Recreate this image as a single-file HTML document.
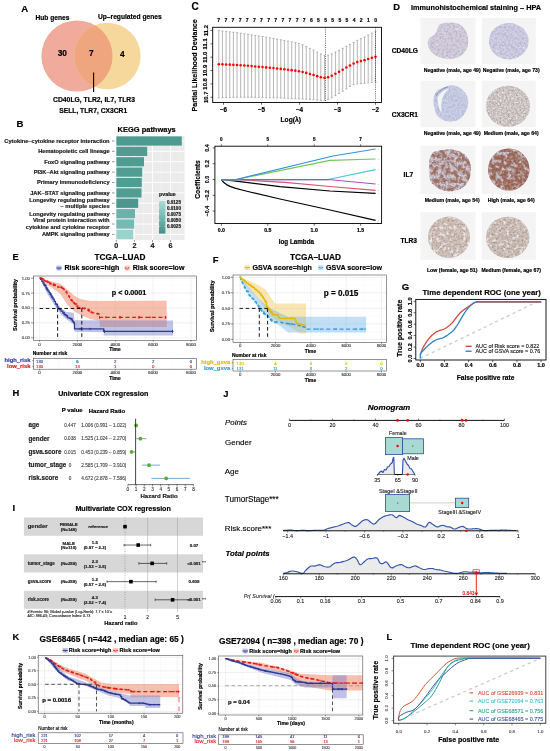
<!DOCTYPE html>
<html><head><meta charset="utf-8"><title>Figure</title>
<style>
html,body{margin:0;padding:0;background:#fff;}
body{width:550px;height:751px;overflow:hidden;}
svg{display:block;font-family:"Liberation Sans", Arial, sans-serif;}
</style></head><body>
<svg width="550" height="751" viewBox="0 0 550 751">
<rect x="0" y="0" width="550" height="751" fill="#fff"/>
<text x="21.30" y="11.80" font-size="9.6" font-weight="bold" stroke="#000" stroke-width="0.18" >A</text>
<defs><clipPath id="clipL"><circle cx="77" cy="56" r="35.6"/></clipPath></defs>
<circle cx="77.00" cy="56.00" r="35.6" fill="#F0AB9C" />
<circle cx="107.30" cy="56.00" r="33.3" fill="#F7D89C" />
<circle cx="107.3" cy="56" r="33.3" fill="#EFA67E" clip-path="url(#clipL)"/>
<text x="35.50" y="19.50" font-size="6.65" font-weight="bold" stroke="#000" stroke-width="0.18" >Hub genes</text>
<text x="98.00" y="19.20" font-size="6.67" font-weight="bold" stroke="#000" stroke-width="0.18" >Up–regulated genes</text>
<text x="62.30" y="56.20" font-size="8.4" font-weight="bold" text-anchor="middle" stroke="#000" stroke-width="0.18" >30</text>
<text x="91.40" y="56.20" font-size="8.4" font-weight="bold" text-anchor="middle" stroke="#000" stroke-width="0.18" >7</text>
<text x="122.40" y="56.60" font-size="8.4" font-weight="bold" text-anchor="middle" stroke="#000" stroke-width="0.18" >4</text>
<line x1="93.60" y1="72.40" x2="93.60" y2="92.00" stroke="#000" stroke-width="1.1" />
<text x="94.00" y="101.80" font-size="6.8" font-weight="bold" text-anchor="middle" stroke="#000" stroke-width="0.18" >CD40LG, TLR2, IL7, TLR3</text>
<text x="93.20" y="112.70" font-size="6.72" font-weight="bold" text-anchor="middle" stroke="#000" stroke-width="0.18" >SELL, TLR7, CX3CR1</text>
<text x="16.60" y="126.80" font-size="9.6" font-weight="bold" stroke="#000" stroke-width="0.18" >B</text>
<text x="117.60" y="132.30" font-size="7.48" font-weight="bold" stroke="#000" stroke-width="0.18" >KEGG pathways</text>
<rect x="116.30" y="136.00" width="68.20" height="104.00" fill="#EBEBEB" />
<line x1="125.35" y1="136.00" x2="125.35" y2="240.00" stroke="#F7F7F7" stroke-width="0.5" />
<line x1="143.45" y1="136.00" x2="143.45" y2="240.00" stroke="#F7F7F7" stroke-width="0.5" />
<line x1="161.55" y1="136.00" x2="161.55" y2="240.00" stroke="#F7F7F7" stroke-width="0.5" />
<line x1="179.65" y1="136.00" x2="179.65" y2="240.00" stroke="#F7F7F7" stroke-width="0.5" />
<line x1="116.30" y1="136.00" x2="116.30" y2="240.00" stroke="#FFFFFF" stroke-width="0.9" />
<line x1="134.40" y1="136.00" x2="134.40" y2="240.00" stroke="#FFFFFF" stroke-width="0.9" />
<line x1="152.50" y1="136.00" x2="152.50" y2="240.00" stroke="#FFFFFF" stroke-width="0.9" />
<line x1="170.60" y1="136.00" x2="170.60" y2="240.00" stroke="#FFFFFF" stroke-width="0.9" />
<line x1="116.30" y1="141.00" x2="184.50" y2="141.00" stroke="#FFFFFF" stroke-width="0.9" />
<line x1="116.30" y1="151.38" x2="184.50" y2="151.38" stroke="#FFFFFF" stroke-width="0.9" />
<line x1="116.30" y1="161.76" x2="184.50" y2="161.76" stroke="#FFFFFF" stroke-width="0.9" />
<line x1="116.30" y1="172.14" x2="184.50" y2="172.14" stroke="#FFFFFF" stroke-width="0.9" />
<line x1="116.30" y1="182.52" x2="184.50" y2="182.52" stroke="#FFFFFF" stroke-width="0.9" />
<line x1="116.30" y1="192.90" x2="184.50" y2="192.90" stroke="#FFFFFF" stroke-width="0.9" />
<line x1="116.30" y1="203.28" x2="184.50" y2="203.28" stroke="#FFFFFF" stroke-width="0.9" />
<line x1="116.30" y1="213.66" x2="184.50" y2="213.66" stroke="#FFFFFF" stroke-width="0.9" />
<line x1="116.30" y1="224.04" x2="184.50" y2="224.04" stroke="#FFFFFF" stroke-width="0.9" />
<line x1="116.30" y1="234.42" x2="184.50" y2="234.42" stroke="#FFFFFF" stroke-width="0.9" />
<rect x="116.30" y="136.40" width="65.50" height="9.20" fill="#4C9A90" />
<line x1="112.00" y1="141.00" x2="114.60" y2="141.00" stroke="#333" stroke-width="0.5" />
<text x="109.60" y="142.90" font-size="5.7" font-weight="bold" text-anchor="end" fill="#1a1a1a" stroke="#1a1a1a" stroke-width="0.18" >Cytokine–cytokine receptor interaction</text>
<rect x="116.30" y="146.78" width="30.90" height="9.20" fill="#4E9C92" />
<line x1="112.00" y1="151.38" x2="114.60" y2="151.38" stroke="#333" stroke-width="0.5" />
<text x="109.60" y="153.28" font-size="5.7" font-weight="bold" text-anchor="end" fill="#1a1a1a" stroke="#1a1a1a" stroke-width="0.18" >Hematopoietic cell lineage</text>
<rect x="116.30" y="157.16" width="27.70" height="9.20" fill="#4E9C92" />
<line x1="112.00" y1="161.76" x2="114.60" y2="161.76" stroke="#333" stroke-width="0.5" />
<text x="109.60" y="163.66" font-size="5.7" font-weight="bold" text-anchor="end" fill="#1a1a1a" stroke="#1a1a1a" stroke-width="0.18" >FoxO signaling pathway</text>
<rect x="116.30" y="167.54" width="25.90" height="9.20" fill="#4F9D93" />
<line x1="112.00" y1="172.14" x2="114.60" y2="172.14" stroke="#333" stroke-width="0.5" />
<text x="109.60" y="174.04" font-size="5.7" font-weight="bold" text-anchor="end" fill="#1a1a1a" stroke="#1a1a1a" stroke-width="0.18" >PI3K–Akt signaling pathway</text>
<rect x="116.30" y="177.92" width="25.50" height="9.20" fill="#4F9D93" />
<line x1="112.00" y1="182.52" x2="114.60" y2="182.52" stroke="#333" stroke-width="0.5" />
<text x="109.60" y="184.42" font-size="5.7" font-weight="bold" text-anchor="end" fill="#1a1a1a" stroke="#1a1a1a" stroke-width="0.18" >Primary immunodeficiency</text>
<rect x="116.30" y="188.30" width="25.20" height="9.20" fill="#4F9D93" />
<line x1="112.00" y1="192.90" x2="114.60" y2="192.90" stroke="#333" stroke-width="0.5" />
<text x="109.60" y="194.80" font-size="5.7" font-weight="bold" text-anchor="end" fill="#1a1a1a" stroke="#1a1a1a" stroke-width="0.18" >JAK–STAT signaling pathway</text>
<rect x="116.30" y="198.68" width="21.90" height="9.20" fill="#4B968D" />
<line x1="112.00" y1="203.28" x2="114.60" y2="203.28" stroke="#333" stroke-width="0.5" />
<text x="109.60" y="201.68" font-size="5.7" font-weight="bold" text-anchor="end" fill="#1a1a1a" stroke="#1a1a1a" stroke-width="0.18" >Longevity regulating pathway</text>
<text x="109.60" y="208.38" font-size="5.7" font-weight="bold" text-anchor="end" fill="#1a1a1a" stroke="#1a1a1a" stroke-width="0.18" >– multiple species</text>
<rect x="116.30" y="209.06" width="18.70" height="9.20" fill="#6AB3AC" />
<line x1="112.00" y1="213.66" x2="114.60" y2="213.66" stroke="#333" stroke-width="0.5" />
<text x="109.60" y="215.56" font-size="5.7" font-weight="bold" text-anchor="end" fill="#1a1a1a" stroke="#1a1a1a" stroke-width="0.18" >Longevity regulating pathway</text>
<rect x="116.30" y="219.44" width="17.90" height="9.20" fill="#75BBB5" />
<line x1="112.00" y1="224.04" x2="114.60" y2="224.04" stroke="#333" stroke-width="0.5" />
<text x="109.60" y="222.44" font-size="5.7" font-weight="bold" text-anchor="end" fill="#1a1a1a" stroke="#1a1a1a" stroke-width="0.18" >Viral protein interaction with</text>
<text x="109.60" y="229.14" font-size="5.7" font-weight="bold" text-anchor="end" fill="#1a1a1a" stroke="#1a1a1a" stroke-width="0.18" >cytokine and cytokine receptor</text>
<rect x="116.30" y="229.82" width="16.70" height="9.20" fill="#9AD3CE" />
<line x1="112.00" y1="234.42" x2="114.60" y2="234.42" stroke="#333" stroke-width="0.5" />
<text x="109.60" y="236.32" font-size="5.7" font-weight="bold" text-anchor="end" fill="#1a1a1a" stroke="#1a1a1a" stroke-width="0.18" >AMPK signaling pathway</text>
<line x1="116.30" y1="240.00" x2="116.30" y2="242.20" stroke="#333" stroke-width="0.5" />
<text x="116.30" y="247.60" font-size="7.2" font-weight="bold" text-anchor="middle" fill="#1a1a1a" stroke="#1a1a1a" stroke-width="0.18" >0</text>
<line x1="134.40" y1="240.00" x2="134.40" y2="242.20" stroke="#333" stroke-width="0.5" />
<text x="134.40" y="247.60" font-size="7.2" font-weight="bold" text-anchor="middle" fill="#1a1a1a" stroke="#1a1a1a" stroke-width="0.18" >2</text>
<line x1="152.50" y1="240.00" x2="152.50" y2="242.20" stroke="#333" stroke-width="0.5" />
<text x="152.50" y="247.60" font-size="7.2" font-weight="bold" text-anchor="middle" fill="#1a1a1a" stroke="#1a1a1a" stroke-width="0.18" >4</text>
<line x1="170.60" y1="240.00" x2="170.60" y2="242.20" stroke="#333" stroke-width="0.5" />
<text x="170.60" y="247.60" font-size="7.2" font-weight="bold" text-anchor="middle" fill="#1a1a1a" stroke="#1a1a1a" stroke-width="0.18" >6</text>
<text x="159.00" y="196.20" font-size="5.3" font-weight="bold" fill="#1a1a1a" stroke="#1a1a1a" stroke-width="0.18" >pvalue</text>
<defs><linearGradient id="gB" x1="0" y1="0" x2="0" y2="1"><stop offset="0" stop-color="#A6DDD9"/><stop offset="1" stop-color="#44918A"/></linearGradient></defs>
<rect x="159.00" y="201.00" width="6.40" height="32.60" fill="url(#gB)" />
<line x1="159.00" y1="201.90" x2="160.30" y2="201.90" stroke="#fff" stroke-width="0.4" />
<line x1="164.10" y1="201.90" x2="165.40" y2="201.90" stroke="#fff" stroke-width="0.4" />
<text x="167.00" y="203.50" font-size="4.55" font-weight="bold" fill="#1a1a1a" stroke="#1a1a1a" stroke-width="0.18" >0.0125</text>
<line x1="159.00" y1="208.05" x2="160.30" y2="208.05" stroke="#fff" stroke-width="0.4" />
<line x1="164.10" y1="208.05" x2="165.40" y2="208.05" stroke="#fff" stroke-width="0.4" />
<text x="167.00" y="209.65" font-size="4.55" font-weight="bold" fill="#1a1a1a" stroke="#1a1a1a" stroke-width="0.18" >0.0100</text>
<line x1="159.00" y1="214.20" x2="160.30" y2="214.20" stroke="#fff" stroke-width="0.4" />
<line x1="164.10" y1="214.20" x2="165.40" y2="214.20" stroke="#fff" stroke-width="0.4" />
<text x="167.00" y="215.80" font-size="4.55" font-weight="bold" fill="#1a1a1a" stroke="#1a1a1a" stroke-width="0.18" >0.0075</text>
<line x1="159.00" y1="220.35" x2="160.30" y2="220.35" stroke="#fff" stroke-width="0.4" />
<line x1="164.10" y1="220.35" x2="165.40" y2="220.35" stroke="#fff" stroke-width="0.4" />
<text x="167.00" y="221.95" font-size="4.55" font-weight="bold" fill="#1a1a1a" stroke="#1a1a1a" stroke-width="0.18" >0.0050</text>
<line x1="159.00" y1="226.50" x2="160.30" y2="226.50" stroke="#fff" stroke-width="0.4" />
<line x1="164.10" y1="226.50" x2="165.40" y2="226.50" stroke="#fff" stroke-width="0.4" />
<text x="167.00" y="228.10" font-size="4.55" font-weight="bold" fill="#1a1a1a" stroke="#1a1a1a" stroke-width="0.18" >0.0025</text>
<text x="191.60" y="10.10" font-size="10.0" font-weight="bold" stroke="#000" stroke-width="0.18" >C</text>
<line x1="218.80" y1="30.60" x2="218.80" y2="97.80" stroke="#9E9E9E" stroke-width="0.75" />
<line x1="217.80" y1="30.60" x2="219.80" y2="30.60" stroke="#9E9E9E" stroke-width="0.75" />
<line x1="217.80" y1="97.80" x2="219.80" y2="97.80" stroke="#9E9E9E" stroke-width="0.75" />
<line x1="222.44" y1="31.01" x2="222.44" y2="97.70" stroke="#9E9E9E" stroke-width="0.75" />
<line x1="221.44" y1="31.01" x2="223.44" y2="31.01" stroke="#9E9E9E" stroke-width="0.75" />
<line x1="221.44" y1="97.70" x2="223.44" y2="97.70" stroke="#9E9E9E" stroke-width="0.75" />
<line x1="226.09" y1="31.42" x2="226.09" y2="97.59" stroke="#9E9E9E" stroke-width="0.75" />
<line x1="225.09" y1="31.42" x2="227.09" y2="31.42" stroke="#9E9E9E" stroke-width="0.75" />
<line x1="225.09" y1="97.59" x2="227.09" y2="97.59" stroke="#9E9E9E" stroke-width="0.75" />
<line x1="229.73" y1="31.83" x2="229.73" y2="97.49" stroke="#9E9E9E" stroke-width="0.75" />
<line x1="228.73" y1="31.83" x2="230.73" y2="31.83" stroke="#9E9E9E" stroke-width="0.75" />
<line x1="228.73" y1="97.49" x2="230.73" y2="97.49" stroke="#9E9E9E" stroke-width="0.75" />
<line x1="233.38" y1="32.26" x2="233.38" y2="97.41" stroke="#9E9E9E" stroke-width="0.75" />
<line x1="232.38" y1="32.26" x2="234.38" y2="32.26" stroke="#9E9E9E" stroke-width="0.75" />
<line x1="232.38" y1="97.41" x2="234.38" y2="97.41" stroke="#9E9E9E" stroke-width="0.75" />
<line x1="237.02" y1="32.70" x2="237.02" y2="97.34" stroke="#9E9E9E" stroke-width="0.75" />
<line x1="236.02" y1="32.70" x2="238.02" y2="32.70" stroke="#9E9E9E" stroke-width="0.75" />
<line x1="236.02" y1="97.34" x2="238.02" y2="97.34" stroke="#9E9E9E" stroke-width="0.75" />
<line x1="240.67" y1="33.18" x2="240.67" y2="97.31" stroke="#9E9E9E" stroke-width="0.75" />
<line x1="239.67" y1="33.18" x2="241.67" y2="33.18" stroke="#9E9E9E" stroke-width="0.75" />
<line x1="239.67" y1="97.31" x2="241.67" y2="97.31" stroke="#9E9E9E" stroke-width="0.75" />
<line x1="244.31" y1="33.70" x2="244.31" y2="97.32" stroke="#9E9E9E" stroke-width="0.75" />
<line x1="243.31" y1="33.70" x2="245.31" y2="33.70" stroke="#9E9E9E" stroke-width="0.75" />
<line x1="243.31" y1="97.32" x2="245.31" y2="97.32" stroke="#9E9E9E" stroke-width="0.75" />
<line x1="247.95" y1="34.25" x2="247.95" y2="97.35" stroke="#9E9E9E" stroke-width="0.75" />
<line x1="246.95" y1="34.25" x2="248.95" y2="34.25" stroke="#9E9E9E" stroke-width="0.75" />
<line x1="246.95" y1="97.35" x2="248.95" y2="97.35" stroke="#9E9E9E" stroke-width="0.75" />
<line x1="251.60" y1="34.81" x2="251.60" y2="97.41" stroke="#9E9E9E" stroke-width="0.75" />
<line x1="250.60" y1="34.81" x2="252.60" y2="34.81" stroke="#9E9E9E" stroke-width="0.75" />
<line x1="250.60" y1="97.41" x2="252.60" y2="97.41" stroke="#9E9E9E" stroke-width="0.75" />
<line x1="255.24" y1="35.39" x2="255.24" y2="97.47" stroke="#9E9E9E" stroke-width="0.75" />
<line x1="254.24" y1="35.39" x2="256.24" y2="35.39" stroke="#9E9E9E" stroke-width="0.75" />
<line x1="254.24" y1="97.47" x2="256.24" y2="97.47" stroke="#9E9E9E" stroke-width="0.75" />
<line x1="258.89" y1="35.98" x2="258.89" y2="97.55" stroke="#9E9E9E" stroke-width="0.75" />
<line x1="257.89" y1="35.98" x2="259.89" y2="35.98" stroke="#9E9E9E" stroke-width="0.75" />
<line x1="257.89" y1="97.55" x2="259.89" y2="97.55" stroke="#9E9E9E" stroke-width="0.75" />
<line x1="262.53" y1="36.57" x2="262.53" y2="97.61" stroke="#9E9E9E" stroke-width="0.75" />
<line x1="261.53" y1="36.57" x2="263.53" y2="36.57" stroke="#9E9E9E" stroke-width="0.75" />
<line x1="261.53" y1="97.61" x2="263.53" y2="97.61" stroke="#9E9E9E" stroke-width="0.75" />
<line x1="266.17" y1="37.18" x2="266.17" y2="97.66" stroke="#9E9E9E" stroke-width="0.75" />
<line x1="265.17" y1="37.18" x2="267.17" y2="37.18" stroke="#9E9E9E" stroke-width="0.75" />
<line x1="265.17" y1="97.66" x2="267.17" y2="97.66" stroke="#9E9E9E" stroke-width="0.75" />
<line x1="269.82" y1="37.79" x2="269.82" y2="97.72" stroke="#9E9E9E" stroke-width="0.75" />
<line x1="268.82" y1="37.79" x2="270.82" y2="37.79" stroke="#9E9E9E" stroke-width="0.75" />
<line x1="268.82" y1="97.72" x2="270.82" y2="97.72" stroke="#9E9E9E" stroke-width="0.75" />
<line x1="273.46" y1="38.42" x2="273.46" y2="97.80" stroke="#9E9E9E" stroke-width="0.75" />
<line x1="272.46" y1="38.42" x2="274.46" y2="38.42" stroke="#9E9E9E" stroke-width="0.75" />
<line x1="272.46" y1="97.80" x2="274.46" y2="97.80" stroke="#9E9E9E" stroke-width="0.75" />
<line x1="277.11" y1="39.07" x2="277.11" y2="97.89" stroke="#9E9E9E" stroke-width="0.75" />
<line x1="276.11" y1="39.07" x2="278.11" y2="39.07" stroke="#9E9E9E" stroke-width="0.75" />
<line x1="276.11" y1="97.89" x2="278.11" y2="97.89" stroke="#9E9E9E" stroke-width="0.75" />
<line x1="280.75" y1="39.75" x2="280.75" y2="98.02" stroke="#9E9E9E" stroke-width="0.75" />
<line x1="279.75" y1="39.75" x2="281.75" y2="39.75" stroke="#9E9E9E" stroke-width="0.75" />
<line x1="279.75" y1="98.02" x2="281.75" y2="98.02" stroke="#9E9E9E" stroke-width="0.75" />
<line x1="284.40" y1="40.44" x2="284.40" y2="98.15" stroke="#9E9E9E" stroke-width="0.75" />
<line x1="283.40" y1="40.44" x2="285.40" y2="40.44" stroke="#9E9E9E" stroke-width="0.75" />
<line x1="283.40" y1="98.15" x2="285.40" y2="98.15" stroke="#9E9E9E" stroke-width="0.75" />
<line x1="288.04" y1="41.14" x2="288.04" y2="98.29" stroke="#9E9E9E" stroke-width="0.75" />
<line x1="287.04" y1="41.14" x2="289.04" y2="41.14" stroke="#9E9E9E" stroke-width="0.75" />
<line x1="287.04" y1="98.29" x2="289.04" y2="98.29" stroke="#9E9E9E" stroke-width="0.75" />
<line x1="291.68" y1="41.86" x2="291.68" y2="98.45" stroke="#9E9E9E" stroke-width="0.75" />
<line x1="290.68" y1="41.86" x2="292.68" y2="41.86" stroke="#9E9E9E" stroke-width="0.75" />
<line x1="290.68" y1="98.45" x2="292.68" y2="98.45" stroke="#9E9E9E" stroke-width="0.75" />
<line x1="295.33" y1="42.63" x2="295.33" y2="98.66" stroke="#9E9E9E" stroke-width="0.75" />
<line x1="294.33" y1="42.63" x2="296.33" y2="42.63" stroke="#9E9E9E" stroke-width="0.75" />
<line x1="294.33" y1="98.66" x2="296.33" y2="98.66" stroke="#9E9E9E" stroke-width="0.75" />
<line x1="298.97" y1="43.47" x2="298.97" y2="98.95" stroke="#9E9E9E" stroke-width="0.75" />
<line x1="297.97" y1="43.47" x2="299.97" y2="43.47" stroke="#9E9E9E" stroke-width="0.75" />
<line x1="297.97" y1="98.95" x2="299.97" y2="98.95" stroke="#9E9E9E" stroke-width="0.75" />
<line x1="302.62" y1="44.88" x2="302.62" y2="98.99" stroke="#9E9E9E" stroke-width="0.75" />
<line x1="301.62" y1="44.88" x2="303.62" y2="44.88" stroke="#9E9E9E" stroke-width="0.75" />
<line x1="301.62" y1="98.99" x2="303.62" y2="98.99" stroke="#9E9E9E" stroke-width="0.75" />
<line x1="306.26" y1="46.59" x2="306.26" y2="99.19" stroke="#9E9E9E" stroke-width="0.75" />
<line x1="305.26" y1="46.59" x2="307.26" y2="46.59" stroke="#9E9E9E" stroke-width="0.75" />
<line x1="305.26" y1="99.19" x2="307.26" y2="99.19" stroke="#9E9E9E" stroke-width="0.75" />
<line x1="309.90" y1="48.40" x2="309.90" y2="99.48" stroke="#9E9E9E" stroke-width="0.75" />
<line x1="308.90" y1="48.40" x2="310.90" y2="48.40" stroke="#9E9E9E" stroke-width="0.75" />
<line x1="308.90" y1="99.48" x2="310.90" y2="99.48" stroke="#9E9E9E" stroke-width="0.75" />
<line x1="313.55" y1="50.16" x2="313.55" y2="99.72" stroke="#9E9E9E" stroke-width="0.75" />
<line x1="312.55" y1="50.16" x2="314.55" y2="50.16" stroke="#9E9E9E" stroke-width="0.75" />
<line x1="312.55" y1="99.72" x2="314.55" y2="99.72" stroke="#9E9E9E" stroke-width="0.75" />
<line x1="317.19" y1="52.12" x2="317.19" y2="100.17" stroke="#9E9E9E" stroke-width="0.75" />
<line x1="316.19" y1="52.12" x2="318.19" y2="52.12" stroke="#9E9E9E" stroke-width="0.75" />
<line x1="316.19" y1="100.17" x2="318.19" y2="100.17" stroke="#9E9E9E" stroke-width="0.75" />
<line x1="320.84" y1="53.98" x2="320.84" y2="100.52" stroke="#9E9E9E" stroke-width="0.75" />
<line x1="319.84" y1="53.98" x2="321.84" y2="53.98" stroke="#9E9E9E" stroke-width="0.75" />
<line x1="319.84" y1="100.52" x2="321.84" y2="100.52" stroke="#9E9E9E" stroke-width="0.75" />
<line x1="324.48" y1="55.30" x2="324.48" y2="100.32" stroke="#9E9E9E" stroke-width="0.75" />
<line x1="323.48" y1="55.30" x2="325.48" y2="55.30" stroke="#9E9E9E" stroke-width="0.75" />
<line x1="323.48" y1="100.32" x2="325.48" y2="100.32" stroke="#9E9E9E" stroke-width="0.75" />
<line x1="328.13" y1="55.15" x2="328.13" y2="99.49" stroke="#9E9E9E" stroke-width="0.75" />
<line x1="327.13" y1="55.15" x2="329.13" y2="55.15" stroke="#9E9E9E" stroke-width="0.75" />
<line x1="327.13" y1="99.49" x2="329.13" y2="99.49" stroke="#9E9E9E" stroke-width="0.75" />
<line x1="331.77" y1="53.82" x2="331.77" y2="97.79" stroke="#9E9E9E" stroke-width="0.75" />
<line x1="330.77" y1="53.82" x2="332.77" y2="53.82" stroke="#9E9E9E" stroke-width="0.75" />
<line x1="330.77" y1="97.79" x2="332.77" y2="97.79" stroke="#9E9E9E" stroke-width="0.75" />
<line x1="335.41" y1="52.01" x2="335.41" y2="95.62" stroke="#9E9E9E" stroke-width="0.75" />
<line x1="334.41" y1="52.01" x2="336.41" y2="52.01" stroke="#9E9E9E" stroke-width="0.75" />
<line x1="334.41" y1="95.62" x2="336.41" y2="95.62" stroke="#9E9E9E" stroke-width="0.75" />
<line x1="339.06" y1="50.24" x2="339.06" y2="93.50" stroke="#9E9E9E" stroke-width="0.75" />
<line x1="338.06" y1="50.24" x2="340.06" y2="50.24" stroke="#9E9E9E" stroke-width="0.75" />
<line x1="338.06" y1="93.50" x2="340.06" y2="93.50" stroke="#9E9E9E" stroke-width="0.75" />
<line x1="342.70" y1="48.29" x2="342.70" y2="91.23" stroke="#9E9E9E" stroke-width="0.75" />
<line x1="341.70" y1="48.29" x2="343.70" y2="48.29" stroke="#9E9E9E" stroke-width="0.75" />
<line x1="341.70" y1="91.23" x2="343.70" y2="91.23" stroke="#9E9E9E" stroke-width="0.75" />
<line x1="346.35" y1="46.25" x2="346.35" y2="88.88" stroke="#9E9E9E" stroke-width="0.75" />
<line x1="345.35" y1="46.25" x2="347.35" y2="46.25" stroke="#9E9E9E" stroke-width="0.75" />
<line x1="345.35" y1="88.88" x2="347.35" y2="88.88" stroke="#9E9E9E" stroke-width="0.75" />
<line x1="349.99" y1="44.28" x2="349.99" y2="86.59" stroke="#9E9E9E" stroke-width="0.75" />
<line x1="348.99" y1="44.28" x2="350.99" y2="44.28" stroke="#9E9E9E" stroke-width="0.75" />
<line x1="348.99" y1="86.59" x2="350.99" y2="86.59" stroke="#9E9E9E" stroke-width="0.75" />
<line x1="353.63" y1="42.51" x2="353.63" y2="84.57" stroke="#9E9E9E" stroke-width="0.75" />
<line x1="352.63" y1="42.51" x2="354.63" y2="42.51" stroke="#9E9E9E" stroke-width="0.75" />
<line x1="352.63" y1="84.57" x2="354.63" y2="84.57" stroke="#9E9E9E" stroke-width="0.75" />
<line x1="357.28" y1="40.36" x2="357.28" y2="83.87" stroke="#9E9E9E" stroke-width="0.75" />
<line x1="356.28" y1="40.36" x2="358.28" y2="40.36" stroke="#9E9E9E" stroke-width="0.75" />
<line x1="356.28" y1="83.87" x2="358.28" y2="83.87" stroke="#9E9E9E" stroke-width="0.75" />
<line x1="360.92" y1="38.61" x2="360.92" y2="83.58" stroke="#9E9E9E" stroke-width="0.75" />
<line x1="359.92" y1="38.61" x2="361.92" y2="38.61" stroke="#9E9E9E" stroke-width="0.75" />
<line x1="359.92" y1="83.58" x2="361.92" y2="83.58" stroke="#9E9E9E" stroke-width="0.75" />
<line x1="364.57" y1="36.91" x2="364.57" y2="83.34" stroke="#9E9E9E" stroke-width="0.75" />
<line x1="363.57" y1="36.91" x2="365.57" y2="36.91" stroke="#9E9E9E" stroke-width="0.75" />
<line x1="363.57" y1="83.34" x2="365.57" y2="83.34" stroke="#9E9E9E" stroke-width="0.75" />
<line x1="368.21" y1="35.05" x2="368.21" y2="82.93" stroke="#9E9E9E" stroke-width="0.75" />
<line x1="367.21" y1="35.05" x2="369.21" y2="35.05" stroke="#9E9E9E" stroke-width="0.75" />
<line x1="367.21" y1="82.93" x2="369.21" y2="82.93" stroke="#9E9E9E" stroke-width="0.75" />
<line x1="371.86" y1="33.17" x2="371.86" y2="82.52" stroke="#9E9E9E" stroke-width="0.75" />
<line x1="370.86" y1="33.17" x2="372.86" y2="33.17" stroke="#9E9E9E" stroke-width="0.75" />
<line x1="370.86" y1="82.52" x2="372.86" y2="82.52" stroke="#9E9E9E" stroke-width="0.75" />
<line x1="375.50" y1="31.30" x2="375.50" y2="82.10" stroke="#9E9E9E" stroke-width="0.75" />
<line x1="374.50" y1="31.30" x2="376.50" y2="31.30" stroke="#9E9E9E" stroke-width="0.75" />
<line x1="374.50" y1="82.10" x2="376.50" y2="82.10" stroke="#9E9E9E" stroke-width="0.75" />
<circle cx="218.80" cy="64.20" r="1.3" fill="#FF0000" />
<circle cx="222.44" cy="64.35" r="1.3" fill="#FF0000" />
<circle cx="226.09" cy="64.50" r="1.3" fill="#FF0000" />
<circle cx="229.73" cy="64.66" r="1.3" fill="#FF0000" />
<circle cx="233.38" cy="64.83" r="1.3" fill="#FF0000" />
<circle cx="237.02" cy="65.02" r="1.3" fill="#FF0000" />
<circle cx="240.67" cy="65.25" r="1.3" fill="#FF0000" />
<circle cx="244.31" cy="65.51" r="1.3" fill="#FF0000" />
<circle cx="247.95" cy="65.80" r="1.3" fill="#FF0000" />
<circle cx="251.60" cy="66.11" r="1.3" fill="#FF0000" />
<circle cx="255.24" cy="66.43" r="1.3" fill="#FF0000" />
<circle cx="258.89" cy="66.76" r="1.3" fill="#FF0000" />
<circle cx="262.53" cy="67.09" r="1.3" fill="#FF0000" />
<circle cx="266.17" cy="67.42" r="1.3" fill="#FF0000" />
<circle cx="269.82" cy="67.76" r="1.3" fill="#FF0000" />
<circle cx="273.46" cy="68.11" r="1.3" fill="#FF0000" />
<circle cx="277.11" cy="68.48" r="1.3" fill="#FF0000" />
<circle cx="280.75" cy="68.88" r="1.3" fill="#FF0000" />
<circle cx="284.40" cy="69.29" r="1.3" fill="#FF0000" />
<circle cx="288.04" cy="69.71" r="1.3" fill="#FF0000" />
<circle cx="291.68" cy="70.16" r="1.3" fill="#FF0000" />
<circle cx="295.33" cy="70.64" r="1.3" fill="#FF0000" />
<circle cx="298.97" cy="71.21" r="1.3" fill="#FF0000" />
<circle cx="302.62" cy="71.94" r="1.3" fill="#FF0000" />
<circle cx="306.26" cy="72.89" r="1.3" fill="#FF0000" />
<circle cx="309.90" cy="73.94" r="1.3" fill="#FF0000" />
<circle cx="313.55" cy="74.94" r="1.3" fill="#FF0000" />
<circle cx="317.19" cy="76.15" r="1.3" fill="#FF0000" />
<circle cx="320.84" cy="77.25" r="1.3" fill="#FF0000" />
<circle cx="324.48" cy="77.81" r="1.3" fill="#FF0000" />
<circle cx="328.13" cy="77.32" r="1.3" fill="#FF0000" />
<circle cx="331.77" cy="75.80" r="1.3" fill="#FF0000" />
<circle cx="335.41" cy="73.81" r="1.3" fill="#FF0000" />
<circle cx="339.06" cy="71.87" r="1.3" fill="#FF0000" />
<circle cx="342.70" cy="69.76" r="1.3" fill="#FF0000" />
<circle cx="346.35" cy="67.57" r="1.3" fill="#FF0000" />
<circle cx="349.99" cy="65.43" r="1.3" fill="#FF0000" />
<circle cx="353.63" cy="63.54" r="1.3" fill="#FF0000" />
<circle cx="357.28" cy="62.12" r="1.3" fill="#FF0000" />
<circle cx="360.92" cy="61.10" r="1.3" fill="#FF0000" />
<circle cx="364.57" cy="60.13" r="1.3" fill="#FF0000" />
<circle cx="368.21" cy="58.99" r="1.3" fill="#FF0000" />
<circle cx="371.86" cy="57.85" r="1.3" fill="#FF0000" />
<circle cx="375.50" cy="56.70" r="1.3" fill="#FF0000" />
<line x1="325.50" y1="27.30" x2="325.50" y2="102.50" stroke="#000" stroke-width="0.6" stroke-dasharray="1,1.2" />
<line x1="375.50" y1="27.30" x2="375.50" y2="102.50" stroke="#000" stroke-width="0.6" stroke-dasharray="1,1.2" />
<rect x="212.70" y="27.30" width="168.80" height="75.20" fill="none" stroke="#000" stroke-width="0.9" />
<line x1="210.50" y1="30.50" x2="212.70" y2="30.50" stroke="#000" stroke-width="0.6" />
<text x="207.50" y="30.50" font-size="5.9" font-weight="bold" text-anchor="middle" stroke="#000" stroke-width="0.18" transform="rotate(-90 207.50 30.50)" >11.2</text>
<line x1="210.50" y1="43.85" x2="212.70" y2="43.85" stroke="#000" stroke-width="0.6" />
<text x="207.50" y="43.85" font-size="5.9" font-weight="bold" text-anchor="middle" stroke="#000" stroke-width="0.18" transform="rotate(-90 207.50 43.85)" >11.1</text>
<line x1="210.50" y1="57.20" x2="212.70" y2="57.20" stroke="#000" stroke-width="0.6" />
<text x="207.50" y="57.20" font-size="5.9" font-weight="bold" text-anchor="middle" stroke="#000" stroke-width="0.18" transform="rotate(-90 207.50 57.20)" >11.0</text>
<line x1="210.50" y1="70.55" x2="212.70" y2="70.55" stroke="#000" stroke-width="0.6" />
<text x="207.50" y="70.55" font-size="5.9" font-weight="bold" text-anchor="middle" stroke="#000" stroke-width="0.18" transform="rotate(-90 207.50 70.55)" >10.9</text>
<line x1="210.50" y1="83.90" x2="212.70" y2="83.90" stroke="#000" stroke-width="0.6" />
<text x="207.50" y="83.90" font-size="5.9" font-weight="bold" text-anchor="middle" stroke="#000" stroke-width="0.18" transform="rotate(-90 207.50 83.90)" >10.8</text>
<line x1="210.50" y1="97.25" x2="212.70" y2="97.25" stroke="#000" stroke-width="0.6" />
<text x="207.50" y="97.25" font-size="5.9" font-weight="bold" text-anchor="middle" stroke="#000" stroke-width="0.18" transform="rotate(-90 207.50 97.25)" >10.7</text>
<line x1="223.50" y1="102.50" x2="223.50" y2="104.70" stroke="#000" stroke-width="0.6" />
<text x="223.50" y="112.20" font-size="6.3" font-weight="bold" text-anchor="middle" stroke="#000" stroke-width="0.18" >−6</text>
<line x1="261.50" y1="102.50" x2="261.50" y2="104.70" stroke="#000" stroke-width="0.6" />
<text x="261.50" y="112.20" font-size="6.3" font-weight="bold" text-anchor="middle" stroke="#000" stroke-width="0.18" >−5</text>
<line x1="299.50" y1="102.50" x2="299.50" y2="104.70" stroke="#000" stroke-width="0.6" />
<text x="299.50" y="112.20" font-size="6.3" font-weight="bold" text-anchor="middle" stroke="#000" stroke-width="0.18" >−4</text>
<line x1="337.50" y1="102.50" x2="337.50" y2="104.70" stroke="#000" stroke-width="0.6" />
<text x="337.50" y="112.20" font-size="6.3" font-weight="bold" text-anchor="middle" stroke="#000" stroke-width="0.18" >−3</text>
<line x1="375.50" y1="102.50" x2="375.50" y2="104.70" stroke="#000" stroke-width="0.6" />
<text x="375.50" y="112.20" font-size="6.3" font-weight="bold" text-anchor="middle" stroke="#000" stroke-width="0.18" >−2</text>
<text x="218.70" y="21.50" font-size="5.0" font-weight="bold" text-anchor="middle" stroke="#000" stroke-width="0.18" >7</text>
<text x="225.83" y="21.50" font-size="5.0" font-weight="bold" text-anchor="middle" stroke="#000" stroke-width="0.18" >7</text>
<text x="232.96" y="21.50" font-size="5.0" font-weight="bold" text-anchor="middle" stroke="#000" stroke-width="0.18" >7</text>
<text x="240.08" y="21.50" font-size="5.0" font-weight="bold" text-anchor="middle" stroke="#000" stroke-width="0.18" >7</text>
<text x="247.21" y="21.50" font-size="5.0" font-weight="bold" text-anchor="middle" stroke="#000" stroke-width="0.18" >7</text>
<text x="254.34" y="21.50" font-size="5.0" font-weight="bold" text-anchor="middle" stroke="#000" stroke-width="0.18" >7</text>
<text x="261.47" y="21.50" font-size="5.0" font-weight="bold" text-anchor="middle" stroke="#000" stroke-width="0.18" >7</text>
<text x="268.60" y="21.50" font-size="5.0" font-weight="bold" text-anchor="middle" stroke="#000" stroke-width="0.18" >7</text>
<text x="275.72" y="21.50" font-size="5.0" font-weight="bold" text-anchor="middle" stroke="#000" stroke-width="0.18" >7</text>
<text x="282.85" y="21.50" font-size="5.0" font-weight="bold" text-anchor="middle" stroke="#000" stroke-width="0.18" >7</text>
<text x="289.98" y="21.50" font-size="5.0" font-weight="bold" text-anchor="middle" stroke="#000" stroke-width="0.18" >7</text>
<text x="297.11" y="21.50" font-size="5.0" font-weight="bold" text-anchor="middle" stroke="#000" stroke-width="0.18" >7</text>
<text x="304.24" y="21.50" font-size="5.0" font-weight="bold" text-anchor="middle" stroke="#000" stroke-width="0.18" >7</text>
<text x="311.36" y="21.50" font-size="5.0" font-weight="bold" text-anchor="middle" stroke="#000" stroke-width="0.18" >6</text>
<text x="318.49" y="21.50" font-size="5.0" font-weight="bold" text-anchor="middle" stroke="#000" stroke-width="0.18" >5</text>
<text x="325.62" y="21.50" font-size="5.0" font-weight="bold" text-anchor="middle" stroke="#000" stroke-width="0.18" >5</text>
<text x="332.75" y="21.50" font-size="5.0" font-weight="bold" text-anchor="middle" stroke="#000" stroke-width="0.18" >5</text>
<text x="339.88" y="21.50" font-size="5.0" font-weight="bold" text-anchor="middle" stroke="#000" stroke-width="0.18" >5</text>
<text x="347.00" y="21.50" font-size="5.0" font-weight="bold" text-anchor="middle" stroke="#000" stroke-width="0.18" >5</text>
<text x="354.13" y="21.50" font-size="5.0" font-weight="bold" text-anchor="middle" stroke="#000" stroke-width="0.18" >4</text>
<text x="361.26" y="21.50" font-size="5.0" font-weight="bold" text-anchor="middle" stroke="#000" stroke-width="0.18" >2</text>
<text x="368.39" y="21.50" font-size="5.0" font-weight="bold" text-anchor="middle" stroke="#000" stroke-width="0.18" >1</text>
<text x="375.52" y="21.50" font-size="5.0" font-weight="bold" text-anchor="middle" stroke="#000" stroke-width="0.18" >0</text>
<text x="197.20" y="65.40" font-size="7.1" font-weight="bold" text-anchor="middle" stroke="#000" stroke-width="0.18" transform="rotate(-90 197.20 65.40)" >Partial Likelihood Deviance</text>
<text x="290.80" y="121.50" font-size="6.74" font-weight="bold" text-anchor="middle" stroke="#000" stroke-width="0.18" >Log(λ)</text>
<polyline points="221.40,179.50 223.50,182.20 226.50,184.60 230.00,186.40 235.00,188.10 242.00,190.00 250.00,192.00 280.00,199.00 330.00,210.00 375.60,220.40" fill="none" stroke="#000000" stroke-width="1.25" stroke-linejoin="round"/>
<polyline points="221.40,179.50 236.00,181.20 280.00,186.60 330.00,191.00 375.60,193.40" fill="none" stroke="#000000" stroke-width="1.25" stroke-linejoin="round"/>
<polyline points="221.40,179.50 236.00,179.50 285.00,182.30 330.00,186.50 375.60,190.40" fill="none" stroke="#D9546E" stroke-width="1.25" stroke-linejoin="round"/>
<polyline points="221.40,179.50 328.00,179.50 375.60,169.60" fill="none" stroke="#4DC9D3" stroke-width="1.25" stroke-linejoin="round"/>
<polyline points="221.40,179.50 236.00,179.50 328.00,179.50 375.60,184.00" fill="none" stroke="#BB44BB" stroke-width="1.25" stroke-linejoin="round"/>
<polyline points="221.40,179.50 236.00,179.50 330.00,160.40 375.60,159.00" fill="none" stroke="#72C65A" stroke-width="1.25" stroke-linejoin="round"/>
<polyline points="221.40,179.50 236.00,179.50 333.00,156.00 375.60,149.00" fill="none" stroke="#3A90DC" stroke-width="1.25" stroke-linejoin="round"/>
<text x="378.60" y="221.20" font-size="2.2" text-anchor="middle" fill="#888" stroke="#888" stroke-width="0.12" >•</text>
<text x="378.60" y="194.20" font-size="2.2" text-anchor="middle" fill="#888" stroke="#888" stroke-width="0.12" >•</text>
<text x="378.60" y="191.20" font-size="2.2" text-anchor="middle" fill="#888" stroke="#888" stroke-width="0.12" >•</text>
<text x="378.60" y="170.40" font-size="2.2" text-anchor="middle" fill="#888" stroke="#888" stroke-width="0.12" >•</text>
<text x="378.60" y="184.80" font-size="2.2" text-anchor="middle" fill="#888" stroke="#888" stroke-width="0.12" >•</text>
<text x="378.60" y="159.80" font-size="2.2" text-anchor="middle" fill="#888" stroke="#888" stroke-width="0.12" >•</text>
<text x="378.60" y="149.80" font-size="2.2" text-anchor="middle" fill="#888" stroke="#888" stroke-width="0.12" >•</text>
<rect x="214.90" y="146.20" width="166.70" height="77.30" fill="none" stroke="#000" stroke-width="0.9" />
<line x1="212.70" y1="147.90" x2="214.90" y2="147.90" stroke="#000" stroke-width="0.6" />
<text x="209.20" y="147.90" font-size="5.4" font-weight="bold" text-anchor="middle" stroke="#000" stroke-width="0.18" transform="rotate(-90 209.20 147.90)" >0.4</text>
<line x1="212.70" y1="163.70" x2="214.90" y2="163.70" stroke="#000" stroke-width="0.6" />
<text x="209.20" y="163.70" font-size="5.4" font-weight="bold" text-anchor="middle" stroke="#000" stroke-width="0.18" transform="rotate(-90 209.20 163.70)" >0.2</text>
<line x1="212.70" y1="179.50" x2="214.90" y2="179.50" stroke="#000" stroke-width="0.6" />
<text x="209.20" y="179.50" font-size="5.4" font-weight="bold" text-anchor="middle" stroke="#000" stroke-width="0.18" transform="rotate(-90 209.20 179.50)" >0.0</text>
<line x1="212.70" y1="195.30" x2="214.90" y2="195.30" stroke="#000" stroke-width="0.6" />
<text x="209.20" y="195.30" font-size="5.4" font-weight="bold" text-anchor="middle" stroke="#000" stroke-width="0.18" transform="rotate(-90 209.20 195.30)" >−0.2</text>
<line x1="212.70" y1="211.10" x2="214.90" y2="211.10" stroke="#000" stroke-width="0.6" />
<text x="209.20" y="211.10" font-size="5.4" font-weight="bold" text-anchor="middle" stroke="#000" stroke-width="0.18" transform="rotate(-90 209.20 211.10)" >−0.4</text>
<line x1="221.40" y1="223.50" x2="221.40" y2="225.70" stroke="#000" stroke-width="0.6" />
<text x="221.40" y="231.80" font-size="5.2" font-weight="bold" text-anchor="middle" stroke="#000" stroke-width="0.18" >0.0</text>
<line x1="267.80" y1="223.50" x2="267.80" y2="225.70" stroke="#000" stroke-width="0.6" />
<text x="267.80" y="231.80" font-size="5.2" font-weight="bold" text-anchor="middle" stroke="#000" stroke-width="0.18" >0.5</text>
<line x1="314.20" y1="223.50" x2="314.20" y2="225.70" stroke="#000" stroke-width="0.6" />
<text x="314.20" y="231.80" font-size="5.2" font-weight="bold" text-anchor="middle" stroke="#000" stroke-width="0.18" >1.0</text>
<line x1="360.60" y1="223.50" x2="360.60" y2="225.70" stroke="#000" stroke-width="0.6" />
<text x="360.60" y="231.80" font-size="5.2" font-weight="bold" text-anchor="middle" stroke="#000" stroke-width="0.18" >1.5</text>
<line x1="221.40" y1="146.20" x2="221.40" y2="144.40" stroke="#000" stroke-width="0.6" />
<text x="221.40" y="141.30" font-size="4.6" font-weight="bold" text-anchor="middle" stroke="#000" stroke-width="0.18" >0</text>
<line x1="267.80" y1="146.20" x2="267.80" y2="144.40" stroke="#000" stroke-width="0.6" />
<text x="267.80" y="141.30" font-size="4.6" font-weight="bold" text-anchor="middle" stroke="#000" stroke-width="0.18" >5</text>
<line x1="314.20" y1="146.20" x2="314.20" y2="144.40" stroke="#000" stroke-width="0.6" />
<text x="314.20" y="141.30" font-size="4.6" font-weight="bold" text-anchor="middle" stroke="#000" stroke-width="0.18" >5</text>
<line x1="360.60" y1="146.20" x2="360.60" y2="144.40" stroke="#000" stroke-width="0.6" />
<text x="360.60" y="141.30" font-size="4.6" font-weight="bold" text-anchor="middle" stroke="#000" stroke-width="0.18" >7</text>
<text x="199.90" y="179.50" font-size="6.74" font-weight="bold" text-anchor="middle" stroke="#000" stroke-width="0.18" transform="rotate(-90 199.90 179.50)" >Coefficients</text>
<text x="278.70" y="244.40" font-size="6.3" font-weight="bold" stroke="#000" stroke-width="0.18" >log Lambda</text>
<text x="393.30" y="10.10" font-size="9.4" font-weight="bold" stroke="#000" stroke-width="0.18" >D</text>
<text x="411.00" y="9.80" font-size="7.31" font-weight="bold" stroke="#000" stroke-width="0.18" >Immunohistochemical staining – HPA</text>
<defs>
</defs>
<text x="391.70" y="52.70" font-size="6.65" font-weight="bold" stroke="#000" stroke-width="0.18" >CD40LG</text>
<rect x="420.50" y="18.00" width="55.00" height="46.00" fill="#F4F4F4" />
<rect x="481.80" y="18.00" width="54.00" height="46.00" fill="#F4F4F4" />
<path d="M449.60,22.70 L451.28,22.72 L453.02,22.81 L454.76,23.00 L456.45,23.31 L458.05,23.76 L459.50,24.40 L460.83,25.24 L462.08,26.27 L463.23,27.44 L464.28,28.73 L465.20,30.10 L466.00,31.50 L466.67,32.99 L467.21,34.61 L467.64,36.30 L467.95,38.01 L468.14,39.70 L468.20,41.30 L468.14,42.84 L467.95,44.36 L467.64,45.86 L467.21,47.30 L466.67,48.69 L466.00,50.00 L465.20,51.26 L464.28,52.49 L463.23,53.66 L462.08,54.73 L460.83,55.69 L459.50,56.50 L458.07,57.17 L456.53,57.71 L454.89,58.14 L453.18,58.45 L451.41,58.64 L449.60,58.70 L447.67,58.64 L445.59,58.45 L443.46,58.14 L441.35,57.71 L439.37,57.17 L437.60,56.50 L436.02,55.68 L434.54,54.69 L433.19,53.59 L431.97,52.41 L430.90,51.20 L430.00,50.00 L429.27,48.77 L428.70,47.45 L428.29,46.10 L428.01,44.77 L427.85,43.52 L427.80,42.40 L427.89,41.40 L428.13,40.49 L428.49,39.65 L428.94,38.88 L429.46,38.16 L430.00,37.50 L430.63,36.93 L431.37,36.47 L432.17,36.06 L432.98,35.67 L433.74,35.23 L434.40,34.70 L434.95,34.09 L435.43,33.44 L435.86,32.75 L436.26,32.01 L436.67,31.23 L437.10,30.40 L437.47,29.45 L437.74,28.37 L438.01,27.24 L438.37,26.14 L438.94,25.17 L439.80,24.40 L441.02,23.83 L442.54,23.39 L444.25,23.07 L446.06,22.86 L447.88,22.74 L449.60,22.70 Z" fill="#D4CFDD"/>
<filter id="tx1" x="0" y="0" width="1" height="1" color-interpolation-filters="sRGB"><feTurbulence type="fractalNoise" baseFrequency="0.45" numOctaves="3" seed="0" result="n"/><feColorMatrix in="n" type="matrix" values="0 0 0 0 0.690  0 0 0 0 0.659  0 0 0 0 0.761  1.8 0 0 0 -0.7" result="c"/><feComposite in="c" in2="SourceAlpha" operator="in"/></filter>
<path d="M449.60,22.70 L451.28,22.72 L453.02,22.81 L454.76,23.00 L456.45,23.31 L458.05,23.76 L459.50,24.40 L460.83,25.24 L462.08,26.27 L463.23,27.44 L464.28,28.73 L465.20,30.10 L466.00,31.50 L466.67,32.99 L467.21,34.61 L467.64,36.30 L467.95,38.01 L468.14,39.70 L468.20,41.30 L468.14,42.84 L467.95,44.36 L467.64,45.86 L467.21,47.30 L466.67,48.69 L466.00,50.00 L465.20,51.26 L464.28,52.49 L463.23,53.66 L462.08,54.73 L460.83,55.69 L459.50,56.50 L458.07,57.17 L456.53,57.71 L454.89,58.14 L453.18,58.45 L451.41,58.64 L449.60,58.70 L447.67,58.64 L445.59,58.45 L443.46,58.14 L441.35,57.71 L439.37,57.17 L437.60,56.50 L436.02,55.68 L434.54,54.69 L433.19,53.59 L431.97,52.41 L430.90,51.20 L430.00,50.00 L429.27,48.77 L428.70,47.45 L428.29,46.10 L428.01,44.77 L427.85,43.52 L427.80,42.40 L427.89,41.40 L428.13,40.49 L428.49,39.65 L428.94,38.88 L429.46,38.16 L430.00,37.50 L430.63,36.93 L431.37,36.47 L432.17,36.06 L432.98,35.67 L433.74,35.23 L434.40,34.70 L434.95,34.09 L435.43,33.44 L435.86,32.75 L436.26,32.01 L436.67,31.23 L437.10,30.40 L437.47,29.45 L437.74,28.37 L438.01,27.24 L438.37,26.14 L438.94,25.17 L439.80,24.40 L441.02,23.83 L442.54,23.39 L444.25,23.07 L446.06,22.86 L447.88,22.74 L449.60,22.70 Z" fill="#000" filter="url(#tx1)"/>
<filter id="tx2" x="0" y="0" width="1" height="1" color-interpolation-filters="sRGB"><feTurbulence type="fractalNoise" baseFrequency="0.25" numOctaves="3" seed="1" result="n"/><feColorMatrix in="n" type="matrix" values="0 0 0 0 1.000  0 0 0 0 1.000  0 0 0 0 1.000  3.0 0 0 0 -2.0" result="c"/><feComposite in="c" in2="SourceAlpha" operator="in"/></filter>
<path d="M449.60,22.70 L451.28,22.72 L453.02,22.81 L454.76,23.00 L456.45,23.31 L458.05,23.76 L459.50,24.40 L460.83,25.24 L462.08,26.27 L463.23,27.44 L464.28,28.73 L465.20,30.10 L466.00,31.50 L466.67,32.99 L467.21,34.61 L467.64,36.30 L467.95,38.01 L468.14,39.70 L468.20,41.30 L468.14,42.84 L467.95,44.36 L467.64,45.86 L467.21,47.30 L466.67,48.69 L466.00,50.00 L465.20,51.26 L464.28,52.49 L463.23,53.66 L462.08,54.73 L460.83,55.69 L459.50,56.50 L458.07,57.17 L456.53,57.71 L454.89,58.14 L453.18,58.45 L451.41,58.64 L449.60,58.70 L447.67,58.64 L445.59,58.45 L443.46,58.14 L441.35,57.71 L439.37,57.17 L437.60,56.50 L436.02,55.68 L434.54,54.69 L433.19,53.59 L431.97,52.41 L430.90,51.20 L430.00,50.00 L429.27,48.77 L428.70,47.45 L428.29,46.10 L428.01,44.77 L427.85,43.52 L427.80,42.40 L427.89,41.40 L428.13,40.49 L428.49,39.65 L428.94,38.88 L429.46,38.16 L430.00,37.50 L430.63,36.93 L431.37,36.47 L432.17,36.06 L432.98,35.67 L433.74,35.23 L434.40,34.70 L434.95,34.09 L435.43,33.44 L435.86,32.75 L436.26,32.01 L436.67,31.23 L437.10,30.40 L437.47,29.45 L437.74,28.37 L438.01,27.24 L438.37,26.14 L438.94,25.17 L439.80,24.40 L441.02,23.83 L442.54,23.39 L444.25,23.07 L446.06,22.86 L447.88,22.74 L449.60,22.70 Z" fill="#000" filter="url(#tx2)"/>
<ellipse cx="508.8" cy="41.2" rx="19.8" ry="18.2" fill="#D0CFE3"/>
<filter id="tx3" x="0" y="0" width="1" height="1" color-interpolation-filters="sRGB"><feTurbulence type="fractalNoise" baseFrequency="0.45" numOctaves="3" seed="7" result="n"/><feColorMatrix in="n" type="matrix" values="0 0 0 0 0.671  0 0 0 0 0.663  0 0 0 0 0.796  1.8 0 0 0 -0.7" result="c"/><feComposite in="c" in2="SourceAlpha" operator="in"/></filter>
<ellipse cx="508.8" cy="41.2" rx="19.8" ry="18.2" fill="#000" filter="url(#tx3)"/>
<filter id="tx4" x="0" y="0" width="1" height="1" color-interpolation-filters="sRGB"><feTurbulence type="fractalNoise" baseFrequency="0.3" numOctaves="3" seed="8" result="n"/><feColorMatrix in="n" type="matrix" values="0 0 0 0 1.000  0 0 0 0 1.000  0 0 0 0 1.000  3.0 0 0 0 -2.0" result="c"/><feComposite in="c" in2="SourceAlpha" operator="in"/></filter>
<ellipse cx="508.8" cy="41.2" rx="19.8" ry="18.2" fill="#000" filter="url(#tx4)"/>
<text x="452.20" y="71.50" font-size="5.17" font-weight="bold" text-anchor="middle" stroke="#000" stroke-width="0.18" >Negative (male, age 49)</text>
<text x="511.20" y="71.50" font-size="5.17" font-weight="bold" text-anchor="middle" stroke="#000" stroke-width="0.18" >Negative (male, age 73)</text>
<text x="391.70" y="116.60" font-size="6.65" font-weight="bold" stroke="#000" stroke-width="0.18" >CX3CR1</text>
<rect x="420.50" y="80.60" width="55.00" height="46.70" fill="#F4F4F4" />
<rect x="481.80" y="80.60" width="54.00" height="46.70" fill="#F4F4F4" />
<path d="M452.00,85.30 L453.48,85.47 L455.04,85.81 L456.62,86.29 L458.19,86.91 L459.66,87.66 L461.00,88.50 L462.23,89.49 L463.41,90.64 L464.50,91.92 L465.48,93.27 L466.32,94.64 L467.00,96.00 L467.50,97.36 L467.85,98.76 L468.06,100.19 L468.15,101.63 L468.12,103.07 L468.00,104.50 L467.77,105.94 L467.43,107.41 L466.97,108.88 L466.41,110.31 L465.75,111.70 L465.00,113.00 L464.14,114.25 L463.17,115.48 L462.09,116.66 L460.94,117.74 L459.74,118.70 L458.50,119.50 L457.19,120.14 L455.80,120.65 L454.34,121.03 L452.87,121.30 L451.41,121.45 L450.00,121.50 L448.61,121.43 L447.20,121.24 L445.81,120.94 L444.46,120.54 L443.18,120.05 L442.00,119.50 L440.90,118.86 L439.85,118.11 L438.88,117.28 L437.98,116.39 L437.19,115.45 L436.50,114.50 L435.95,113.51 L435.54,112.46 L435.22,111.38 L434.96,110.26 L434.73,109.13 L434.50,108.00 L434.25,106.87 L434.00,105.72 L433.78,104.56 L433.61,103.39 L433.51,102.20 L433.50,101.00 L433.58,99.74 L433.72,98.41 L433.94,97.06 L434.22,95.76 L434.58,94.55 L435.00,93.50 L435.51,92.61 L436.11,91.83 L436.78,91.16 L437.50,90.56 L438.25,90.01 L439.00,89.50 L439.74,89.05 L440.48,88.69 L441.25,88.39 L442.07,88.11 L442.98,87.82 L444.00,87.50 L445.15,87.08 L446.41,86.58 L447.75,86.07 L449.15,85.64 L450.57,85.36 L452.00,85.30 Z" fill="#CBD0E6"/>
<filter id="tx5" x="0" y="0" width="1" height="1" color-interpolation-filters="sRGB"><feTurbulence type="fractalNoise" baseFrequency="0.45" numOctaves="3" seed="14" result="n"/><feColorMatrix in="n" type="matrix" values="0 0 0 0 0.659  0 0 0 0 0.690  0 0 0 0 0.816  1.8 0 0 0 -0.7" result="c"/><feComposite in="c" in2="SourceAlpha" operator="in"/></filter>
<path d="M452.00,85.30 L453.48,85.47 L455.04,85.81 L456.62,86.29 L458.19,86.91 L459.66,87.66 L461.00,88.50 L462.23,89.49 L463.41,90.64 L464.50,91.92 L465.48,93.27 L466.32,94.64 L467.00,96.00 L467.50,97.36 L467.85,98.76 L468.06,100.19 L468.15,101.63 L468.12,103.07 L468.00,104.50 L467.77,105.94 L467.43,107.41 L466.97,108.88 L466.41,110.31 L465.75,111.70 L465.00,113.00 L464.14,114.25 L463.17,115.48 L462.09,116.66 L460.94,117.74 L459.74,118.70 L458.50,119.50 L457.19,120.14 L455.80,120.65 L454.34,121.03 L452.87,121.30 L451.41,121.45 L450.00,121.50 L448.61,121.43 L447.20,121.24 L445.81,120.94 L444.46,120.54 L443.18,120.05 L442.00,119.50 L440.90,118.86 L439.85,118.11 L438.88,117.28 L437.98,116.39 L437.19,115.45 L436.50,114.50 L435.95,113.51 L435.54,112.46 L435.22,111.38 L434.96,110.26 L434.73,109.13 L434.50,108.00 L434.25,106.87 L434.00,105.72 L433.78,104.56 L433.61,103.39 L433.51,102.20 L433.50,101.00 L433.58,99.74 L433.72,98.41 L433.94,97.06 L434.22,95.76 L434.58,94.55 L435.00,93.50 L435.51,92.61 L436.11,91.83 L436.78,91.16 L437.50,90.56 L438.25,90.01 L439.00,89.50 L439.74,89.05 L440.48,88.69 L441.25,88.39 L442.07,88.11 L442.98,87.82 L444.00,87.50 L445.15,87.08 L446.41,86.58 L447.75,86.07 L449.15,85.64 L450.57,85.36 L452.00,85.30 Z" fill="#000" filter="url(#tx5)"/>
<ellipse cx="508.0" cy="106.2" rx="22.0" ry="20.5" fill="#D2CBCA"/>
<filter id="tx6" x="0" y="0" width="1" height="1" color-interpolation-filters="sRGB"><feTurbulence type="fractalNoise" baseFrequency="0.6" numOctaves="3" seed="21" result="n"/><feColorMatrix in="n" type="matrix" values="0 0 0 0 0.584  0 0 0 0 0.525  0 0 0 0 0.514  1.6 0 0 0 -0.6" result="c"/><feComposite in="c" in2="SourceAlpha" operator="in"/></filter>
<ellipse cx="508.0" cy="106.2" rx="22.0" ry="20.5" fill="#000" filter="url(#tx6)"/>
<filter id="tx7" x="0" y="0" width="1" height="1" color-interpolation-filters="sRGB"><feTurbulence type="fractalNoise" baseFrequency="0.5" numOctaves="3" seed="22" result="n"/><feColorMatrix in="n" type="matrix" values="0 0 0 0 0.965  0 0 0 0 0.953  0 0 0 0 0.953  2.0 0 0 0 -0.9" result="c"/><feComposite in="c" in2="SourceAlpha" operator="in"/></filter>
<ellipse cx="508.0" cy="106.2" rx="22.0" ry="20.5" fill="#000" filter="url(#tx7)"/>
<text x="452.20" y="134.60" font-size="5.17" font-weight="bold" text-anchor="middle" stroke="#000" stroke-width="0.18" >Negative (male, age 49)</text>
<text x="511.20" y="134.60" font-size="5.17" font-weight="bold" text-anchor="middle" stroke="#000" stroke-width="0.18" >Medium (male, age 64)</text>
<text x="403.60" y="176.80" font-size="6.65" font-weight="bold" stroke="#000" stroke-width="0.18" >IL7</text>
<rect x="420.50" y="145.70" width="55.00" height="48.30" fill="#F4F4F4" />
<rect x="481.80" y="145.70" width="54.00" height="48.30" fill="#F4F4F4" />
<path d="M441.00,150.20 L442.50,149.96 L444.06,149.75 L445.66,149.58 L447.28,149.47 L448.90,149.44 L450.50,149.50 L452.11,149.64 L453.76,149.84 L455.41,150.11 L457.02,150.47 L458.56,150.93 L460.00,151.50 L461.35,152.19 L462.65,152.98 L463.88,153.88 L465.02,154.85 L466.06,155.90 L467.00,157.00 L467.83,158.18 L468.55,159.44 L469.18,160.78 L469.71,162.17 L470.15,163.58 L470.50,165.00 L470.75,166.45 L470.90,167.94 L470.96,169.47 L470.93,171.00 L470.81,172.52 L470.60,174.00 L470.31,175.47 L469.93,176.96 L469.46,178.44 L468.90,179.87 L468.25,181.23 L467.50,182.50 L466.65,183.68 L465.70,184.81 L464.65,185.86 L463.51,186.84 L462.30,187.72 L461.00,188.50 L459.59,189.19 L458.06,189.79 L456.44,190.30 L454.78,190.71 L453.12,191.01 L451.50,191.20 L449.89,191.26 L448.24,191.19 L446.59,191.02 L444.98,190.75 L443.44,190.41 L442.00,190.00 L440.66,189.52 L439.40,188.95 L438.21,188.30 L437.08,187.59 L436.01,186.81 L435.00,186.00 L434.03,185.16 L433.09,184.30 L432.21,183.38 L431.42,182.37 L430.74,181.25 L430.20,180.00 L429.82,178.56 L429.60,176.96 L429.49,175.25 L429.44,173.48 L429.43,171.71 L429.40,170.00 L429.34,168.30 L429.27,166.57 L429.24,164.84 L429.26,163.15 L429.37,161.52 L429.60,160.00 L429.93,158.55 L430.33,157.12 L430.81,155.77 L431.41,154.52 L432.13,153.42 L433.00,152.50 L434.05,151.80 L435.27,151.29 L436.62,150.93 L438.05,150.66 L439.53,150.43 L441.00,150.20 Z" fill="#C9CBDF"/>
<filter id="tx8" x="0" y="0" width="1" height="1" color-interpolation-filters="sRGB"><feTurbulence type="fractalNoise" baseFrequency="0.24" numOctaves="3" seed="28" result="n"/><feColorMatrix in="n" type="matrix" values="0 0 0 0 0.620  0 0 0 0 0.427  0 0 0 0 0.369  4.0 0 0 0 -1.55" result="c"/><feComposite in="c" in2="SourceAlpha" operator="in"/></filter>
<path d="M441.00,150.20 L442.50,149.96 L444.06,149.75 L445.66,149.58 L447.28,149.47 L448.90,149.44 L450.50,149.50 L452.11,149.64 L453.76,149.84 L455.41,150.11 L457.02,150.47 L458.56,150.93 L460.00,151.50 L461.35,152.19 L462.65,152.98 L463.88,153.88 L465.02,154.85 L466.06,155.90 L467.00,157.00 L467.83,158.18 L468.55,159.44 L469.18,160.78 L469.71,162.17 L470.15,163.58 L470.50,165.00 L470.75,166.45 L470.90,167.94 L470.96,169.47 L470.93,171.00 L470.81,172.52 L470.60,174.00 L470.31,175.47 L469.93,176.96 L469.46,178.44 L468.90,179.87 L468.25,181.23 L467.50,182.50 L466.65,183.68 L465.70,184.81 L464.65,185.86 L463.51,186.84 L462.30,187.72 L461.00,188.50 L459.59,189.19 L458.06,189.79 L456.44,190.30 L454.78,190.71 L453.12,191.01 L451.50,191.20 L449.89,191.26 L448.24,191.19 L446.59,191.02 L444.98,190.75 L443.44,190.41 L442.00,190.00 L440.66,189.52 L439.40,188.95 L438.21,188.30 L437.08,187.59 L436.01,186.81 L435.00,186.00 L434.03,185.16 L433.09,184.30 L432.21,183.38 L431.42,182.37 L430.74,181.25 L430.20,180.00 L429.82,178.56 L429.60,176.96 L429.49,175.25 L429.44,173.48 L429.43,171.71 L429.40,170.00 L429.34,168.30 L429.27,166.57 L429.24,164.84 L429.26,163.15 L429.37,161.52 L429.60,160.00 L429.93,158.55 L430.33,157.12 L430.81,155.77 L431.41,154.52 L432.13,153.42 L433.00,152.50 L434.05,151.80 L435.27,151.29 L436.62,150.93 L438.05,150.66 L439.53,150.43 L441.00,150.20 Z" fill="#000" filter="url(#tx8)"/>
<filter id="tx9" x="0" y="0" width="1" height="1" color-interpolation-filters="sRGB"><feTurbulence type="fractalNoise" baseFrequency="0.5" numOctaves="3" seed="29" result="n"/><feColorMatrix in="n" type="matrix" values="0 0 0 0 0.678  0 0 0 0 0.518  0 0 0 0 0.467  2.0 0 0 0 -0.9" result="c"/><feComposite in="c" in2="SourceAlpha" operator="in"/></filter>
<path d="M441.00,150.20 L442.50,149.96 L444.06,149.75 L445.66,149.58 L447.28,149.47 L448.90,149.44 L450.50,149.50 L452.11,149.64 L453.76,149.84 L455.41,150.11 L457.02,150.47 L458.56,150.93 L460.00,151.50 L461.35,152.19 L462.65,152.98 L463.88,153.88 L465.02,154.85 L466.06,155.90 L467.00,157.00 L467.83,158.18 L468.55,159.44 L469.18,160.78 L469.71,162.17 L470.15,163.58 L470.50,165.00 L470.75,166.45 L470.90,167.94 L470.96,169.47 L470.93,171.00 L470.81,172.52 L470.60,174.00 L470.31,175.47 L469.93,176.96 L469.46,178.44 L468.90,179.87 L468.25,181.23 L467.50,182.50 L466.65,183.68 L465.70,184.81 L464.65,185.86 L463.51,186.84 L462.30,187.72 L461.00,188.50 L459.59,189.19 L458.06,189.79 L456.44,190.30 L454.78,190.71 L453.12,191.01 L451.50,191.20 L449.89,191.26 L448.24,191.19 L446.59,191.02 L444.98,190.75 L443.44,190.41 L442.00,190.00 L440.66,189.52 L439.40,188.95 L438.21,188.30 L437.08,187.59 L436.01,186.81 L435.00,186.00 L434.03,185.16 L433.09,184.30 L432.21,183.38 L431.42,182.37 L430.74,181.25 L430.20,180.00 L429.82,178.56 L429.60,176.96 L429.49,175.25 L429.44,173.48 L429.43,171.71 L429.40,170.00 L429.34,168.30 L429.27,166.57 L429.24,164.84 L429.26,163.15 L429.37,161.52 L429.60,160.00 L429.93,158.55 L430.33,157.12 L430.81,155.77 L431.41,154.52 L432.13,153.42 L433.00,152.50 L434.05,151.80 L435.27,151.29 L436.62,150.93 L438.05,150.66 L439.53,150.43 L441.00,150.20 Z" fill="#000" filter="url(#tx9)"/>
<ellipse cx="508.8" cy="169.5" rx="20.7" ry="21.0" fill="#93604F"/>
<filter id="tx10" x="0" y="0" width="1" height="1" color-interpolation-filters="sRGB"><feTurbulence type="fractalNoise" baseFrequency="0.25" numOctaves="3" seed="35" result="n"/><feColorMatrix in="n" type="matrix" values="0 0 0 0 0.812  0 0 0 0 0.788  0 0 0 0 0.855  4.0 0 0 0 -1.75" result="c"/><feComposite in="c" in2="SourceAlpha" operator="in"/></filter>
<ellipse cx="508.8" cy="169.5" rx="20.7" ry="21.0" fill="#000" filter="url(#tx10)"/>
<filter id="tx11" x="0" y="0" width="1" height="1" color-interpolation-filters="sRGB"><feTurbulence type="fractalNoise" baseFrequency="0.5" numOctaves="3" seed="36" result="n"/><feColorMatrix in="n" type="matrix" values="0 0 0 0 0.682  0 0 0 0 0.522  0 0 0 0 0.475  2.0 0 0 0 -0.8" result="c"/><feComposite in="c" in2="SourceAlpha" operator="in"/></filter>
<ellipse cx="508.8" cy="169.5" rx="20.7" ry="21.0" fill="#000" filter="url(#tx11)"/>
<text x="452.20" y="201.50" font-size="5.17" font-weight="bold" text-anchor="middle" stroke="#000" stroke-width="0.18" >Medium (male, age 54)</text>
<text x="511.20" y="201.50" font-size="5.17" font-weight="bold" text-anchor="middle" stroke="#000" stroke-width="0.18" >High (male, age 64)</text>
<text x="400.40" y="242.50" font-size="6.65" font-weight="bold" stroke="#000" stroke-width="0.18" >TLR3</text>
<rect x="420.50" y="212.30" width="55.00" height="47.40" fill="#F4F4F4" />
<rect x="481.80" y="212.30" width="54.00" height="47.40" fill="#F4F4F4" />
<ellipse cx="449.0" cy="237.2" rx="21.0" ry="20.6" fill="#CFC1BA"/>
<filter id="tx12" x="0" y="0" width="1" height="1" color-interpolation-filters="sRGB"><feTurbulence type="fractalNoise" baseFrequency="0.5" numOctaves="3" seed="42" result="n"/><feColorMatrix in="n" type="matrix" values="0 0 0 0 0.604  0 0 0 0 0.518  0 0 0 0 0.478  1.8 0 0 0 -0.75" result="c"/><feComposite in="c" in2="SourceAlpha" operator="in"/></filter>
<ellipse cx="449.0" cy="237.2" rx="21.0" ry="20.6" fill="#000" filter="url(#tx12)"/>
<filter id="tx13" x="0" y="0" width="1" height="1" color-interpolation-filters="sRGB"><feTurbulence type="fractalNoise" baseFrequency="0.3" numOctaves="3" seed="43" result="n"/><feColorMatrix in="n" type="matrix" values="0 0 0 0 0.965  0 0 0 0 0.949  0 0 0 0 0.945  3.0 0 0 0 -1.5" result="c"/><feComposite in="c" in2="SourceAlpha" operator="in"/></filter>
<ellipse cx="449.0" cy="237.2" rx="21.0" ry="20.6" fill="#000" filter="url(#tx13)"/>
<ellipse cx="507.7" cy="237.4" rx="21.7" ry="20.7" fill="#CDC0B9"/>
<filter id="tx14" x="0" y="0" width="1" height="1" color-interpolation-filters="sRGB"><feTurbulence type="fractalNoise" baseFrequency="0.5" numOctaves="3" seed="49" result="n"/><feColorMatrix in="n" type="matrix" values="0 0 0 0 0.592  0 0 0 0 0.498  0 0 0 0 0.459  1.8 0 0 0 -0.75" result="c"/><feComposite in="c" in2="SourceAlpha" operator="in"/></filter>
<ellipse cx="507.7" cy="237.4" rx="21.7" ry="20.7" fill="#000" filter="url(#tx14)"/>
<filter id="tx15" x="0" y="0" width="1" height="1" color-interpolation-filters="sRGB"><feTurbulence type="fractalNoise" baseFrequency="0.3" numOctaves="3" seed="50" result="n"/><feColorMatrix in="n" type="matrix" values="0 0 0 0 0.965  0 0 0 0 0.949  0 0 0 0 0.945  3.0 0 0 0 -1.5" result="c"/><feComposite in="c" in2="SourceAlpha" operator="in"/></filter>
<ellipse cx="507.7" cy="237.4" rx="21.7" ry="20.7" fill="#000" filter="url(#tx15)"/>
<text x="452.20" y="271.50" font-size="5.17" font-weight="bold" text-anchor="middle" stroke="#000" stroke-width="0.18" >Low (female, age 51)</text>
<text x="511.20" y="271.50" font-size="5.17" font-weight="bold" text-anchor="middle" stroke="#000" stroke-width="0.18" >Medium (female, age 67)</text>
<path d="M437.5,98 Q441,90 449,88.5 Q444,93 442,99 Q440.5,106 441.5,113 Q438,108 437.5,98 Z" fill="#F4F4F4" stroke="none" stroke-width="0" />
<path d="M436,96 Q440,89 448,86.8" fill="none" stroke="#7F88AE" stroke-width="0.9" />
<text x="12.40" y="260.00" font-size="9.4" font-weight="bold" stroke="#000" stroke-width="0.18" >E</text>
<text x="94.50" y="260.40" font-size="8.27" font-weight="bold" stroke="#000" stroke-width="0.18" >TCGA–LUAD</text>
<rect x="56.40" y="265.60" width="5.20" height="4.80" fill="#8E92CF" fill-opacity="0.55"/>
<line x1="56.40" y1="268.00" x2="61.60" y2="268.00" stroke="#2E3A97" stroke-width="1.0" />
<text x="59.00" y="269.60" font-size="4.2" text-anchor="middle" fill="#2E3A97">+</text>
<text x="64.50" y="270.00" font-size="7.09" font-weight="bold" stroke="#000" stroke-width="0.18" >Risk score=high</text>
<rect x="124.50" y="265.60" width="5.20" height="4.80" fill="#F4A08A" fill-opacity="0.55"/>
<line x1="124.90" y1="268.00" x2="126.50" y2="268.00" stroke="#E41A1C" stroke-width="1.0" />
<line x1="127.70" y1="268.00" x2="129.30" y2="268.00" stroke="#E41A1C" stroke-width="1.0" />
<text x="127.10" y="269.60" font-size="4.2" text-anchor="middle" fill="#E41A1C">+</text>
<text x="132.70" y="270.00" font-size="7.09" font-weight="bold" stroke="#000" stroke-width="0.18" >Risk score=low</text>
<rect x="33.60" y="276.00" width="162.80" height="64.40" fill="#FFFFFF" />
<line x1="58.53" y1="276.00" x2="58.53" y2="340.40" stroke="#F2F2F2" stroke-width="0.35" />
<line x1="96.38" y1="276.00" x2="96.38" y2="340.40" stroke="#F2F2F2" stroke-width="0.35" />
<line x1="134.22" y1="276.00" x2="134.22" y2="340.40" stroke="#F2F2F2" stroke-width="0.35" />
<line x1="172.07" y1="276.00" x2="172.07" y2="340.40" stroke="#F2F2F2" stroke-width="0.35" />
<line x1="33.60" y1="330.35" x2="196.40" y2="330.35" stroke="#F2F2F2" stroke-width="0.35" />
<line x1="33.60" y1="315.45" x2="196.40" y2="315.45" stroke="#F2F2F2" stroke-width="0.35" />
<line x1="33.60" y1="300.55" x2="196.40" y2="300.55" stroke="#F2F2F2" stroke-width="0.35" />
<line x1="33.60" y1="285.65" x2="196.40" y2="285.65" stroke="#F2F2F2" stroke-width="0.35" />
<line x1="39.60" y1="276.00" x2="39.60" y2="340.40" stroke="#E6E6E6" stroke-width="0.6" />
<line x1="77.45" y1="276.00" x2="77.45" y2="340.40" stroke="#E6E6E6" stroke-width="0.6" />
<line x1="115.30" y1="276.00" x2="115.30" y2="340.40" stroke="#E6E6E6" stroke-width="0.6" />
<line x1="153.15" y1="276.00" x2="153.15" y2="340.40" stroke="#E6E6E6" stroke-width="0.6" />
<line x1="191.00" y1="276.00" x2="191.00" y2="340.40" stroke="#E6E6E6" stroke-width="0.6" />
<line x1="33.60" y1="337.80" x2="196.40" y2="337.80" stroke="#E6E6E6" stroke-width="0.6" />
<line x1="33.60" y1="322.90" x2="196.40" y2="322.90" stroke="#E6E6E6" stroke-width="0.6" />
<line x1="33.60" y1="308.00" x2="196.40" y2="308.00" stroke="#E6E6E6" stroke-width="0.6" />
<line x1="33.60" y1="293.10" x2="196.40" y2="293.10" stroke="#E6E6E6" stroke-width="0.6" />
<line x1="33.60" y1="278.20" x2="196.40" y2="278.20" stroke="#E6E6E6" stroke-width="0.6" />
<polygon points="39.60,277.80 45.00,279.50 50.00,281.00 55.00,282.50 60.00,283.60 68.00,290.00 74.00,295.50 80.00,299.00 90.00,301.00 100.00,301.00 166.70,300.80 166.70,327.00 100.00,327.00 99.50,320.50 95.00,320.00 90.00,319.00 80.00,314.50 74.00,311.00 68.00,305.50 60.00,293.60 53.60,289.00 50.00,286.50 45.00,283.00 39.60,277.80" fill="#EE7F5E" fill-opacity="0.5"/>
<polygon points="39.60,277.80 44.00,281.50 48.00,287.00 55.00,301.00 61.00,308.00 66.00,311.80 73.60,312.70 74.50,320.20 173.00,320.60 173.00,335.40 103.70,335.40 103.60,332.20 74.50,331.80 73.60,324.50 66.00,319.00 61.00,314.50 55.00,306.00 48.00,295.00 44.00,287.00 39.60,277.80" fill="#7C82C6" fill-opacity="0.48"/>
<polyline points="39.60,277.80 40.56,277.80 40.56,279.26 41.92,279.26 41.92,281.33 43.05,281.33 43.05,283.05 44.00,283.05 44.00,284.50 44.48,284.50 44.48,285.28 45.95,285.28 45.95,287.66 46.68,287.66 46.68,288.86 47.35,288.86 47.35,289.94 48.00,289.94 48.00,291.00 49.09,291.00 49.09,292.71 50.07,292.71 50.07,294.27 51.03,294.27 51.03,295.77 52.00,295.77 52.00,297.30 52.97,297.30 52.97,299.05 54.23,299.05 54.23,301.32 55.50,301.32 55.50,303.60 55.97,303.60 55.97,304.47 57.24,304.47 57.24,306.80 58.00,306.80 58.00,308.20 58.72,308.20 58.72,308.87 59.57,308.87 59.57,309.66 61.00,309.66 61.00,311.00 62.82,311.00 62.82,312.82 64.15,312.82 64.15,314.15 64.50,314.15 64.50,314.50 65.77,314.50 65.77,315.69 67.29,315.69 67.29,317.13 68.00,317.13 68.00,317.80 69.66,317.80 69.66,318.46 71.00,318.46 71.00,319.00 71.08,319.00 71.08,319.11 72.12,319.11 72.12,320.59 72.81,320.59 72.81,321.57 73.60,321.57 73.60,322.70 74.40,322.70 74.40,323.00 74.50,323.00 74.50,328.90 103.70,328.90 103.70,331.40 173.00,331.40" fill="none" stroke="#2E3A97" stroke-width="1.25" />
<polyline points="39.60,277.80 41.06,277.80 41.06,278.67 42.67,278.67 42.67,279.62 44.36,279.62 44.36,280.62 45.00,280.62 45.00,281.00 46.23,281.00 46.23,281.64 47.84,281.64 47.84,282.48 49.69,282.48 49.69,283.44 50.00,283.44 50.00,283.60 50.38,283.60 50.38,283.75 51.64,283.75 51.64,284.22 53.51,284.22 53.51,284.94 55.00,284.94 55.00,285.50 56.83,285.50 56.83,286.41 57.63,286.41 57.63,286.81 58.00,286.81 58.00,287.00 58.89,287.00 58.89,287.09 59.86,287.09 59.86,287.19 61.00,287.19 61.00,287.30 61.21,287.30 61.21,287.44 62.61,287.44 62.61,288.35 63.28,288.35 63.28,288.79 63.60,288.79 63.60,289.00 64.21,289.00 64.21,289.76 65.22,289.76 65.22,291.03 66.00,291.03 66.00,292.00 67.06,292.00 67.06,293.86 68.00,293.86 68.00,295.50 68.71,295.50 68.71,296.47 69.56,296.47 69.56,297.65 71.25,297.65 71.25,299.97 72.00,299.97 72.00,301.00 72.08,301.00 72.08,301.08 73.53,301.08 73.53,302.60 74.35,302.60 74.35,303.44 74.50,303.44 74.50,303.60 75.00,303.60 75.00,304.17 76.78,304.17 76.78,306.21 77.71,306.21 77.71,307.26 78.00,307.26 78.00,307.60 78.64,307.60 78.64,307.70 80.56,307.70 80.56,307.98 82.00,307.98 82.00,308.20 82.35,308.20 82.35,308.26 83.37,308.26 83.37,308.42 85.27,308.42 85.27,308.72 86.62,308.72 86.62,308.94 87.00,308.94 87.00,309.00 88.16,309.00 88.16,310.16 89.00,310.16 89.00,311.00 90.95,311.00 90.95,312.10 92.00,312.10 92.00,312.70 92.49,312.70 92.49,312.81 94.40,312.81 94.40,313.24 96.00,313.24 96.00,313.60 97.25,313.60 97.25,313.69 98.37,313.69 98.37,313.77 99.00,313.77 99.00,317.30 166.00,317.30" fill="none" stroke="#E41A1C" stroke-width="1.25" stroke-dasharray="4,2.6" />
<path d="M62.62,312.82h2.40M63.82,311.62v2.40M43.58,285.28h2.40M44.78,284.08v2.40M51.33,297.30h2.40M52.53,296.10v2.40M49.72,294.27h2.40M50.92,293.07v2.40M65.63,315.69h2.40M66.83,314.49v2.40M63.78,314.50h2.40M64.98,313.30v2.40M70.46,319.11h2.40M71.66,317.91v2.40M45.50,288.86h2.40M46.70,287.66v2.40M55.88,304.47h2.40M57.08,303.27v2.40M43.72,285.28h2.40M44.92,284.08v2.40M103.30,331.40h2.40M104.50,330.20v2.40M171.30,331.40h2.40M172.50,330.20v2.40M78.80,328.90h2.40M80.00,327.70v2.40M88.80,328.90h2.40M90.00,327.70v2.40" stroke="#2E3A97" stroke-width="0.6" fill="none"/>
<path d="M53.48,284.94h2.40M54.68,283.74v2.40M70.11,299.97h2.40M71.31,298.77v2.40M42.34,279.62h2.40M43.54,278.42v2.40M52.33,284.94h2.40M53.53,283.74v2.40M78.49,307.70h2.40M79.69,306.50v2.40M72.41,302.60h2.40M73.61,301.40v2.40M53.59,284.94h2.40M54.79,283.74v2.40M74.98,304.17h2.40M76.18,302.97v2.40M87.75,310.16h2.40M88.95,308.96v2.40M41.18,278.67h2.40M42.38,277.47v2.40M87.54,310.16h2.40M88.74,308.96v2.40M81.29,308.26h2.40M82.49,307.06v2.40M60.53,287.44h2.40M61.73,286.24v2.40M49.82,283.75h2.40M51.02,282.55v2.40M96.32,313.69h2.40M97.52,312.49v2.40M60.32,287.44h2.40M61.52,286.24v2.40M46.18,281.64h2.40M47.38,280.44v2.40M46.41,281.64h2.40M47.61,280.44v2.40M89.95,312.10h2.40M91.15,310.90v2.40M75.82,306.21h2.40M77.02,305.01v2.40M87.61,310.16h2.40M88.81,308.96v2.40M83.12,308.42h2.40M84.32,307.22v2.40M118.80,317.30h2.40M120.00,316.10v2.40M137.80,317.30h2.40M139.00,316.10v2.40M164.30,317.30h2.40M165.50,316.10v2.40M104.80,317.30h2.40M106.00,316.10v2.40M148.80,317.30h2.40M150.00,316.10v2.40" stroke="#E41A1C" stroke-width="0.6" fill="none"/>
<line x1="104.50" y1="329.80" x2="104.50" y2="333.00" stroke="#2E3A97" stroke-width="0.8" />
<line x1="172.50" y1="329.80" x2="172.50" y2="333.00" stroke="#2E3A97" stroke-width="0.8" />
<line x1="99.50" y1="315.90" x2="99.50" y2="318.90" stroke="#E41A1C" stroke-width="0.8" />
<line x1="120.00" y1="315.90" x2="120.00" y2="318.90" stroke="#E41A1C" stroke-width="0.8" />
<line x1="139.00" y1="315.90" x2="139.00" y2="318.90" stroke="#E41A1C" stroke-width="0.8" />
<line x1="165.50" y1="315.90" x2="165.50" y2="318.90" stroke="#E41A1C" stroke-width="0.8" />
<line x1="39.60" y1="308.50" x2="81.80" y2="308.50" stroke="#000" stroke-width="0.9" stroke-dasharray="3.6,2.6" />
<line x1="57.60" y1="308.50" x2="57.60" y2="337.80" stroke="#000" stroke-width="0.9" stroke-dasharray="3.6,2.6" />
<line x1="81.80" y1="308.50" x2="81.80" y2="337.80" stroke="#000" stroke-width="0.9" stroke-dasharray="3.6,2.6" />
<rect x="33.60" y="276.00" width="162.80" height="64.40" fill="none" stroke="#4D4D4D" stroke-width="0.6" />
<text x="111.80" y="294.50" font-size="7.19" font-weight="bold" stroke="#000" stroke-width="0.18" >p &lt; 0.0001</text>
<line x1="31.00" y1="278.20" x2="33.60" y2="278.20" stroke="#333" stroke-width="0.5" />
<text x="29.90" y="279.60" font-size="4.2" text-anchor="end" fill="#444" stroke="#444" stroke-width="0.12" >1.00</text>
<line x1="31.00" y1="293.10" x2="33.60" y2="293.10" stroke="#333" stroke-width="0.5" />
<text x="29.90" y="294.50" font-size="4.2" text-anchor="end" fill="#444" stroke="#444" stroke-width="0.12" >0.75</text>
<line x1="31.00" y1="308.00" x2="33.60" y2="308.00" stroke="#333" stroke-width="0.5" />
<text x="29.90" y="309.40" font-size="4.2" text-anchor="end" fill="#444" stroke="#444" stroke-width="0.12" >0.50</text>
<line x1="31.00" y1="322.90" x2="33.60" y2="322.90" stroke="#333" stroke-width="0.5" />
<text x="29.90" y="324.30" font-size="4.2" text-anchor="end" fill="#444" stroke="#444" stroke-width="0.12" >0.25</text>
<line x1="31.00" y1="337.80" x2="33.60" y2="337.80" stroke="#333" stroke-width="0.5" />
<text x="29.90" y="339.20" font-size="4.2" text-anchor="end" fill="#444" stroke="#444" stroke-width="0.12" >0.00</text>
<line x1="39.60" y1="340.40" x2="39.60" y2="341.80" stroke="#333" stroke-width="0.5" />
<text x="39.60" y="345.80" font-size="4.4" text-anchor="middle" fill="#333" stroke="#333" stroke-width="0.12" >0</text>
<line x1="77.45" y1="340.40" x2="77.45" y2="341.80" stroke="#333" stroke-width="0.5" />
<text x="77.45" y="345.80" font-size="4.4" text-anchor="middle" fill="#333" stroke="#333" stroke-width="0.12" >2000</text>
<line x1="115.30" y1="340.40" x2="115.30" y2="341.80" stroke="#333" stroke-width="0.5" />
<text x="115.30" y="345.80" font-size="4.4" text-anchor="middle" fill="#333" stroke="#333" stroke-width="0.12" >4000</text>
<line x1="153.15" y1="340.40" x2="153.15" y2="341.80" stroke="#333" stroke-width="0.5" />
<text x="153.15" y="345.80" font-size="4.4" text-anchor="middle" fill="#333" stroke="#333" stroke-width="0.12" >6000</text>
<line x1="191.00" y1="340.40" x2="191.00" y2="341.80" stroke="#333" stroke-width="0.5" />
<text x="191.00" y="345.80" font-size="4.4" text-anchor="middle" fill="#333" stroke="#333" stroke-width="0.12" >8000</text>
<text x="115.00" y="350.80" font-size="4.9" font-weight="bold" text-anchor="middle" stroke="#000" stroke-width="0.18" >Time</text>
<text x="16.50" y="305.00" font-size="5.6" font-weight="bold" text-anchor="middle" stroke="#000" stroke-width="0.18" transform="rotate(-90 16.50 305.00)" >Survival probability</text>
<text x="32.70" y="355.00" font-size="4.94" font-weight="bold" stroke="#000" stroke-width="0.18" >Number at risk</text>
<rect x="33.60" y="358.40" width="162.80" height="10.80" fill="#fff" />
<line x1="39.60" y1="358.40" x2="39.60" y2="369.20" stroke="#E6E6E6" stroke-width="0.6" />
<line x1="77.45" y1="358.40" x2="77.45" y2="369.20" stroke="#E6E6E6" stroke-width="0.6" />
<line x1="115.30" y1="358.40" x2="115.30" y2="369.20" stroke="#E6E6E6" stroke-width="0.6" />
<line x1="153.15" y1="358.40" x2="153.15" y2="369.20" stroke="#E6E6E6" stroke-width="0.6" />
<line x1="191.00" y1="358.40" x2="191.00" y2="369.20" stroke="#E6E6E6" stroke-width="0.6" />
<line x1="58.53" y1="358.40" x2="58.53" y2="369.20" stroke="#F2F2F2" stroke-width="0.35" />
<line x1="96.38" y1="358.40" x2="96.38" y2="369.20" stroke="#F2F2F2" stroke-width="0.35" />
<line x1="134.22" y1="358.40" x2="134.22" y2="369.20" stroke="#F2F2F2" stroke-width="0.35" />
<line x1="172.07" y1="358.40" x2="172.07" y2="369.20" stroke="#F2F2F2" stroke-width="0.35" />
<rect x="33.60" y="358.40" width="162.80" height="10.80" fill="none" stroke="#4D4D4D" stroke-width="0.6" />
<text x="30.50" y="362.30" font-size="5.85" font-weight="bold" text-anchor="end" fill="#2E3A97" stroke="#2E3A97" stroke-width="0.18" >high_risk</text>
<line x1="32.20" y1="360.70" x2="33.60" y2="360.70" stroke="#333" stroke-width="0.5" />
<text x="39.60" y="362.50" font-size="4.3" text-anchor="middle" fill="#2E3A97" stroke="#2E3A97" stroke-width="0.12" >130</text>
<text x="77.45" y="362.50" font-size="4.3" text-anchor="middle" fill="#2E3A97" stroke="#2E3A97" stroke-width="0.12" >6</text>
<text x="115.30" y="362.50" font-size="4.3" text-anchor="middle" fill="#2E3A97" stroke="#2E3A97" stroke-width="0.12" >2</text>
<text x="153.15" y="362.50" font-size="4.3" text-anchor="middle" fill="#2E3A97" stroke="#2E3A97" stroke-width="0.12" >2</text>
<text x="191.00" y="362.50" font-size="4.3" text-anchor="middle" fill="#2E3A97" stroke="#2E3A97" stroke-width="0.12" >0</text>
<text x="30.50" y="368.10" font-size="5.85" font-weight="bold" text-anchor="end" fill="#E41A1C" stroke="#E41A1C" stroke-width="0.18" >low_risk</text>
<line x1="32.20" y1="366.50" x2="33.60" y2="366.50" stroke="#333" stroke-width="0.5" />
<text x="39.60" y="368.30" font-size="4.3" text-anchor="middle" fill="#E41A1C" stroke="#E41A1C" stroke-width="0.12" >130</text>
<text x="77.45" y="368.30" font-size="4.3" text-anchor="middle" fill="#E41A1C" stroke="#E41A1C" stroke-width="0.12" >13</text>
<text x="115.30" y="368.30" font-size="4.3" text-anchor="middle" fill="#E41A1C" stroke="#E41A1C" stroke-width="0.12" >1</text>
<text x="153.15" y="368.30" font-size="4.3" text-anchor="middle" fill="#E41A1C" stroke="#E41A1C" stroke-width="0.12" >0</text>
<text x="191.00" y="368.30" font-size="4.3" text-anchor="middle" fill="#E41A1C" stroke="#E41A1C" stroke-width="0.12" >0</text>
<line x1="39.60" y1="369.20" x2="39.60" y2="370.60" stroke="#333" stroke-width="0.5" />
<text x="39.60" y="374.00" font-size="4.4" text-anchor="middle" fill="#333" stroke="#333" stroke-width="0.12" >0</text>
<line x1="77.45" y1="369.20" x2="77.45" y2="370.60" stroke="#333" stroke-width="0.5" />
<text x="77.45" y="374.00" font-size="4.4" text-anchor="middle" fill="#333" stroke="#333" stroke-width="0.12" >2000</text>
<line x1="115.30" y1="369.20" x2="115.30" y2="370.60" stroke="#333" stroke-width="0.5" />
<text x="115.30" y="374.00" font-size="4.4" text-anchor="middle" fill="#333" stroke="#333" stroke-width="0.12" >4000</text>
<line x1="153.15" y1="369.20" x2="153.15" y2="370.60" stroke="#333" stroke-width="0.5" />
<text x="153.15" y="374.00" font-size="4.4" text-anchor="middle" fill="#333" stroke="#333" stroke-width="0.12" >6000</text>
<line x1="191.00" y1="369.20" x2="191.00" y2="370.60" stroke="#333" stroke-width="0.5" />
<text x="191.00" y="374.00" font-size="4.4" text-anchor="middle" fill="#333" stroke="#333" stroke-width="0.12" >8000</text>
<text x="115.00" y="380.20" font-size="4.9" font-weight="bold" text-anchor="middle" stroke="#000" stroke-width="0.18" >Time</text>
<text x="212.80" y="262.70" font-size="9.4" font-weight="bold" stroke="#000" stroke-width="0.18" >F</text>
<text x="290.00" y="259.60" font-size="8.27" font-weight="bold" stroke="#000" stroke-width="0.18" >TCGA–LUAD</text>
<rect x="244.60" y="265.20" width="5.20" height="4.80" fill="#F1CF6A" fill-opacity="0.55"/>
<line x1="244.60" y1="267.60" x2="249.80" y2="267.60" stroke="#E7B800" stroke-width="1.0" />
<text x="247.20" y="269.20" font-size="4.2" text-anchor="middle" fill="#E7B800">+</text>
<text x="252.60" y="269.60" font-size="7.09" font-weight="bold" stroke="#000" stroke-width="0.18" >GSVA score=high</text>
<rect x="318.20" y="265.20" width="5.20" height="4.80" fill="#8CC6EC" fill-opacity="0.55"/>
<line x1="318.60" y1="267.60" x2="320.20" y2="267.60" stroke="#2E9FDF" stroke-width="1.0" />
<line x1="321.40" y1="267.60" x2="323.00" y2="267.60" stroke="#2E9FDF" stroke-width="1.0" />
<text x="320.80" y="269.20" font-size="4.2" text-anchor="middle" fill="#2E9FDF">+</text>
<text x="326.00" y="269.60" font-size="7.09" font-weight="bold" stroke="#000" stroke-width="0.18" >GSVA score=low</text>
<rect x="233.00" y="275.00" width="153.50" height="67.40" fill="#FFFFFF" />
<line x1="257.86" y1="275.00" x2="257.86" y2="342.40" stroke="#F2F2F2" stroke-width="0.35" />
<line x1="293.18" y1="275.00" x2="293.18" y2="342.40" stroke="#F2F2F2" stroke-width="0.35" />
<line x1="328.50" y1="275.00" x2="328.50" y2="342.40" stroke="#F2F2F2" stroke-width="0.35" />
<line x1="363.82" y1="275.00" x2="363.82" y2="342.40" stroke="#F2F2F2" stroke-width="0.35" />
<line x1="233.00" y1="331.64" x2="386.50" y2="331.64" stroke="#F2F2F2" stroke-width="0.35" />
<line x1="233.00" y1="316.11" x2="386.50" y2="316.11" stroke="#F2F2F2" stroke-width="0.35" />
<line x1="233.00" y1="300.59" x2="386.50" y2="300.59" stroke="#F2F2F2" stroke-width="0.35" />
<line x1="233.00" y1="285.06" x2="386.50" y2="285.06" stroke="#F2F2F2" stroke-width="0.35" />
<line x1="240.20" y1="275.00" x2="240.20" y2="342.40" stroke="#E6E6E6" stroke-width="0.6" />
<line x1="275.52" y1="275.00" x2="275.52" y2="342.40" stroke="#E6E6E6" stroke-width="0.6" />
<line x1="310.84" y1="275.00" x2="310.84" y2="342.40" stroke="#E6E6E6" stroke-width="0.6" />
<line x1="346.16" y1="275.00" x2="346.16" y2="342.40" stroke="#E6E6E6" stroke-width="0.6" />
<line x1="381.48" y1="275.00" x2="381.48" y2="342.40" stroke="#E6E6E6" stroke-width="0.6" />
<line x1="233.00" y1="339.40" x2="386.50" y2="339.40" stroke="#E6E6E6" stroke-width="0.6" />
<line x1="233.00" y1="323.88" x2="386.50" y2="323.88" stroke="#E6E6E6" stroke-width="0.6" />
<line x1="233.00" y1="308.35" x2="386.50" y2="308.35" stroke="#E6E6E6" stroke-width="0.6" />
<line x1="233.00" y1="292.82" x2="386.50" y2="292.82" stroke="#E6E6E6" stroke-width="0.6" />
<line x1="233.00" y1="277.30" x2="386.50" y2="277.30" stroke="#E6E6E6" stroke-width="0.6" />
<polygon points="239.50,277.20 250.00,281.00 258.00,285.00 265.00,289.00 270.00,296.00 275.00,303.40 306.00,303.40 306.00,333.50 300.00,333.50 290.00,327.00 275.00,320.00 270.00,316.00 265.00,309.00 258.00,298.00 250.00,290.00 239.50,277.20" fill="#EFC860" fill-opacity="0.45"/>
<polygon points="239.50,277.20 245.00,283.00 252.00,291.00 260.00,300.00 270.00,308.00 280.00,313.00 288.00,316.80 366.00,316.80 366.00,332.50 288.00,332.50 280.00,326.00 270.00,319.00 260.00,310.00 252.00,299.00 245.00,289.00 239.50,277.20" fill="#6FB3E6" fill-opacity="0.42"/>
<polyline points="239.50,277.20 240.75,277.20 240.75,279.66 241.89,279.66 241.89,281.89 242.20,281.89 242.20,282.50 242.72,282.50 242.72,283.65 244.49,283.65 244.49,287.60 245.15,287.60 245.15,289.06 245.80,289.06 245.80,290.50 246.46,290.50 246.46,291.44 248.27,291.44 248.27,294.04 249.03,294.04 249.03,295.12 249.50,295.12 249.50,295.80 250.40,295.80 250.40,296.72 251.85,296.72 251.85,298.21 252.55,298.21 252.55,298.93 253.70,298.93 253.70,300.09 253.80,300.09 253.80,300.20 255.26,300.20 255.26,302.10 256.50,302.10 256.50,303.70 257.50,303.70 257.50,305.00 258.09,305.00 258.09,305.84 258.95,305.84 258.95,307.07 259.60,307.07 259.60,308.00 259.91,308.00 259.91,308.55 260.70,308.55 260.70,310.00 261.80,310.00 261.80,312.00 262.01,312.00 262.01,312.16 263.86,312.16 263.86,313.56 264.70,313.56 264.70,314.20 265.28,314.20 265.28,314.65 266.93,314.65 266.93,315.95 268.08,315.95 268.08,316.85 268.40,316.85 268.40,317.10 269.70,317.10 269.70,318.64 270.48,318.64 270.48,319.57 271.51,319.57 271.51,320.79 272.70,320.79 272.70,322.20 281.23,322.20 281.23,322.53 282.14,322.53 282.14,322.77 283.00,322.77 283.00,323.00 283.94,323.00 283.94,323.12 285.74,323.12 285.74,323.36 286.46,323.36 286.46,323.45 287.60,323.45 287.60,323.60 288.89,323.60 288.89,323.77 289.57,323.77 289.57,323.86 290.77,323.86 290.77,324.02 292.60,324.02 292.60,324.26 293.40,324.26 293.40,324.36 294.82,324.36 294.82,324.55 295.63,324.55 295.63,324.65 297.03,324.65 297.03,325.01 298.85,325.01 298.85,325.55 299.76,325.55 299.76,325.82 300.42,325.82 300.42,326.02 301.18,326.02 301.18,326.25 302.53,326.25 302.53,326.65 303.20,326.65 303.20,326.85 303.96,326.85 303.96,327.08 304.70,327.08 304.70,327.30 305.26,327.30 305.26,328.03 306.00,328.03 306.00,329.00 366.00,329.00" fill="none" stroke="#2E9FDF" stroke-width="1.25" stroke-dasharray="4,2.6" />
<polyline points="239.50,277.20 240.57,277.20 240.57,278.08 241.42,278.08 241.42,278.78 242.90,278.78 242.90,280.00 243.66,280.00 243.66,280.61 245.00,280.61 245.00,281.69 246.13,281.69 246.13,282.60 246.50,282.60 246.50,282.90 246.85,282.90 246.85,283.15 248.16,283.15 248.16,284.07 248.86,284.07 248.86,284.57 250.08,284.57 250.08,285.42 250.82,285.42 250.82,285.94 250.90,285.94 250.90,286.00 251.59,286.00 251.59,286.53 252.79,286.53 252.79,287.46 254.51,287.46 254.51,288.79 255.30,288.79 255.30,289.40 256.26,289.40 256.26,290.36 257.73,290.36 257.73,291.83 259.60,291.83 259.60,293.70 261.01,293.70 261.01,295.49 262.18,295.49 262.18,296.97 263.30,296.97 263.30,298.40 264.10,298.40 264.10,299.70 264.81,299.70 264.81,300.87 265.50,300.87 265.50,302.00 266.57,302.00 266.57,305.37 266.90,305.37 266.90,306.40 267.60,306.40 267.60,307.54 268.44,307.54 268.44,308.90 268.50,308.90 268.50,309.00 269.24,309.00 269.24,309.97 270.29,309.97 270.29,311.34 270.80,311.34 270.80,312.00 272.00,312.00 272.00,313.58 272.70,313.58 272.70,314.50 274.29,314.50 274.29,314.69 275.77,314.69 275.77,314.86 276.91,314.86 276.91,314.99 278.27,314.99 278.27,316.82 279.00,316.82 279.00,317.87 279.30,317.87 279.30,318.30 283.39,318.30 283.39,318.35 288.14,318.35 288.14,318.42 292.34,318.42 292.34,318.47 295.07,318.47 295.07,320.22 296.00,320.22 296.00,323.00 296.86,323.00 296.86,323.25 298.46,323.25 298.46,323.71 299.48,323.71 299.48,324.00 301.41,324.00 301.41,324.55 302.21,324.55 302.21,324.79 303.41,324.79 303.41,325.13 304.70,325.13 304.70,325.50 306.20,325.50" fill="none" stroke="#E7B800" stroke-width="1.25" />
<path d="M243.27,280.61h2.40M244.47,279.41v2.40M285.36,318.35h2.40M286.56,317.15v2.40M250.01,286.00h2.40M251.21,284.80v2.40M270.40,312.00h2.40M271.60,310.80v2.40M283.79,318.35h2.40M284.99,317.15v2.40M291.55,318.47h2.40M292.75,317.27v2.40M269.80,312.00h2.40M271.00,310.80v2.40M272.69,314.50h2.40M273.89,313.30v2.40M242.03,280.00h2.40M243.23,278.80v2.40M268.47,309.97h2.40M269.67,308.77v2.40M264.63,302.00h2.40M265.83,300.80v2.40M295.35,323.00h2.40M296.55,321.80v2.40M275.81,314.99h2.40M277.01,313.79v2.40M289.14,318.42h2.40M290.34,317.22v2.40M268.58,309.97h2.40M269.78,308.77v2.40M252.08,287.46h2.40M253.28,286.26v2.40" stroke="#E7B800" stroke-width="0.6" fill="none"/>
<path d="M290.15,324.02h2.40M291.35,322.82v2.40M288.37,323.86h2.40M289.57,322.66v2.40M262.60,312.16h2.40M263.80,310.96v2.40M246.35,291.44h2.40M247.55,290.24v2.40M270.52,320.79h2.40M271.72,319.59v2.40M269.57,319.57h2.40M270.77,318.37v2.40M285.59,323.45h2.40M286.79,322.25v2.40M275.44,322.20h2.40M276.64,321.00v2.40M270.19,319.57h2.40M271.39,318.37v2.40M274.16,322.20h2.40M275.36,321.00v2.40M262.66,313.56h2.40M263.86,312.36v2.40M243.64,287.60h2.40M244.84,286.40v2.40M316.80,329.00h2.40M318.00,327.80v2.40M334.80,329.00h2.40M336.00,327.80v2.40M354.80,329.00h2.40M356.00,327.80v2.40M360.80,329.00h2.40M362.00,327.80v2.40M363.80,329.00h2.40M365.00,327.80v2.40" stroke="#2E9FDF" stroke-width="0.6" fill="none"/>
<line x1="239.50" y1="308.40" x2="267.60" y2="308.40" stroke="#000" stroke-width="0.9" stroke-dasharray="3.6,2.6" />
<line x1="259.30" y1="308.40" x2="259.30" y2="339.40" stroke="#000" stroke-width="0.9" stroke-dasharray="3.6,2.6" />
<line x1="267.60" y1="308.40" x2="267.60" y2="339.40" stroke="#000" stroke-width="0.9" stroke-dasharray="3.6,2.6" />
<rect x="233.00" y="275.00" width="153.50" height="67.40" fill="none" stroke="#4D4D4D" stroke-width="0.6" />
<text x="323.80" y="296.00" font-size="8.14" font-weight="bold" stroke="#000" stroke-width="0.18" >p = 0.015</text>
<line x1="230.40" y1="277.30" x2="233.00" y2="277.30" stroke="#333" stroke-width="0.5" />
<text x="230.00" y="278.70" font-size="4.2" text-anchor="end" fill="#444" stroke="#444" stroke-width="0.12" >1.00</text>
<line x1="230.40" y1="292.82" x2="233.00" y2="292.82" stroke="#333" stroke-width="0.5" />
<text x="230.00" y="294.22" font-size="4.2" text-anchor="end" fill="#444" stroke="#444" stroke-width="0.12" >0.75</text>
<line x1="230.40" y1="308.35" x2="233.00" y2="308.35" stroke="#333" stroke-width="0.5" />
<text x="230.00" y="309.75" font-size="4.2" text-anchor="end" fill="#444" stroke="#444" stroke-width="0.12" >0.50</text>
<line x1="230.40" y1="323.88" x2="233.00" y2="323.88" stroke="#333" stroke-width="0.5" />
<text x="230.00" y="325.27" font-size="4.2" text-anchor="end" fill="#444" stroke="#444" stroke-width="0.12" >0.25</text>
<line x1="230.40" y1="339.40" x2="233.00" y2="339.40" stroke="#333" stroke-width="0.5" />
<text x="230.00" y="340.80" font-size="4.2" text-anchor="end" fill="#444" stroke="#444" stroke-width="0.12" >0.00</text>
<line x1="240.20" y1="342.40" x2="240.20" y2="343.80" stroke="#333" stroke-width="0.5" />
<text x="240.20" y="347.20" font-size="4.3" text-anchor="middle" fill="#333" stroke="#333" stroke-width="0.12" >0</text>
<line x1="275.52" y1="342.40" x2="275.52" y2="343.80" stroke="#333" stroke-width="0.5" />
<text x="275.52" y="347.20" font-size="4.3" text-anchor="middle" fill="#333" stroke="#333" stroke-width="0.12" >2000</text>
<line x1="310.84" y1="342.40" x2="310.84" y2="343.80" stroke="#333" stroke-width="0.5" />
<text x="310.84" y="347.20" font-size="4.3" text-anchor="middle" fill="#333" stroke="#333" stroke-width="0.12" >4000</text>
<line x1="346.16" y1="342.40" x2="346.16" y2="343.80" stroke="#333" stroke-width="0.5" />
<text x="346.16" y="347.20" font-size="4.3" text-anchor="middle" fill="#333" stroke="#333" stroke-width="0.12" >6000</text>
<line x1="381.48" y1="342.40" x2="381.48" y2="343.80" stroke="#333" stroke-width="0.5" />
<text x="381.48" y="347.20" font-size="4.3" text-anchor="middle" fill="#333" stroke="#333" stroke-width="0.12" >8000</text>
<text x="310.50" y="352.60" font-size="4.9" font-weight="bold" text-anchor="middle" stroke="#000" stroke-width="0.18" >Time</text>
<text x="214.50" y="306.30" font-size="5.6" font-weight="bold" text-anchor="middle" stroke="#000" stroke-width="0.18" transform="rotate(-90 214.50 306.30)" >Survival probability</text>
<text x="232.00" y="356.60" font-size="4.94" font-weight="bold" stroke="#000" stroke-width="0.18" >Number at risk</text>
<rect x="233.00" y="359.60" width="153.50" height="11.40" fill="#fff" />
<line x1="240.20" y1="359.60" x2="240.20" y2="371.00" stroke="#E6E6E6" stroke-width="0.6" />
<line x1="275.52" y1="359.60" x2="275.52" y2="371.00" stroke="#E6E6E6" stroke-width="0.6" />
<line x1="310.84" y1="359.60" x2="310.84" y2="371.00" stroke="#E6E6E6" stroke-width="0.6" />
<line x1="346.16" y1="359.60" x2="346.16" y2="371.00" stroke="#E6E6E6" stroke-width="0.6" />
<line x1="381.48" y1="359.60" x2="381.48" y2="371.00" stroke="#E6E6E6" stroke-width="0.6" />
<rect x="233.00" y="359.60" width="153.50" height="11.40" fill="none" stroke="#4D4D4D" stroke-width="0.6" />
<text x="230.20" y="364.40" font-size="5.85" font-weight="bold" text-anchor="end" fill="#E7B800" stroke="#E7B800" stroke-width="0.18" >high_gsva</text>
<line x1="231.60" y1="362.80" x2="233.00" y2="362.80" stroke="#333" stroke-width="0.5" />
<text x="240.20" y="364.60" font-size="4.3" text-anchor="middle" fill="#E7B800" stroke="#E7B800" stroke-width="0.12" >130</text>
<text x="275.52" y="364.60" font-size="4.3" text-anchor="middle" fill="#E7B800" stroke="#E7B800" stroke-width="0.12" >4</text>
<text x="310.84" y="364.60" font-size="4.3" text-anchor="middle" fill="#E7B800" stroke="#E7B800" stroke-width="0.12" >0</text>
<text x="346.16" y="364.60" font-size="4.3" text-anchor="middle" fill="#E7B800" stroke="#E7B800" stroke-width="0.12" >0</text>
<text x="381.48" y="364.60" font-size="4.3" text-anchor="middle" fill="#E7B800" stroke="#E7B800" stroke-width="0.12" >0</text>
<text x="230.20" y="370.00" font-size="5.85" font-weight="bold" text-anchor="end" fill="#2E9FDF" stroke="#2E9FDF" stroke-width="0.18" >low_gsva</text>
<line x1="231.60" y1="368.40" x2="233.00" y2="368.40" stroke="#333" stroke-width="0.5" />
<text x="240.20" y="370.20" font-size="4.3" text-anchor="middle" fill="#2E9FDF" stroke="#2E9FDF" stroke-width="0.12" >131</text>
<text x="275.52" y="370.20" font-size="4.3" text-anchor="middle" fill="#2E9FDF" stroke="#2E9FDF" stroke-width="0.12" >11</text>
<text x="310.84" y="370.20" font-size="4.3" text-anchor="middle" fill="#2E9FDF" stroke="#2E9FDF" stroke-width="0.12" >3</text>
<text x="346.16" y="370.20" font-size="4.3" text-anchor="middle" fill="#2E9FDF" stroke="#2E9FDF" stroke-width="0.12" >2</text>
<text x="381.48" y="370.20" font-size="4.3" text-anchor="middle" fill="#2E9FDF" stroke="#2E9FDF" stroke-width="0.12" >0</text>
<line x1="240.20" y1="371.00" x2="240.20" y2="372.40" stroke="#333" stroke-width="0.5" />
<text x="240.20" y="375.80" font-size="4.3" text-anchor="middle" fill="#333" stroke="#333" stroke-width="0.12" >0</text>
<line x1="275.52" y1="371.00" x2="275.52" y2="372.40" stroke="#333" stroke-width="0.5" />
<text x="275.52" y="375.80" font-size="4.3" text-anchor="middle" fill="#333" stroke="#333" stroke-width="0.12" >2000</text>
<line x1="310.84" y1="371.00" x2="310.84" y2="372.40" stroke="#333" stroke-width="0.5" />
<text x="310.84" y="375.80" font-size="4.3" text-anchor="middle" fill="#333" stroke="#333" stroke-width="0.12" >4000</text>
<line x1="346.16" y1="371.00" x2="346.16" y2="372.40" stroke="#333" stroke-width="0.5" />
<text x="346.16" y="375.80" font-size="4.3" text-anchor="middle" fill="#333" stroke="#333" stroke-width="0.12" >6000</text>
<line x1="381.48" y1="371.00" x2="381.48" y2="372.40" stroke="#333" stroke-width="0.5" />
<text x="381.48" y="375.80" font-size="4.3" text-anchor="middle" fill="#333" stroke="#333" stroke-width="0.12" >8000</text>
<text x="310.50" y="382.20" font-size="4.9" font-weight="bold" text-anchor="middle" stroke="#000" stroke-width="0.18" >Time</text>
<text x="401.80" y="289.80" font-size="9.6" font-weight="bold" stroke="#000" stroke-width="0.18" >G</text>
<text x="422.50" y="295.00" font-size="7.79" font-weight="bold" stroke="#000" stroke-width="0.18" >Time dependent ROC (one year)</text>
<line x1="420.30" y1="358.40" x2="541.30" y2="299.80" stroke="#CCCCCC" stroke-width="1.3" stroke-dasharray="3.2,3.2" />
<polyline points="420.30,354.80 420.71,353.63 421.29,351.93 421.95,350.10 422.60,348.50 423.23,347.23 423.89,346.09 424.55,345.03 425.20,344.00 425.80,343.02 426.37,342.10 426.99,341.18 427.70,340.20 428.56,339.09 429.51,337.91 430.51,336.75 431.50,335.70 432.47,334.78 433.45,333.94 434.43,333.18 435.40,332.50 436.37,331.91 437.34,331.41 438.29,330.98 439.20,330.60 440.04,330.29 440.84,330.06 441.62,329.85 442.40,329.60 443.16,329.33 443.91,329.06 444.67,328.74 445.50,328.30 446.42,327.73 447.41,327.06 448.41,326.31 449.40,325.50 450.36,324.65 451.31,323.74 452.25,322.76 453.20,321.70 454.15,320.50 455.10,319.19 456.05,317.86 457.00,316.60 457.92,315.44 458.82,314.32 459.76,313.24 460.80,312.20 461.98,311.20 463.27,310.24 464.59,309.31 465.90,308.40 467.21,307.48 468.53,306.56 469.82,305.68 471.00,304.90 472.04,304.20 472.98,303.57 473.88,303.03 474.80,302.60 475.69,302.32 476.54,302.16 477.47,302.07 478.60,302.00 478.85,301.96 478.52,301.96 479.83,301.99 485.00,302.00 496.89,302.00 513.55,302.00 530.01,302.00 541.30,302.00" fill="none" stroke="#D1493A" stroke-width="1.3" stroke-linejoin="round"/>
<polyline points="420.30,353.80 420.94,353.06 421.86,351.99 422.90,350.80 423.90,349.70 424.84,348.71 425.79,347.74 426.75,346.80 427.70,345.90 428.65,345.04 429.59,344.22 430.54,343.44 431.50,342.70 432.47,342.00 433.45,341.33 434.43,340.72 435.40,340.20 436.37,339.78 437.34,339.45 438.29,339.17 439.20,338.90 440.04,338.66 440.84,338.47 441.62,338.26 442.40,338.00 443.16,337.67 443.91,337.31 444.67,336.89 445.50,336.40 446.42,335.83 447.41,335.20 448.41,334.52 449.40,333.80 450.36,333.09 451.31,332.36 452.25,331.55 453.20,330.60 454.15,329.49 455.10,328.24 456.05,326.90 457.00,325.50 457.95,324.01 458.90,322.43 459.85,320.81 460.80,319.20 461.75,317.58 462.69,315.92 463.64,314.31 464.60,312.80 465.57,311.40 466.55,310.09 467.53,308.85 468.50,307.70 469.46,306.61 470.41,305.60 471.35,304.69 472.30,303.90 473.13,303.26 473.88,302.74 474.79,302.32 476.10,302.00 476.86,301.79 477.27,301.68 479.32,301.64 485.00,301.60 497.06,301.57 513.71,301.58 530.07,301.59 541.30,301.60" fill="none" stroke="#2A86C8" stroke-width="1.3" stroke-linejoin="round"/>
<line x1="420.30" y1="358.40" x2="420.30" y2="354.00" stroke="#2A86C8" stroke-width="1.3" />
<rect x="415.80" y="299.40" width="130.20" height="60.60" fill="none" stroke="#000" stroke-width="0.9" />
<line x1="413.60" y1="358.50" x2="415.80" y2="358.50" stroke="#000" stroke-width="0.6" />
<text x="411.60" y="358.50" font-size="5.6" font-weight="bold" text-anchor="middle" stroke="#000" stroke-width="0.18" transform="rotate(-90 411.60 358.50)" >0.0</text>
<line x1="413.60" y1="347.06" x2="415.80" y2="347.06" stroke="#000" stroke-width="0.6" />
<text x="411.60" y="347.06" font-size="5.6" font-weight="bold" text-anchor="middle" stroke="#000" stroke-width="0.18" transform="rotate(-90 411.60 347.06)" >0.2</text>
<line x1="413.60" y1="335.62" x2="415.80" y2="335.62" stroke="#000" stroke-width="0.6" />
<text x="411.60" y="335.62" font-size="5.6" font-weight="bold" text-anchor="middle" stroke="#000" stroke-width="0.18" transform="rotate(-90 411.60 335.62)" >0.4</text>
<line x1="413.60" y1="324.18" x2="415.80" y2="324.18" stroke="#000" stroke-width="0.6" />
<text x="411.60" y="324.18" font-size="5.6" font-weight="bold" text-anchor="middle" stroke="#000" stroke-width="0.18" transform="rotate(-90 411.60 324.18)" >0.6</text>
<line x1="413.60" y1="312.74" x2="415.80" y2="312.74" stroke="#000" stroke-width="0.6" />
<text x="411.60" y="312.74" font-size="5.6" font-weight="bold" text-anchor="middle" stroke="#000" stroke-width="0.18" transform="rotate(-90 411.60 312.74)" >0.8</text>
<line x1="413.60" y1="301.30" x2="415.80" y2="301.30" stroke="#000" stroke-width="0.6" />
<text x="411.60" y="301.30" font-size="5.6" font-weight="bold" text-anchor="middle" stroke="#000" stroke-width="0.18" transform="rotate(-90 411.60 301.30)" >1.0</text>
<line x1="420.30" y1="360.00" x2="420.30" y2="362.20" stroke="#000" stroke-width="0.6" />
<text x="420.30" y="366.80" font-size="5.6" font-weight="bold" text-anchor="middle" stroke="#000" stroke-width="0.18" >0.0</text>
<line x1="444.46" y1="360.00" x2="444.46" y2="362.20" stroke="#000" stroke-width="0.6" />
<text x="444.46" y="366.80" font-size="5.6" font-weight="bold" text-anchor="middle" stroke="#000" stroke-width="0.18" >0.2</text>
<line x1="468.62" y1="360.00" x2="468.62" y2="362.20" stroke="#000" stroke-width="0.6" />
<text x="468.62" y="366.80" font-size="5.6" font-weight="bold" text-anchor="middle" stroke="#000" stroke-width="0.18" >0.4</text>
<line x1="492.78" y1="360.00" x2="492.78" y2="362.20" stroke="#000" stroke-width="0.6" />
<text x="492.78" y="366.80" font-size="5.6" font-weight="bold" text-anchor="middle" stroke="#000" stroke-width="0.18" >0.6</text>
<line x1="516.94" y1="360.00" x2="516.94" y2="362.20" stroke="#000" stroke-width="0.6" />
<text x="516.94" y="366.80" font-size="5.6" font-weight="bold" text-anchor="middle" stroke="#000" stroke-width="0.18" >0.8</text>
<line x1="541.10" y1="360.00" x2="541.10" y2="362.20" stroke="#000" stroke-width="0.6" />
<text x="541.10" y="366.80" font-size="5.6" font-weight="bold" text-anchor="middle" stroke="#000" stroke-width="0.18" >1.0</text>
<text x="401.60" y="328.30" font-size="6.9" font-weight="bold" text-anchor="middle" stroke="#000" stroke-width="0.18" transform="rotate(-90 401.60 328.30)" >True positive rate</text>
<text x="485.60" y="379.70" font-size="6.62" font-weight="bold" text-anchor="middle" stroke="#000" stroke-width="0.18" >False positive rate</text>
<line x1="465.60" y1="346.30" x2="471.60" y2="346.30" stroke="#D1493A" stroke-width="1.4" />
<line x1="465.60" y1="351.20" x2="471.60" y2="351.20" stroke="#2A86C8" stroke-width="1.4" />
<text x="475.50" y="348.30" font-size="5.41" fill="#111" stroke="#111" stroke-width="0.12" >AUC of Risk score = 0.822</text>
<text x="475.50" y="353.20" font-size="5.41" fill="#111" stroke="#111" stroke-width="0.12" >AUC of GSVA score = 0.76</text>
<text x="12.40" y="396.30" font-size="9.4" font-weight="bold" stroke="#000" stroke-width="0.18" >H</text>
<text x="58.20" y="395.60" font-size="7.14" font-weight="bold" stroke="#000" stroke-width="0.18" >Univariate COX regression</text>
<text x="61.80" y="412.40" font-size="5.97" font-weight="bold" stroke="#000" stroke-width="0.18" >P value</text>
<text x="88.70" y="412.60" font-size="5.97" font-weight="bold" stroke="#000" stroke-width="0.18" >Hazard Ratio</text>
<text x="28.50" y="427.40" font-size="6.3" font-weight="bold" fill="#222" stroke="#222" stroke-width="0.18" >age</text>
<text x="70.00" y="427.00" font-size="4.6" text-anchor="middle" fill="#444" stroke="#444" stroke-width="0.12" >0.447</text>
<text x="126.40" y="427.00" font-size="4.74" text-anchor="end" fill="#444" stroke="#444" stroke-width="0.12" >1.006 (0.991 – 1.022)</text>
<line x1="136.02" y1="425.40" x2="136.27" y2="425.40" stroke="#6C9FD3" stroke-width="0.9" />
<circle cx="136.14" cy="425.40" r="1.9" fill="#57AE2C" />
<text x="28.50" y="440.65" font-size="6.3" font-weight="bold" fill="#222" stroke="#222" stroke-width="0.18" >gender</text>
<text x="70.00" y="440.25" font-size="4.6" text-anchor="middle" fill="#444" stroke="#444" stroke-width="0.12" >0.038</text>
<text x="126.40" y="440.25" font-size="4.74" text-anchor="end" fill="#444" stroke="#444" stroke-width="0.12" >1.525 (1.024 – 2.270)</text>
<line x1="136.29" y1="438.65" x2="146.49" y2="438.65" stroke="#6C9FD3" stroke-width="0.9" />
<circle cx="140.39" cy="438.65" r="1.9" fill="#57AE2C" />
<text x="28.50" y="453.90" font-size="6.3" font-weight="bold" fill="#222" stroke="#222" stroke-width="0.18" >gsva.score</text>
<text x="70.00" y="453.50" font-size="4.6" text-anchor="middle" fill="#444" stroke="#444" stroke-width="0.12" >0.015</text>
<text x="126.40" y="453.50" font-size="4.74" text-anchor="end" fill="#444" stroke="#444" stroke-width="0.12" >0.453 (0.239 – 0.859)</text>
<line x1="129.86" y1="451.90" x2="134.94" y2="451.90" stroke="#6C9FD3" stroke-width="0.9" />
<circle cx="131.61" cy="451.90" r="1.9" fill="#57AE2C" />
<text x="28.50" y="467.15" font-size="6.3" font-weight="bold" fill="#222" stroke="#222" stroke-width="0.18" >tumor_stage</text>
<text x="70.00" y="466.75" font-size="4.6" text-anchor="middle" fill="#444" stroke="#444" stroke-width="0.12" >0</text>
<text x="126.40" y="466.75" font-size="4.74" text-anchor="end" fill="#444" stroke="#444" stroke-width="0.12" >2.585 (1.709 – 3.910)</text>
<line x1="141.90" y1="465.15" x2="159.92" y2="465.15" stroke="#6C9FD3" stroke-width="0.9" />
<circle cx="149.07" cy="465.15" r="1.9" fill="#57AE2C" />
<text x="28.50" y="480.40" font-size="6.3" font-weight="bold" fill="#222" stroke="#222" stroke-width="0.18" >risk.score</text>
<text x="70.00" y="480.00" font-size="4.6" text-anchor="middle" fill="#444" stroke="#444" stroke-width="0.12" >0</text>
<text x="126.40" y="480.00" font-size="4.74" text-anchor="end" fill="#444" stroke="#444" stroke-width="0.12" >4.672 (2.878 – 7.586)</text>
<line x1="151.47" y1="478.40" x2="190.03" y2="478.40" stroke="#6C9FD3" stroke-width="0.9" />
<circle cx="166.16" cy="478.40" r="1.9" fill="#57AE2C" />
<line x1="135.60" y1="418.80" x2="135.60" y2="484.60" stroke="#111" stroke-width="0.8" />
<line x1="127.90" y1="484.60" x2="193.50" y2="484.60" stroke="#111" stroke-width="0.6" />
<line x1="127.90" y1="484.60" x2="127.90" y2="486.40" stroke="#111" stroke-width="0.5" />
<text x="127.90" y="490.90" font-size="4.6" text-anchor="middle" fill="#333" stroke="#333" stroke-width="0.12" >0</text>
<line x1="136.09" y1="484.60" x2="136.09" y2="486.40" stroke="#111" stroke-width="0.5" />
<text x="136.09" y="490.90" font-size="4.6" text-anchor="middle" fill="#333" stroke="#333" stroke-width="0.12" >1</text>
<line x1="144.28" y1="484.60" x2="144.28" y2="486.40" stroke="#111" stroke-width="0.5" />
<text x="144.28" y="490.90" font-size="4.6" text-anchor="middle" fill="#333" stroke="#333" stroke-width="0.12" >2</text>
<line x1="152.47" y1="484.60" x2="152.47" y2="486.40" stroke="#111" stroke-width="0.5" />
<text x="152.47" y="490.90" font-size="4.6" text-anchor="middle" fill="#333" stroke="#333" stroke-width="0.12" >3</text>
<line x1="160.66" y1="484.60" x2="160.66" y2="486.40" stroke="#111" stroke-width="0.5" />
<text x="160.66" y="490.90" font-size="4.6" text-anchor="middle" fill="#333" stroke="#333" stroke-width="0.12" >4</text>
<line x1="168.85" y1="484.60" x2="168.85" y2="486.40" stroke="#111" stroke-width="0.5" />
<text x="168.85" y="490.90" font-size="4.6" text-anchor="middle" fill="#333" stroke="#333" stroke-width="0.12" >5</text>
<line x1="177.04" y1="484.60" x2="177.04" y2="486.40" stroke="#111" stroke-width="0.5" />
<text x="177.04" y="490.90" font-size="4.6" text-anchor="middle" fill="#333" stroke="#333" stroke-width="0.12" >6</text>
<line x1="185.23" y1="484.60" x2="185.23" y2="486.40" stroke="#111" stroke-width="0.5" />
<text x="185.23" y="490.90" font-size="4.6" text-anchor="middle" fill="#333" stroke="#333" stroke-width="0.12" >7</text>
<line x1="193.42" y1="484.60" x2="193.42" y2="486.40" stroke="#111" stroke-width="0.5" />
<text x="193.42" y="490.90" font-size="4.6" text-anchor="middle" fill="#333" stroke="#333" stroke-width="0.12" >8</text>
<text x="159.00" y="497.50" font-size="6.1" font-weight="bold" text-anchor="middle" fill="#222" stroke="#222" stroke-width="0.18" >Hazard Ratio</text>
<text x="12.60" y="511.20" font-size="9.4" font-weight="bold" stroke="#000" stroke-width="0.18" >I</text>
<text x="75.40" y="511.20" font-size="7.14" font-weight="bold" stroke="#000" stroke-width="0.18" >Multivariate COX regression</text>
<rect x="23.90" y="517.50" width="179.10" height="18.30" fill="#D7D7D7" />
<rect x="23.90" y="554.30" width="179.10" height="18.20" fill="#D7D7D7" />
<rect x="23.90" y="590.80" width="179.10" height="18.00" fill="#D7D7D7" />
<line x1="147.60" y1="517.50" x2="147.60" y2="612.00" stroke="#A0A0A0" stroke-width="0.5" />
<line x1="177.47" y1="517.50" x2="177.47" y2="612.00" stroke="#A0A0A0" stroke-width="0.5" />
<line x1="125.00" y1="517.50" x2="125.00" y2="613.50" stroke="#555" stroke-width="0.5" stroke-dasharray="0.8,1.6" />
<text x="27.70" y="528.45" font-size="6.0" font-weight="bold" fill="#222" stroke="#222" stroke-width="0.18" >gender</text>
<text x="68.70" y="526.25" font-size="4.4" font-weight="bold" text-anchor="middle" fill="#222" stroke="#222" stroke-width="0.18" >FEMALE</text>
<text x="68.70" y="531.05" font-size="4.4" font-weight="bold" text-anchor="middle" fill="#222" stroke="#222" stroke-width="0.18" >(N=149)</text>
<text x="88.20" y="528.25" font-size="4.4" font-weight="bold" fill="#222" stroke="#222" stroke-width="0.18" >reference</text>
<rect x="123.20" y="524.85" width="3.60" height="3.60" fill="#000" />
<text x="68.70" y="544.65" font-size="4.4" font-weight="bold" text-anchor="middle" fill="#222" stroke="#222" stroke-width="0.18" >MALE</text>
<text x="68.70" y="549.45" font-size="4.4" font-weight="bold" text-anchor="middle" fill="#222" stroke="#222" stroke-width="0.18" >(N=110)</text>
<text x="94.90" y="544.45" font-size="4.4" font-weight="bold" text-anchor="middle" fill="#222" stroke="#222" stroke-width="0.18" >1.5</text>
<text x="94.90" y="549.45" font-size="4.4" font-weight="bold" text-anchor="middle" fill="#222" stroke="#222" stroke-width="0.18" >(0.97 – 2.2)</text>
<line x1="124.01" y1="545.05" x2="150.70" y2="545.05" stroke="#000" stroke-width="0.6" />
<line x1="124.01" y1="543.75" x2="124.01" y2="546.35" stroke="#000" stroke-width="0.5" />
<line x1="150.70" y1="543.75" x2="150.70" y2="546.35" stroke="#000" stroke-width="0.5" />
<rect x="136.42" y="543.25" width="3.60" height="3.60" fill="#000" />
<text x="194.00" y="546.65" font-size="4.4" font-weight="bold" text-anchor="middle" fill="#222" stroke="#222" stroke-width="0.18" >0.07</text>
<text x="27.70" y="565.00" font-size="4.5" font-weight="bold" fill="#222" stroke="#222" stroke-width="0.18" >tumor_stage</text>
<text x="68.70" y="565.00" font-size="4.4" font-weight="bold" text-anchor="middle" fill="#222" stroke="#222" stroke-width="0.18" >(N=259)</text>
<text x="94.90" y="562.80" font-size="4.4" font-weight="bold" text-anchor="middle" fill="#222" stroke="#222" stroke-width="0.18" >2.3</text>
<text x="94.90" y="567.80" font-size="4.4" font-weight="bold" text-anchor="middle" fill="#222" stroke="#222" stroke-width="0.18" >(1.53 – 3.6)</text>
<line x1="138.86" y1="563.40" x2="166.76" y2="563.40" stroke="#000" stroke-width="0.6" />
<line x1="138.86" y1="562.10" x2="138.86" y2="564.70" stroke="#000" stroke-width="0.5" />
<line x1="166.76" y1="562.10" x2="166.76" y2="564.70" stroke="#000" stroke-width="0.5" />
<rect x="150.35" y="561.60" width="3.60" height="3.60" fill="#000" />
<text x="187.20" y="565.00" font-size="4.4" font-weight="bold" fill="#222" stroke="#222" stroke-width="0.18" >&lt;0.001</text>
<text x="202.00" y="564.40" font-size="3.4" fill="#444" stroke="#444" stroke-width="0.12" >***</text>
<text x="27.70" y="583.25" font-size="4.5" font-weight="bold" fill="#222" stroke="#222" stroke-width="0.18" >gsva.score</text>
<text x="68.70" y="583.25" font-size="4.4" font-weight="bold" text-anchor="middle" fill="#222" stroke="#222" stroke-width="0.18" >(N=259)</text>
<text x="94.90" y="581.05" font-size="4.4" font-weight="bold" text-anchor="middle" fill="#222" stroke="#222" stroke-width="0.18" >1.2</text>
<text x="94.90" y="586.05" font-size="4.4" font-weight="bold" text-anchor="middle" fill="#222" stroke="#222" stroke-width="0.18" >(0.57 – 2.6)</text>
<line x1="107.00" y1="581.65" x2="156.15" y2="581.65" stroke="#000" stroke-width="0.6" />
<line x1="107.00" y1="580.35" x2="107.00" y2="582.95" stroke="#000" stroke-width="0.5" />
<line x1="156.15" y1="580.35" x2="156.15" y2="582.95" stroke="#000" stroke-width="0.5" />
<rect x="129.14" y="579.85" width="3.60" height="3.60" fill="#000" />
<text x="194.00" y="583.25" font-size="4.4" font-weight="bold" text-anchor="middle" fill="#222" stroke="#222" stroke-width="0.18" >0.609</text>
<text x="27.70" y="601.40" font-size="4.5" font-weight="bold" fill="#222" stroke="#222" stroke-width="0.18" >risk.score</text>
<text x="68.70" y="601.40" font-size="4.4" font-weight="bold" text-anchor="middle" fill="#222" stroke="#222" stroke-width="0.18" >(N=259)</text>
<text x="94.90" y="599.20" font-size="4.4" font-weight="bold" text-anchor="middle" fill="#222" stroke="#222" stroke-width="0.18" >4.3</text>
<text x="94.90" y="604.20" font-size="4.4" font-weight="bold" text-anchor="middle" fill="#222" stroke="#222" stroke-width="0.18" >(2.52 – 7.4)</text>
<line x1="155.13" y1="599.80" x2="190.00" y2="599.80" stroke="#000" stroke-width="0.6" />
<line x1="155.13" y1="598.50" x2="155.13" y2="601.10" stroke="#000" stroke-width="0.5" />
<line x1="190.00" y1="598.50" x2="190.00" y2="601.10" stroke="#000" stroke-width="0.5" />
<rect x="170.75" y="598.00" width="3.60" height="3.60" fill="#000" />
<text x="187.20" y="601.40" font-size="4.4" font-weight="bold" fill="#222" stroke="#222" stroke-width="0.18" >&lt;0.001</text>
<text x="202.00" y="600.80" font-size="3.4" fill="#444" stroke="#444" stroke-width="0.12" >***</text>
<text x="27.50" y="612.80" font-size="3.7" fill="#222" stroke="#222" stroke-width="0.12" ># Events: 86; Global p-value (Log-Rank): 7.7 × 10⁻¹¹</text>
<text x="27.50" y="617.20" font-size="3.7" fill="#222" stroke="#222" stroke-width="0.12" >AIC: 886.43; Concordance Index: 0.73</text>
<text x="125.00" y="619.40" font-size="4.8" text-anchor="middle" fill="#222" stroke="#222" stroke-width="0.12" >1</text>
<text x="147.60" y="619.40" font-size="4.8" text-anchor="middle" fill="#222" stroke="#222" stroke-width="0.12" >2</text>
<text x="177.47" y="619.40" font-size="4.8" text-anchor="middle" fill="#222" stroke="#222" stroke-width="0.12" >5</text>
<text x="120.80" y="625.00" font-size="5.75" font-weight="bold" text-anchor="middle" fill="#111" stroke="#111" stroke-width="0.18" >Hazard ratio</text>
<text x="223.20" y="397.40" font-size="9.4" font-weight="bold" stroke="#000" stroke-width="0.18" >J</text>
<text x="367.80" y="410.30" font-size="8.05" font-weight="bold" font-style="italic" stroke="#000" stroke-width="0.18" >Nomogram</text>
<text x="225.00" y="425.00" font-size="7.9" font-style="italic" stroke="#000" stroke-width="0.12" >Points</text>
<line x1="289.40" y1="420.40" x2="504.40" y2="420.40" stroke="#111" stroke-width="1.0" />
<line x1="289.40" y1="420.40" x2="289.40" y2="418.60" stroke="#222" stroke-width="0.6" />
<line x1="310.90" y1="420.40" x2="310.90" y2="419.50" stroke="#222" stroke-width="0.6" />
<line x1="332.40" y1="420.40" x2="332.40" y2="418.60" stroke="#222" stroke-width="0.6" />
<line x1="353.90" y1="420.40" x2="353.90" y2="419.50" stroke="#222" stroke-width="0.6" />
<line x1="375.40" y1="420.40" x2="375.40" y2="418.60" stroke="#222" stroke-width="0.6" />
<line x1="396.90" y1="420.40" x2="396.90" y2="419.50" stroke="#222" stroke-width="0.6" />
<line x1="418.40" y1="420.40" x2="418.40" y2="418.60" stroke="#222" stroke-width="0.6" />
<line x1="439.90" y1="420.40" x2="439.90" y2="419.50" stroke="#222" stroke-width="0.6" />
<line x1="461.40" y1="420.40" x2="461.40" y2="418.60" stroke="#222" stroke-width="0.6" />
<line x1="482.90" y1="420.40" x2="482.90" y2="419.50" stroke="#222" stroke-width="0.6" />
<line x1="504.40" y1="420.40" x2="504.40" y2="418.60" stroke="#222" stroke-width="0.6" />
<text x="289.40" y="427.20" font-size="5.4" text-anchor="middle" fill="#222" stroke="#222" stroke-width="0.12" >0</text>
<text x="332.40" y="427.20" font-size="5.4" text-anchor="middle" fill="#222" stroke="#222" stroke-width="0.12" >20</text>
<text x="375.40" y="427.20" font-size="5.4" text-anchor="middle" fill="#222" stroke="#222" stroke-width="0.12" >40</text>
<text x="418.40" y="427.20" font-size="5.4" text-anchor="middle" fill="#222" stroke="#222" stroke-width="0.12" >60</text>
<text x="461.40" y="427.20" font-size="5.4" text-anchor="middle" fill="#222" stroke="#222" stroke-width="0.12" >80</text>
<text x="504.40" y="427.20" font-size="5.4" text-anchor="middle" fill="#222" stroke="#222" stroke-width="0.12" >100</text>
<circle cx="397.60" cy="420.40" r="1.3" fill="#F00000" />
<circle cx="407.70" cy="420.40" r="1.3" fill="#F00000" />
<circle cx="462.20" cy="420.40" r="1.3" fill="#F00000" />
<circle cx="466.00" cy="420.40" r="1.3" fill="#F00000" />
<text x="225.00" y="445.00" font-size="7.97" stroke="#000" stroke-width="0.12" >Gender</text>
<rect x="385.40" y="437.60" width="17.20" height="17.00" fill="#A9D9D3" stroke="#2A4EA0" stroke-width="0.8" />
<rect x="402.60" y="438.80" width="20.80" height="15.00" fill="#A9D9D3" stroke="#2A4EA0" stroke-width="0.8" />
<text x="397.80" y="435.30" font-size="5.3" text-anchor="middle" fill="#222" stroke="#222" stroke-width="0.12" >Female</text>
<text x="413.00" y="459.60" font-size="5.4" text-anchor="middle" fill="#222" stroke="#222" stroke-width="0.12" >Male</text>
<circle cx="397.60" cy="446.00" r="1.2" fill="#F00000" />
<circle cx="412.80" cy="446.00" r="0.5" fill="#000" />
<text x="224.80" y="473.60" font-size="7.97" stroke="#000" stroke-width="0.12" >Age</text>
<line x1="377.30" y1="474.50" x2="415.00" y2="474.50" stroke="#111" stroke-width="1.0" />
<line x1="377.30" y1="474.50" x2="377.30" y2="476.00" stroke="#222" stroke-width="0.5" />
<text x="377.30" y="481.70" font-size="5.4" text-anchor="middle" fill="#222" stroke="#222" stroke-width="0.12" >35</text>
<line x1="397.80" y1="474.50" x2="397.80" y2="476.00" stroke="#222" stroke-width="0.5" />
<text x="397.80" y="481.70" font-size="5.4" text-anchor="middle" fill="#222" stroke="#222" stroke-width="0.12" >65</text>
<line x1="415.00" y1="474.50" x2="415.00" y2="476.00" stroke="#222" stroke-width="0.5" />
<text x="415.00" y="481.70" font-size="5.4" text-anchor="middle" fill="#222" stroke="#222" stroke-width="0.12" >90</text>
<path d="M378.00,474.50 L378.00,474.30 L380.00,472.00 L381.50,471.00 L383.00,472.50 L384.50,469.50 L386.00,470.00 L387.50,467.00 L389.00,466.50 L390.50,464.00 L392.00,463.00 L393.20,458.00 L393.80,457.30 L394.40,474.30 L394.40,474.50 Z" fill="#EBEBEB" stroke="none" stroke-width="0" />
<polyline points="378.00,474.30 380.00,472.00 381.50,471.00 383.00,472.50 384.50,469.50 386.00,470.00 387.50,467.00 389.00,466.50 390.50,464.00 392.00,463.00 393.20,458.00 393.80,457.30 394.40,474.30" fill="none" stroke="#2F54A8" stroke-width="1.15" stroke-linejoin="round"/>
<path d="M402.40,474.50 L402.40,474.30 L403.00,460.00 L404.00,458.20 L405.50,461.00 L407.00,464.00 L408.50,465.50 L410.00,468.50 L411.50,469.00 L413.00,471.50 L414.50,474.00 L414.50,474.50 Z" fill="#EBEBEB" stroke="none" stroke-width="0" />
<polyline points="402.40,474.30 403.00,460.00 404.00,458.20 405.50,461.00 407.00,464.00 408.50,465.50 410.00,468.50 411.50,469.00 413.00,471.50 414.50,474.00" fill="none" stroke="#2F54A8" stroke-width="1.15" stroke-linejoin="round"/>
<circle cx="407.60" cy="474.50" r="1.2" fill="#F00000" />
<text x="224.80" y="502.00" font-size="8.13" stroke="#000" stroke-width="0.12" >TumorStage***</text>
<line x1="409.60" y1="502.90" x2="455.50" y2="502.90" stroke="#C8C8C8" stroke-width="0.9" />
<rect x="385.50" y="494.50" width="24.10" height="17.00" fill="#A9D9D3" stroke="#2A4EA0" stroke-width="0.8" />
<rect x="455.50" y="498.20" width="13.20" height="9.40" fill="#A9D9D3" stroke="#2A4EA0" stroke-width="0.8" />
<text x="398.20" y="492.80" font-size="5.5" text-anchor="middle" fill="#222" stroke="#222" stroke-width="0.12" >StageI &amp;StageII</text>
<text x="459.80" y="513.60" font-size="5.4" text-anchor="middle" fill="#222" stroke="#222" stroke-width="0.12" >StageIII &amp;StageIV</text>
<circle cx="397.80" cy="503.00" r="0.5" fill="#000" />
<circle cx="462.20" cy="503.00" r="1.2" fill="#F00000" />
<text x="224.80" y="530.60" font-size="7.97" stroke="#000" stroke-width="0.12" >Risk.score***</text>
<path d="M283.00,530.80 L283.00,530.50 L284.28,530.38 L286.12,530.21 L288.16,530.06 L290.00,530.00 L291.55,530.09 L293.00,530.28 L294.45,530.48 L296.00,530.60 L297.68,530.60 L299.44,530.53 L301.23,530.44 L303.00,530.40 L304.73,530.44 L306.44,530.51 L308.18,530.58 L310.00,530.60 L311.99,530.53 L314.09,530.41 L316.15,530.29 L318.00,530.20 L319.60,530.21 L321.02,530.28 L322.34,530.31 L323.60,530.20 L324.75,529.89 L325.79,529.44 L326.83,528.95 L328.00,528.50 L329.39,528.10 L330.91,527.71 L332.43,527.34 L333.80,527.00 L334.97,526.73 L336.01,526.50 L337.00,526.27 L338.00,526.00 L338.96,525.67 L339.86,525.31 L340.84,524.91 L342.00,524.50 L343.50,523.95 L345.23,523.31 L346.94,522.78 L348.40,522.60 L349.50,522.92 L350.38,523.59 L351.17,524.37 L352.00,525.00 L352.88,525.53 L353.75,526.06 L354.64,526.41 L355.60,526.40 L356.68,525.87 L357.84,524.94 L358.98,523.90 L360.00,523.00 L360.82,522.27 L361.51,521.59 L362.19,520.98 L363.00,520.50 L364.00,520.10 L365.11,519.77 L366.24,519.61 L367.30,519.70 L368.27,520.18 L369.20,520.96 L370.10,521.81 L371.00,522.50 L371.87,523.11 L372.70,523.71 L373.56,524.08 L374.50,524.00 L375.56,523.25 L376.70,522.01 L377.87,520.64 L379.00,519.50 L380.10,518.67 L381.20,517.95 L382.27,517.33 L383.30,516.80 L384.24,516.36 L385.11,516.02 L386.00,515.75 L387.00,515.50 L388.17,515.20 L389.46,514.89 L390.76,514.71 L392.00,514.80 L393.18,515.39 L394.33,516.35 L395.42,517.26 L396.40,517.70 L397.19,517.39 L397.83,516.60 L398.48,515.79 L399.30,515.40 L400.36,515.61 L401.58,516.17 L402.83,516.86 L404.00,517.50 L405.05,518.05 L406.04,518.62 L407.02,519.18 L408.00,519.70 L408.98,520.16 L409.96,520.58 L410.95,521.01 L412.00,521.50 L413.14,522.10 L414.33,522.77 L415.54,523.43 L416.70,524.00 L417.80,524.45 L418.86,524.81 L419.92,525.15 L421.00,525.50 L422.13,526.02 L423.30,526.63 L424.44,527.05 L425.50,527.00 L426.43,526.12 L427.28,524.66 L428.11,523.22 L429.00,522.40 L429.96,522.44 L430.95,523.01 L431.97,523.79 L433.00,524.50 L434.08,525.18 L435.20,525.96 L436.30,526.63 L437.30,527.00 L438.18,526.94 L438.98,526.58 L439.73,526.12 L440.50,525.80 L441.28,525.62 L442.04,525.49 L442.81,525.44 L443.60,525.50 L444.44,525.74 L445.31,526.12 L446.17,526.51 L447.00,526.80 L447.74,526.89 L448.43,526.86 L449.15,526.85 L450.00,527.00 L451.03,527.46 L452.19,528.11 L453.38,528.70 L454.50,529.00 L455.53,528.86 L456.52,528.44 L457.50,527.93 L458.50,527.50 L459.56,527.13 L460.64,526.74 L461.71,526.46 L462.70,526.40 L463.60,526.67 L464.42,527.18 L465.22,527.75 L466.00,528.20 L466.74,528.49 L467.43,528.73 L468.15,528.89 L469.00,529.00 L470.02,529.02 L471.16,528.96 L472.34,528.87 L473.50,528.80 L474.60,528.72 L475.68,528.62 L476.80,528.59 L478.00,528.70 L479.30,529.06 L480.68,529.60 L482.12,530.14 L483.60,530.50 L485.11,530.61 L486.65,530.57 L488.27,530.47 L490.00,530.40 L491.96,530.38 L494.09,530.36 L496.17,530.34 L498.00,530.30 L499.44,530.23 L500.62,530.12 L501.75,530.04 L503.00,530.00 L504.41,530.03 L505.88,530.11 L507.41,530.21 L509.00,530.30 L510.84,530.38 L512.88,530.47 L514.72,530.55 L516.00,530.60 L516.00,530.80 Z" fill="#EBEBEB" stroke="none" stroke-width="0" />
<polyline points="283.00,530.50 284.28,530.38 286.12,530.21 288.16,530.06 290.00,530.00 291.55,530.09 293.00,530.28 294.45,530.48 296.00,530.60 297.68,530.60 299.44,530.53 301.23,530.44 303.00,530.40 304.73,530.44 306.44,530.51 308.18,530.58 310.00,530.60 311.99,530.53 314.09,530.41 316.15,530.29 318.00,530.20 319.60,530.21 321.02,530.28 322.34,530.31 323.60,530.20 324.75,529.89 325.79,529.44 326.83,528.95 328.00,528.50 329.39,528.10 330.91,527.71 332.43,527.34 333.80,527.00 334.97,526.73 336.01,526.50 337.00,526.27 338.00,526.00 338.96,525.67 339.86,525.31 340.84,524.91 342.00,524.50 343.50,523.95 345.23,523.31 346.94,522.78 348.40,522.60 349.50,522.92 350.38,523.59 351.17,524.37 352.00,525.00 352.88,525.53 353.75,526.06 354.64,526.41 355.60,526.40 356.68,525.87 357.84,524.94 358.98,523.90 360.00,523.00 360.82,522.27 361.51,521.59 362.19,520.98 363.00,520.50 364.00,520.10 365.11,519.77 366.24,519.61 367.30,519.70 368.27,520.18 369.20,520.96 370.10,521.81 371.00,522.50 371.87,523.11 372.70,523.71 373.56,524.08 374.50,524.00 375.56,523.25 376.70,522.01 377.87,520.64 379.00,519.50 380.10,518.67 381.20,517.95 382.27,517.33 383.30,516.80 384.24,516.36 385.11,516.02 386.00,515.75 387.00,515.50 388.17,515.20 389.46,514.89 390.76,514.71 392.00,514.80 393.18,515.39 394.33,516.35 395.42,517.26 396.40,517.70 397.19,517.39 397.83,516.60 398.48,515.79 399.30,515.40 400.36,515.61 401.58,516.17 402.83,516.86 404.00,517.50 405.05,518.05 406.04,518.62 407.02,519.18 408.00,519.70 408.98,520.16 409.96,520.58 410.95,521.01 412.00,521.50 413.14,522.10 414.33,522.77 415.54,523.43 416.70,524.00 417.80,524.45 418.86,524.81 419.92,525.15 421.00,525.50 422.13,526.02 423.30,526.63 424.44,527.05 425.50,527.00 426.43,526.12 427.28,524.66 428.11,523.22 429.00,522.40 429.96,522.44 430.95,523.01 431.97,523.79 433.00,524.50 434.08,525.18 435.20,525.96 436.30,526.63 437.30,527.00 438.18,526.94 438.98,526.58 439.73,526.12 440.50,525.80 441.28,525.62 442.04,525.49 442.81,525.44 443.60,525.50 444.44,525.74 445.31,526.12 446.17,526.51 447.00,526.80 447.74,526.89 448.43,526.86 449.15,526.85 450.00,527.00 451.03,527.46 452.19,528.11 453.38,528.70 454.50,529.00 455.53,528.86 456.52,528.44 457.50,527.93 458.50,527.50 459.56,527.13 460.64,526.74 461.71,526.46 462.70,526.40 463.60,526.67 464.42,527.18 465.22,527.75 466.00,528.20 466.74,528.49 467.43,528.73 468.15,528.89 469.00,529.00 470.02,529.02 471.16,528.96 472.34,528.87 473.50,528.80 474.60,528.72 475.68,528.62 476.80,528.59 478.00,528.70 479.30,529.06 480.68,529.60 482.12,530.14 483.60,530.50 485.11,530.61 486.65,530.57 488.27,530.47 490.00,530.40 491.96,530.38 494.09,530.36 496.17,530.34 498.00,530.30 499.44,530.23 500.62,530.12 501.75,530.04 503.00,530.00 504.41,530.03 505.88,530.11 507.41,530.21 509.00,530.30 510.84,530.38 512.88,530.47 514.72,530.55 516.00,530.60" fill="none" stroke="#2F54A8" stroke-width="1.15" stroke-linejoin="round"/>
<line x1="283.00" y1="530.80" x2="518.20" y2="530.80" stroke="#111" stroke-width="1.0" />
<line x1="287.60" y1="530.80" x2="287.60" y2="532.60" stroke="#222" stroke-width="0.5" />
<text x="287.60" y="538.20" font-size="5.4" text-anchor="middle" fill="#222" stroke="#222" stroke-width="0.12" >−1.4</text>
<line x1="326.03" y1="530.80" x2="326.03" y2="532.60" stroke="#222" stroke-width="0.5" />
<text x="326.03" y="538.20" font-size="5.4" text-anchor="middle" fill="#222" stroke="#222" stroke-width="0.12" >−1</text>
<line x1="364.46" y1="530.80" x2="364.46" y2="532.60" stroke="#222" stroke-width="0.5" />
<text x="364.46" y="538.20" font-size="5.4" text-anchor="middle" fill="#222" stroke="#222" stroke-width="0.12" >−0.6</text>
<line x1="402.90" y1="530.80" x2="402.90" y2="532.60" stroke="#222" stroke-width="0.5" />
<text x="402.90" y="538.20" font-size="5.4" text-anchor="middle" fill="#222" stroke="#222" stroke-width="0.12" >−0.2</text>
<line x1="441.33" y1="530.80" x2="441.33" y2="532.60" stroke="#222" stroke-width="0.5" />
<text x="441.33" y="538.20" font-size="5.4" text-anchor="middle" fill="#222" stroke="#222" stroke-width="0.12" >0.2</text>
<line x1="479.76" y1="530.80" x2="479.76" y2="532.60" stroke="#222" stroke-width="0.5" />
<text x="479.76" y="538.20" font-size="5.4" text-anchor="middle" fill="#222" stroke="#222" stroke-width="0.12" >0.6</text>
<line x1="518.19" y1="530.80" x2="518.19" y2="532.60" stroke="#222" stroke-width="0.5" />
<text x="518.19" y="538.20" font-size="5.4" text-anchor="middle" fill="#222" stroke="#222" stroke-width="0.12" >1</text>
<line x1="306.82" y1="530.80" x2="306.82" y2="531.80" stroke="#222" stroke-width="0.5" />
<line x1="345.25" y1="530.80" x2="345.25" y2="531.80" stroke="#222" stroke-width="0.5" />
<line x1="383.68" y1="530.80" x2="383.68" y2="531.80" stroke="#222" stroke-width="0.5" />
<line x1="422.11" y1="530.80" x2="422.11" y2="531.80" stroke="#222" stroke-width="0.5" />
<line x1="460.54" y1="530.80" x2="460.54" y2="531.80" stroke="#222" stroke-width="0.5" />
<line x1="498.98" y1="530.80" x2="498.98" y2="531.80" stroke="#222" stroke-width="0.5" />
<circle cx="466.40" cy="530.80" r="1.2" fill="#F00000" />
<text x="225.50" y="555.50" font-size="7.85" font-weight="bold" font-style="italic" stroke="#000" stroke-width="0.18" >Total points</text>
<path d="M283.30,573.80 L283.30,573.60 L283.93,573.41 L284.84,573.14 L285.90,572.83 L287.00,572.50 L288.16,572.10 L289.42,571.63 L290.72,571.22 L292.00,571.00 L293.23,571.02 L294.46,571.21 L295.70,571.49 L297.00,571.80 L298.43,572.26 L299.96,572.86 L301.43,573.33 L302.70,573.40 L303.67,572.91 L304.42,572.03 L305.15,570.99 L306.00,570.00 L307.04,569.02 L308.18,567.96 L309.35,566.99 L310.50,566.30 L311.62,566.01 L312.74,566.00 L313.86,566.07 L315.00,566.00 L316.17,565.67 L317.36,565.22 L318.55,564.83 L319.70,564.70 L320.79,564.96 L321.83,565.49 L322.89,566.07 L324.00,566.50 L325.25,566.78 L326.58,566.99 L327.87,567.08 L329.00,567.00 L329.89,566.68 L330.62,566.16 L331.30,565.56 L332.00,565.00 L332.73,564.46 L333.44,563.91 L334.18,563.39 L335.00,563.00 L335.93,562.78 L336.94,562.68 L337.98,562.62 L339.00,562.50 L339.98,562.32 L340.94,562.12 L341.93,561.88 L343.00,561.60 L344.16,561.28 L345.39,560.93 L346.68,560.51 L348.00,560.00 L349.43,559.22 L350.96,558.24 L352.43,557.40 L353.70,557.00 L354.70,557.17 L355.52,557.74 L356.25,558.56 L357.00,559.50 L357.75,560.80 L358.46,562.42 L359.19,563.89 L360.00,564.70 L360.94,564.59 L361.96,563.86 L363.00,562.88 L364.00,562.00 L364.91,561.21 L365.77,560.36 L366.65,559.58 L367.60,559.00 L368.63,558.70 L369.71,558.59 L370.84,558.57 L372.00,558.50 L373.25,558.25 L374.59,557.91 L375.88,557.74 L377.00,558.00 L377.89,558.97 L378.62,560.44 L379.30,561.94 L380.00,563.00 L380.74,563.49 L381.47,563.66 L382.22,563.62 L383.00,563.50 L383.79,563.09 L384.58,562.42 L385.44,561.91 L386.40,562.00 L387.52,563.11 L388.77,564.92 L390.05,566.71 L391.30,567.80 L392.48,567.88 L393.64,567.36 L394.81,566.61 L396.00,566.00 L397.25,565.52 L398.54,565.01 L399.81,564.62 L401.00,564.50 L402.07,564.77 L403.06,565.32 L404.02,565.97 L405.00,566.50 L406.00,566.94 L407.00,567.36 L408.00,567.67 L409.00,567.80 L410.03,567.64 L411.07,567.26 L412.08,566.83 L413.00,566.50 L413.75,566.26 L414.39,566.04 L415.03,565.93 L415.80,566.00 L416.76,566.34 L417.83,566.88 L418.93,567.48 L420.00,568.00 L421.01,568.46 L422.01,568.92 L423.00,569.29 L424.00,569.50 L425.00,569.47 L425.99,569.26 L426.99,569.00 L428.00,568.80 L429.05,568.67 L430.11,568.54 L431.17,568.47 L432.20,568.50 L433.16,568.67 L434.09,568.95 L435.02,569.25 L436.00,569.50 L437.08,569.65 L438.21,569.75 L439.34,569.85 L440.40,570.00 L441.34,570.21 L442.19,570.47 L443.06,570.74 L444.00,571.00 L445.09,571.25 L446.26,571.51 L447.42,571.76 L448.50,572.00 L449.42,572.22 L450.24,572.43 L451.06,572.62 L452.00,572.80 L453.10,573.00 L454.30,573.21 L455.52,573.36 L456.70,573.40 L457.81,573.28 L458.89,573.04 L459.96,572.75 L461.00,572.50 L462.00,572.26 L462.96,572.01 L463.94,571.80 L465.00,571.70 L466.18,571.77 L467.44,571.97 L468.73,572.18 L470.00,572.30 L471.23,572.26 L472.44,572.14 L473.68,572.03 L475.00,572.00 L476.45,572.13 L478.00,572.34 L479.55,572.56 L481.00,572.70 L482.32,572.70 L483.56,572.63 L484.77,572.54 L486.00,572.50 L487.18,572.51 L488.31,572.56 L489.54,572.62 L491.00,572.70 L492.79,572.81 L494.81,572.95 L496.93,573.09 L499.00,573.20 L501.19,573.28 L503.50,573.33 L505.56,573.37 L507.00,573.40 L507.00,573.80 Z" fill="#EBEBEB" stroke="none" stroke-width="0" />
<polyline points="283.30,573.60 283.93,573.41 284.84,573.14 285.90,572.83 287.00,572.50 288.16,572.10 289.42,571.63 290.72,571.22 292.00,571.00 293.23,571.02 294.46,571.21 295.70,571.49 297.00,571.80 298.43,572.26 299.96,572.86 301.43,573.33 302.70,573.40 303.67,572.91 304.42,572.03 305.15,570.99 306.00,570.00 307.04,569.02 308.18,567.96 309.35,566.99 310.50,566.30 311.62,566.01 312.74,566.00 313.86,566.07 315.00,566.00 316.17,565.67 317.36,565.22 318.55,564.83 319.70,564.70 320.79,564.96 321.83,565.49 322.89,566.07 324.00,566.50 325.25,566.78 326.58,566.99 327.87,567.08 329.00,567.00 329.89,566.68 330.62,566.16 331.30,565.56 332.00,565.00 332.73,564.46 333.44,563.91 334.18,563.39 335.00,563.00 335.93,562.78 336.94,562.68 337.98,562.62 339.00,562.50 339.98,562.32 340.94,562.12 341.93,561.88 343.00,561.60 344.16,561.28 345.39,560.93 346.68,560.51 348.00,560.00 349.43,559.22 350.96,558.24 352.43,557.40 353.70,557.00 354.70,557.17 355.52,557.74 356.25,558.56 357.00,559.50 357.75,560.80 358.46,562.42 359.19,563.89 360.00,564.70 360.94,564.59 361.96,563.86 363.00,562.88 364.00,562.00 364.91,561.21 365.77,560.36 366.65,559.58 367.60,559.00 368.63,558.70 369.71,558.59 370.84,558.57 372.00,558.50 373.25,558.25 374.59,557.91 375.88,557.74 377.00,558.00 377.89,558.97 378.62,560.44 379.30,561.94 380.00,563.00 380.74,563.49 381.47,563.66 382.22,563.62 383.00,563.50 383.79,563.09 384.58,562.42 385.44,561.91 386.40,562.00 387.52,563.11 388.77,564.92 390.05,566.71 391.30,567.80 392.48,567.88 393.64,567.36 394.81,566.61 396.00,566.00 397.25,565.52 398.54,565.01 399.81,564.62 401.00,564.50 402.07,564.77 403.06,565.32 404.02,565.97 405.00,566.50 406.00,566.94 407.00,567.36 408.00,567.67 409.00,567.80 410.03,567.64 411.07,567.26 412.08,566.83 413.00,566.50 413.75,566.26 414.39,566.04 415.03,565.93 415.80,566.00 416.76,566.34 417.83,566.88 418.93,567.48 420.00,568.00 421.01,568.46 422.01,568.92 423.00,569.29 424.00,569.50 425.00,569.47 425.99,569.26 426.99,569.00 428.00,568.80 429.05,568.67 430.11,568.54 431.17,568.47 432.20,568.50 433.16,568.67 434.09,568.95 435.02,569.25 436.00,569.50 437.08,569.65 438.21,569.75 439.34,569.85 440.40,570.00 441.34,570.21 442.19,570.47 443.06,570.74 444.00,571.00 445.09,571.25 446.26,571.51 447.42,571.76 448.50,572.00 449.42,572.22 450.24,572.43 451.06,572.62 452.00,572.80 453.10,573.00 454.30,573.21 455.52,573.36 456.70,573.40 457.81,573.28 458.89,573.04 459.96,572.75 461.00,572.50 462.00,572.26 462.96,572.01 463.94,571.80 465.00,571.70 466.18,571.77 467.44,571.97 468.73,572.18 470.00,572.30 471.23,572.26 472.44,572.14 473.68,572.03 475.00,572.00 476.45,572.13 478.00,572.34 479.55,572.56 481.00,572.70 482.32,572.70 483.56,572.63 484.77,572.54 486.00,572.50 487.18,572.51 488.31,572.56 489.54,572.62 491.00,572.70 492.79,572.81 494.81,572.95 496.93,573.09 499.00,573.20 501.19,573.28 503.50,573.33 505.56,573.37 507.00,573.40" fill="none" stroke="#2F54A8" stroke-width="1.15" stroke-linejoin="round"/>
<line x1="283.30" y1="573.80" x2="535.30" y2="573.80" stroke="#111" stroke-width="1.0" />
<line x1="283.30" y1="573.80" x2="283.30" y2="575.60" stroke="#222" stroke-width="0.5" />
<text x="283.30" y="579.70" font-size="5.4" text-anchor="middle" fill="#222" stroke="#222" stroke-width="0.12" >160</text>
<line x1="319.30" y1="573.80" x2="319.30" y2="575.60" stroke="#222" stroke-width="0.5" />
<text x="319.30" y="579.70" font-size="5.4" text-anchor="middle" fill="#222" stroke="#222" stroke-width="0.12" >180</text>
<line x1="355.30" y1="573.80" x2="355.30" y2="575.60" stroke="#222" stroke-width="0.5" />
<text x="355.30" y="579.70" font-size="5.4" text-anchor="middle" fill="#222" stroke="#222" stroke-width="0.12" >200</text>
<line x1="391.30" y1="573.80" x2="391.30" y2="575.60" stroke="#222" stroke-width="0.5" />
<text x="391.30" y="579.70" font-size="5.4" text-anchor="middle" fill="#222" stroke="#222" stroke-width="0.12" >220</text>
<line x1="427.30" y1="573.80" x2="427.30" y2="575.60" stroke="#222" stroke-width="0.5" />
<text x="427.30" y="579.70" font-size="5.4" text-anchor="middle" fill="#222" stroke="#222" stroke-width="0.12" >240</text>
<line x1="463.30" y1="573.80" x2="463.30" y2="575.60" stroke="#222" stroke-width="0.5" />
<text x="463.30" y="579.70" font-size="5.4" text-anchor="middle" fill="#222" stroke="#222" stroke-width="0.12" >260</text>
<line x1="499.30" y1="573.80" x2="499.30" y2="575.60" stroke="#222" stroke-width="0.5" />
<text x="499.30" y="579.70" font-size="5.4" text-anchor="middle" fill="#222" stroke="#222" stroke-width="0.12" >280</text>
<line x1="535.30" y1="573.80" x2="535.30" y2="575.60" stroke="#222" stroke-width="0.5" />
<text x="535.30" y="579.70" font-size="5.4" text-anchor="middle" fill="#222" stroke="#222" stroke-width="0.12" >300</text>
<line x1="301.30" y1="573.80" x2="301.30" y2="574.80" stroke="#222" stroke-width="0.5" />
<line x1="337.30" y1="573.80" x2="337.30" y2="574.80" stroke="#222" stroke-width="0.5" />
<line x1="373.30" y1="573.80" x2="373.30" y2="574.80" stroke="#222" stroke-width="0.5" />
<line x1="409.30" y1="573.80" x2="409.30" y2="574.80" stroke="#222" stroke-width="0.5" />
<line x1="445.30" y1="573.80" x2="445.30" y2="574.80" stroke="#222" stroke-width="0.5" />
<line x1="481.30" y1="573.80" x2="481.30" y2="574.80" stroke="#222" stroke-width="0.5" />
<line x1="517.30" y1="573.80" x2="517.30" y2="574.80" stroke="#222" stroke-width="0.5" />
<text x="274.80" y="598.30" font-size="5.4" font-style="italic" text-anchor="end" fill="#333" stroke="#333" stroke-width="0.12" >Pr( Survival (</text>
<line x1="275.00" y1="596.60" x2="500.00" y2="596.60" stroke="#111" stroke-width="1.0" />
<line x1="275.80" y1="596.60" x2="275.80" y2="598.40" stroke="#222" stroke-width="0.5" />
<text x="275.80" y="603.40" font-size="5.4" text-anchor="middle" fill="#222" stroke="#222" stroke-width="0.12" >0.06</text>
<line x1="300.60" y1="596.60" x2="300.60" y2="598.40" stroke="#222" stroke-width="0.5" />
<text x="300.60" y="603.40" font-size="5.4" text-anchor="middle" fill="#222" stroke="#222" stroke-width="0.12" >0.1</text>
<line x1="325.30" y1="596.60" x2="325.30" y2="598.40" stroke="#222" stroke-width="0.5" />
<text x="325.30" y="603.40" font-size="5.4" text-anchor="middle" fill="#222" stroke="#222" stroke-width="0.12" >0.16</text>
<line x1="361.50" y1="596.60" x2="361.50" y2="598.40" stroke="#222" stroke-width="0.5" />
<text x="361.50" y="603.40" font-size="5.4" text-anchor="middle" fill="#222" stroke="#222" stroke-width="0.12" >0.3</text>
<line x1="400.40" y1="596.60" x2="400.40" y2="598.40" stroke="#222" stroke-width="0.5" />
<text x="400.40" y="603.40" font-size="5.4" text-anchor="middle" fill="#222" stroke="#222" stroke-width="0.12" >0.5</text>
<line x1="438.70" y1="596.60" x2="438.70" y2="598.40" stroke="#222" stroke-width="0.5" />
<text x="438.70" y="603.40" font-size="5.4" text-anchor="middle" fill="#222" stroke="#222" stroke-width="0.12" >0.7</text>
<line x1="475.40" y1="596.60" x2="475.40" y2="598.40" stroke="#222" stroke-width="0.5" />
<text x="475.40" y="603.40" font-size="5.4" text-anchor="middle" fill="#222" stroke="#222" stroke-width="0.12" >0.84</text>
<line x1="500.00" y1="596.60" x2="500.00" y2="598.40" stroke="#222" stroke-width="0.5" />
<text x="500.00" y="603.40" font-size="5.4" text-anchor="middle" fill="#222" stroke="#222" stroke-width="0.12" >0.9</text>
<rect x="473.00" y="569.80" width="6.40" height="2.80" fill="none" stroke="#F00000" stroke-width="0.6" />
<line x1="476.30" y1="573.00" x2="476.30" y2="592.50" stroke="#F00000" stroke-width="0.9" />
<polygon points="476.30,570.80 474.60,574.20 478.00,574.20" fill="#F00000" />
<polygon points="476.30,596.00 474.60,592.40 478.00,592.40" fill="#F00000" />
<text x="474.50" y="595.00" font-size="4.8" text-anchor="end" fill="#F00000" stroke="#F00000" stroke-width="0.12" >0.843</text>
<text x="12.60" y="639.50" font-size="9.4" font-weight="bold" stroke="#000" stroke-width="0.18" >K</text>
<text x="39.60" y="641.70" font-size="8.34" font-weight="bold" stroke="#000" stroke-width="0.18" >GSE68465 ( n=442 , median age: 65 )</text>
<rect x="62.60" y="648.00" width="5.20" height="4.80" fill="#8E92CF" fill-opacity="0.55"/>
<line x1="62.60" y1="650.40" x2="67.80" y2="650.40" stroke="#2E3A97" stroke-width="1.0" />
<text x="65.20" y="652.00" font-size="4.2" text-anchor="middle" fill="#2E3A97">+</text>
<text x="68.70" y="651.90" font-size="5.5" font-weight="bold" stroke="#000" stroke-width="0.18" >Risk score=high</text>
<rect x="113.00" y="648.00" width="5.20" height="4.80" fill="#F4A08A" fill-opacity="0.55"/>
<line x1="113.40" y1="650.40" x2="115.00" y2="650.40" stroke="#E41A1C" stroke-width="1.0" />
<line x1="116.20" y1="650.40" x2="117.80" y2="650.40" stroke="#E41A1C" stroke-width="1.0" />
<text x="115.60" y="652.00" font-size="4.2" text-anchor="middle" fill="#E41A1C">+</text>
<text x="119.60" y="651.90" font-size="5.5" font-weight="bold" stroke="#000" stroke-width="0.18" >Risk score=low</text>
<rect x="38.20" y="655.50" width="144.60" height="57.70" fill="#FFFFFF" />
<line x1="61.09" y1="655.50" x2="61.09" y2="713.20" stroke="#F2F2F2" stroke-width="0.35" />
<line x1="94.27" y1="655.50" x2="94.27" y2="713.20" stroke="#F2F2F2" stroke-width="0.35" />
<line x1="127.45" y1="655.50" x2="127.45" y2="713.20" stroke="#F2F2F2" stroke-width="0.35" />
<line x1="160.63" y1="655.50" x2="160.63" y2="713.20" stroke="#F2F2F2" stroke-width="0.35" />
<line x1="38.20" y1="704.64" x2="182.80" y2="704.64" stroke="#F2F2F2" stroke-width="0.35" />
<line x1="38.20" y1="691.11" x2="182.80" y2="691.11" stroke="#F2F2F2" stroke-width="0.35" />
<line x1="38.20" y1="677.59" x2="182.80" y2="677.59" stroke="#F2F2F2" stroke-width="0.35" />
<line x1="38.20" y1="664.06" x2="182.80" y2="664.06" stroke="#F2F2F2" stroke-width="0.35" />
<line x1="44.50" y1="655.50" x2="44.50" y2="713.20" stroke="#E6E6E6" stroke-width="0.6" />
<line x1="77.68" y1="655.50" x2="77.68" y2="713.20" stroke="#E6E6E6" stroke-width="0.6" />
<line x1="110.86" y1="655.50" x2="110.86" y2="713.20" stroke="#E6E6E6" stroke-width="0.6" />
<line x1="144.04" y1="655.50" x2="144.04" y2="713.20" stroke="#E6E6E6" stroke-width="0.6" />
<line x1="177.22" y1="655.50" x2="177.22" y2="713.20" stroke="#E6E6E6" stroke-width="0.6" />
<line x1="38.20" y1="711.40" x2="182.80" y2="711.40" stroke="#E6E6E6" stroke-width="0.6" />
<line x1="38.20" y1="697.88" x2="182.80" y2="697.88" stroke="#E6E6E6" stroke-width="0.6" />
<line x1="38.20" y1="684.35" x2="182.80" y2="684.35" stroke="#E6E6E6" stroke-width="0.6" />
<line x1="38.20" y1="670.82" x2="182.80" y2="670.82" stroke="#E6E6E6" stroke-width="0.6" />
<line x1="38.20" y1="657.30" x2="182.80" y2="657.30" stroke="#E6E6E6" stroke-width="0.6" />
<polygon points="45.10,657.80 54.50,661.50 63.30,666.50 72.00,669.50 85.10,673.50 101.10,682.50 112.70,684.00 118.50,684.00 179.00,684.00 179.00,697.00 131.00,697.00 130.00,694.00 118.50,692.70 112.70,692.00 101.10,689.80 85.10,680.50 72.00,675.50 63.30,672.00 54.50,665.80 45.10,657.80" fill="#EE7F5E" fill-opacity="0.5"/>
<polygon points="45.10,657.80 54.50,664.00 67.60,676.00 86.50,682.50 108.40,690.50 118.50,692.70 130.00,695.60 160.20,695.60 160.20,708.00 145.50,708.00 145.00,706.00 130.00,706.00 128.00,702.00 118.50,697.80 108.40,695.60 86.50,686.20 67.60,680.40 54.50,669.00 45.10,657.80" fill="#7C82C6" fill-opacity="0.48"/>
<polyline points="45.10,657.80 45.96,657.80 45.96,658.17 46.91,658.17 46.91,658.58 48.19,658.58 48.19,659.13 49.06,659.13 49.06,659.51 49.97,659.51 49.97,659.90 50.20,659.90 50.20,660.00 50.95,660.00 50.95,660.63 51.56,660.63 51.56,661.14 52.47,661.14 52.47,661.90 53.49,661.90 53.49,662.76 54.50,662.76 54.50,663.60 54.66,663.60 54.66,663.70 55.19,663.70 55.19,664.05 55.91,664.05 55.91,664.53 56.44,664.53 56.44,664.88 57.62,664.88 57.62,665.66 58.70,665.66 58.70,666.37 58.90,666.37 58.90,666.50 59.18,666.50 59.18,666.67 60.52,666.67 60.52,667.49 61.84,667.49 61.84,668.30 62.88,668.30 62.88,668.94 63.30,668.94 63.30,669.20 63.88,669.20 63.88,669.43 64.47,669.43 64.47,669.66 64.93,669.66 64.93,669.85 65.86,669.85 65.86,670.21 66.36,670.21 66.36,670.41 66.99,670.41 66.99,670.66 67.60,670.66 67.60,670.90 68.13,670.90 68.13,671.08 69.00,671.08 69.00,671.38 69.84,671.38 69.84,671.67 71.05,671.67 71.05,672.08 71.97,672.08 71.97,672.39 73.00,672.39 73.00,672.72 73.90,672.72 73.90,673.00 74.94,673.00 74.94,673.34 75.80,673.34 75.80,673.61 76.40,673.61 76.40,673.80 77.85,673.80 77.85,674.31 79.20,674.31 79.20,674.78 80.40,674.78 80.40,675.20 80.70,675.20 80.70,675.30 81.49,675.30 81.49,675.61 82.22,675.61 82.22,675.89 82.88,675.89 82.88,676.14 83.59,676.14 83.59,676.42 84.10,676.42 84.10,676.62 85.10,676.62 85.10,677.00 85.24,677.00 85.24,677.06 86.05,677.06 86.05,677.41 87.27,677.41 87.27,677.94 88.06,677.94 88.06,678.28 89.38,678.28 89.38,678.85 89.50,678.85 89.50,678.90 90.59,678.90 90.59,679.63 91.04,679.63 91.04,679.94 91.68,679.94 91.68,680.37 92.95,680.37 92.95,681.23 93.80,681.23 93.80,681.80 95.15,681.80 95.15,683.15 95.96,683.15 95.96,683.96 96.48,683.96 96.48,684.48 96.70,684.48 96.70,684.70 97.49,684.70 97.49,685.04 98.64,685.04 98.64,685.54 99.34,685.54 99.34,685.84 99.86,685.84 99.86,686.07 100.61,686.07 100.61,686.39 101.10,686.39 101.10,686.60 101.93,686.60 101.93,686.74 103.06,686.74 103.06,686.94 103.62,686.94 103.62,687.03 104.29,687.03 104.29,687.15 104.83,687.15 104.83,687.24 105.34,687.24 105.34,687.33 106.50,687.33 106.50,687.53 106.90,687.53 106.90,687.60 108.07,687.60 108.07,687.76 108.92,687.76 108.92,687.88 109.54,687.88 109.54,687.96 110.65,687.96 110.65,688.12 111.22,688.12 111.22,688.20 112.25,688.20 112.25,688.34 112.70,688.34 112.70,688.40 113.63,688.40 113.63,688.51 114.27,688.51 114.27,688.59 114.97,688.59 114.97,688.67 116.29,688.67 116.29,688.83 117.46,688.83 117.46,688.97 118.19,688.97 118.19,689.06 119.43,689.06 119.43,689.18 120.07,689.18 120.07,689.23 120.88,689.23 120.88,689.30 122.10,689.30 122.10,689.41 123.12,689.41 123.12,689.50 125.00,689.50 125.00,689.66 125.65,689.66 125.65,689.71 126.33,689.71 126.33,689.77 127.47,689.77 127.47,689.87 128.22,689.87 128.22,689.93 128.94,689.93 128.94,689.99 129.45,689.99 129.45,690.36 129.98,690.36 129.98,690.79 130.96,690.79 130.96,691.57 179.00,691.57" fill="none" stroke="#E41A1C" stroke-width="1.25" stroke-dasharray="4,2.6" />
<path d="M106.32,687.60h2.00M107.32,686.60v2.00M120.37,689.30h2.00M121.37,688.30v2.00M168.08,691.57h2.00M169.08,690.57v2.00M108.05,687.88h2.00M109.05,686.88v2.00M113.58,688.59h2.00M114.58,687.59v2.00M123.99,689.50h2.00M124.99,688.50v2.00M71.27,672.39h2.00M72.27,671.39v2.00M114.11,688.67h2.00M115.11,687.67v2.00M129.55,690.79h2.00M130.55,689.79v2.00M150.90,691.57h2.00M151.90,690.57v2.00M59.42,666.67h2.00M60.42,665.67v2.00M86.82,677.94h2.00M87.82,676.94v2.00M58.97,666.67h2.00M59.97,665.67v2.00M153.08,691.57h2.00M154.08,690.57v2.00M137.87,691.57h2.00M138.87,690.57v2.00M52.58,662.76h2.00M53.58,661.76v2.00M175.67,691.57h2.00M176.67,690.57v2.00M173.39,691.57h2.00M174.39,690.57v2.00M132.70,691.57h2.00M133.70,690.57v2.00M127.68,689.93h2.00M128.68,688.93v2.00M67.72,671.08h2.00M68.72,670.08v2.00M49.06,659.90h2.00M50.06,658.90v2.00M116.27,688.83h2.00M117.27,687.83v2.00M54.90,664.05h2.00M55.90,663.05v2.00M72.00,672.72h2.00M73.00,671.72v2.00M78.77,674.78h2.00M79.77,673.78v2.00M51.04,661.14h2.00M52.04,660.14v2.00M107.83,687.76h2.00M108.83,686.76v2.00M104.77,687.33h2.00M105.77,686.33v2.00M157.37,691.57h2.00M158.37,690.57v2.00M115.05,688.67h2.00M116.05,687.67v2.00M130.91,691.57h2.00M131.91,690.57v2.00M112.52,688.40h2.00M113.52,687.40v2.00M133.81,691.57h2.00M134.81,690.57v2.00M106.96,687.60h2.00M107.96,686.60v2.00M83.51,676.62h2.00M84.51,675.62v2.00M177.69,691.57h2.00M178.69,690.57v2.00M177.44,691.57h2.00M178.44,690.57v2.00" stroke="#E41A1C" stroke-width="0.5" fill="none"/>
<polyline points="45.10,657.80 45.98,657.80 45.98,658.44 47.02,658.44 47.02,659.19 48.07,659.19 48.07,659.95 48.65,659.95 48.65,660.37 49.11,660.37 49.11,660.71 49.89,660.71 49.89,661.28 50.20,661.28 50.20,661.50 50.59,661.50 50.59,661.95 51.77,661.95 51.77,663.33 52.84,663.33 52.84,664.57 53.83,664.57 53.83,665.72 54.50,665.72 54.50,666.50 54.79,666.50 54.79,666.88 55.83,666.88 55.83,668.28 56.41,668.28 56.41,669.06 57.26,669.06 57.26,670.20 57.85,670.20 57.85,671.00 58.90,671.00 58.90,672.40 59.12,672.40 59.12,672.54 59.62,672.54 59.62,672.88 60.81,672.88 60.81,673.66 61.33,673.66 61.33,674.00 62.39,674.00 62.39,674.70 63.15,674.70 63.15,675.20 63.30,675.20 63.30,675.30 63.96,675.30 63.96,675.75 65.17,675.75 65.17,676.56 65.64,676.56 65.64,676.88 66.14,676.88 66.14,677.22 67.41,677.22 67.41,678.07 67.60,678.07 67.60,678.20 68.32,678.20 68.32,678.56 68.85,678.56 68.85,678.83 70.19,678.83 70.19,679.50 71.49,679.50 71.49,680.15 72.00,680.15 72.00,680.40 72.88,680.40 72.88,680.98 73.45,680.98 73.45,681.35 74.18,681.35 74.18,681.84 75.19,681.84 75.19,682.50 75.79,682.50 75.79,682.90 76.40,682.90 76.40,683.30 76.86,683.30 76.86,683.41 77.36,683.41 77.36,683.52 77.96,683.52 77.96,683.66 79.15,683.66 79.15,683.94 79.96,683.94 79.96,684.13 80.70,684.13 80.70,684.30 81.77,684.30 81.77,684.37 82.65,684.37 82.65,684.43 83.45,684.43 83.45,684.49 85.03,684.49 85.03,684.60 86.35,684.60 86.35,684.69 87.68,684.69 87.68,685.14 88.72,685.14 88.72,685.53 89.50,685.53 89.50,685.82 90.27,685.82 90.27,686.11 91.34,686.11 91.34,686.51 92.40,686.51 92.40,686.90 92.95,686.90 92.95,687.18 93.61,687.18 93.61,687.52 94.39,687.52 94.39,687.92 95.30,687.92 95.30,688.38 96.48,688.38 96.48,688.99 96.70,688.99 96.70,689.10 97.38,689.10 97.38,689.22 97.86,689.22 97.86,689.30 99.05,689.30 99.05,689.50 99.88,689.50 99.88,689.65 100.80,689.65 100.80,689.81 101.45,689.81 101.45,689.92 102.28,689.92 102.28,690.06 103.08,690.06 103.08,690.36 104.23,690.36 104.23,690.86 104.77,690.86 104.77,691.10 105.72,691.10 105.72,691.52 106.33,691.52 106.33,691.79 107.40,691.79 107.40,692.26 107.89,692.26 107.89,692.47 108.40,692.47 108.40,692.70 109.34,692.70 109.34,692.90 110.37,692.90 110.37,693.11 110.86,693.11 110.86,693.21 111.73,693.21 111.73,693.39 112.37,693.39 112.37,693.53 113.07,693.53 113.07,693.67 113.95,693.67 113.95,693.86 115.26,693.86 115.26,694.13 115.60,694.13 115.60,694.20 116.14,694.20 116.14,694.29 117.45,694.29 117.45,694.49 118.05,694.49 118.05,694.59 119.34,694.59 119.34,694.79 120.00,694.79 120.00,694.90 120.11,694.90 120.11,695.16 120.73,695.16 120.73,696.55 121.60,696.55 121.60,698.50 121.86,698.50 121.86,698.63 123.13,698.63 123.13,699.26 123.59,699.26 123.59,699.49 124.28,699.49 124.28,699.84 125.42,699.84 125.42,700.41 126.00,700.41 126.00,700.70 126.18,700.70 126.18,700.83 126.85,700.83 126.85,701.34 127.30,701.34 127.30,701.69 127.79,701.69 127.79,702.06 128.80,702.06 128.80,702.82 128.90,702.82 128.90,702.90 130.13,702.90 130.13,703.15 130.40,703.15 130.40,703.20 143.70,703.20 143.70,703.26 144.29,703.26 144.29,703.44 145.00,703.44 145.00,703.65 146.24,703.65 146.24,704.02 146.94,704.02 146.94,704.23 148.24,704.23 148.24,704.62 148.50,704.62 148.50,704.70 160.20,704.70" fill="none" stroke="#2E3A97" stroke-width="1.25" />
<path d="M100.30,689.81h2.00M101.30,688.81v2.00M120.80,698.50h2.00M121.80,697.50v2.00M121.80,698.63h2.00M122.80,697.63v2.00M63.09,675.75h2.00M64.09,674.75v2.00M48.32,660.71h2.00M49.32,659.71v2.00M89.11,685.82h2.00M90.11,684.82v2.00M77.82,683.66h2.00M78.82,682.66v2.00M137.94,703.20h2.00M138.94,702.20v2.00M124.52,700.41h2.00M125.52,699.41v2.00M114.52,694.13h2.00M115.52,693.13v2.00M109.67,693.11h2.00M110.67,692.11v2.00M121.23,698.63h2.00M122.23,697.63v2.00M63.39,675.75h2.00M64.39,674.75v2.00M96.43,689.22h2.00M97.43,688.22v2.00M65.29,677.22h2.00M66.29,676.22v2.00M148.66,704.70h2.00M149.66,703.70v2.00M53.69,666.50h2.00M54.69,665.50v2.00M138.89,703.20h2.00M139.89,702.20v2.00M55.46,669.06h2.00M56.46,668.06v2.00M124.11,699.84h2.00M125.11,698.84v2.00M84.88,684.60h2.00M85.88,683.60v2.00M92.46,687.18h2.00M93.46,686.18v2.00M141.53,703.20h2.00M142.53,702.20v2.00M49.19,661.28h2.00M50.19,660.28v2.00M53.91,666.88h2.00M54.91,665.88v2.00M149.68,704.70h2.00M150.68,703.70v2.00M104.15,691.10h2.00M105.15,690.10v2.00M57.30,671.00h2.00M58.30,670.00v2.00M157.76,704.70h2.00M158.76,703.70v2.00M153.23,704.70h2.00M154.23,703.70v2.00M59.71,672.88h2.00M60.71,671.88v2.00M94.54,688.38h2.00M95.54,687.38v2.00" stroke="#2E3A97" stroke-width="0.5" fill="none"/>
<line x1="45.10" y1="684.30" x2="96.50" y2="684.30" stroke="#333" stroke-width="0.85" stroke-dasharray="3.6,2.6" />
<line x1="79.00" y1="684.30" x2="79.00" y2="711.40" stroke="#333" stroke-width="0.85" stroke-dasharray="3.6,2.6" />
<line x1="96.50" y1="684.30" x2="96.50" y2="711.40" stroke="#333" stroke-width="0.85" stroke-dasharray="3.6,2.6" />
<rect x="38.20" y="655.50" width="144.60" height="57.70" fill="none" stroke="#4D4D4D" stroke-width="0.6" />
<line x1="36.90" y1="657.30" x2="38.20" y2="657.30" stroke="#333" stroke-width="0.5" />
<text x="35.80" y="658.60" font-size="3.9" text-anchor="end" fill="#444" stroke="#444" stroke-width="0.12" >1.00</text>
<line x1="36.90" y1="670.82" x2="38.20" y2="670.82" stroke="#333" stroke-width="0.5" />
<text x="35.80" y="672.12" font-size="3.9" text-anchor="end" fill="#444" stroke="#444" stroke-width="0.12" >0.75</text>
<line x1="36.90" y1="684.35" x2="38.20" y2="684.35" stroke="#333" stroke-width="0.5" />
<text x="35.80" y="685.65" font-size="3.9" text-anchor="end" fill="#444" stroke="#444" stroke-width="0.12" >0.50</text>
<line x1="36.90" y1="697.88" x2="38.20" y2="697.88" stroke="#333" stroke-width="0.5" />
<text x="35.80" y="699.17" font-size="3.9" text-anchor="end" fill="#444" stroke="#444" stroke-width="0.12" >0.25</text>
<line x1="36.90" y1="711.40" x2="38.20" y2="711.40" stroke="#333" stroke-width="0.5" />
<text x="35.80" y="712.70" font-size="3.9" text-anchor="end" fill="#444" stroke="#444" stroke-width="0.12" >0.00</text>
<line x1="44.50" y1="713.20" x2="44.50" y2="714.50" stroke="#333" stroke-width="0.5" />
<text x="44.50" y="718.20" font-size="3.9" text-anchor="middle" fill="#444" stroke="#444" stroke-width="0.12" >0</text>
<line x1="77.68" y1="713.20" x2="77.68" y2="714.50" stroke="#333" stroke-width="0.5" />
<text x="77.68" y="718.20" font-size="3.9" text-anchor="middle" fill="#444" stroke="#444" stroke-width="0.12" >50</text>
<line x1="110.86" y1="713.20" x2="110.86" y2="714.50" stroke="#333" stroke-width="0.5" />
<text x="110.86" y="718.20" font-size="3.9" text-anchor="middle" fill="#444" stroke="#444" stroke-width="0.12" >100</text>
<line x1="144.04" y1="713.20" x2="144.04" y2="714.50" stroke="#333" stroke-width="0.5" />
<text x="144.04" y="718.20" font-size="3.9" text-anchor="middle" fill="#444" stroke="#444" stroke-width="0.12" >150</text>
<line x1="177.22" y1="713.20" x2="177.22" y2="714.50" stroke="#333" stroke-width="0.5" />
<text x="177.22" y="718.20" font-size="3.9" text-anchor="middle" fill="#444" stroke="#444" stroke-width="0.12" >200</text>
<line x1="179.00" y1="697.00" x2="179.00" y2="702.20" stroke="#E41A1C" stroke-width="0.7" />
<line x1="179.00" y1="706.50" x2="179.00" y2="711.00" stroke="#E41A1C" stroke-width="0.7" />
<text x="42.20" y="701.60" font-size="5.99" font-weight="bold" stroke="#000" stroke-width="0.18" >p = 0.0016</text>
<text x="22.40" y="685.90" font-size="4.96" font-weight="bold" text-anchor="middle" stroke="#000" stroke-width="0.18" transform="rotate(-90 22.40 685.90)" >Survival probability</text>
<text x="116.30" y="724.00" font-size="5.04" font-weight="bold" text-anchor="middle" stroke="#000" stroke-width="0.18" >Time (months)</text>
<text x="38.20" y="730.00" font-size="4.52" stroke="#000" stroke-width="0.12" >Number at risk</text>
<rect x="38.20" y="732.80" width="144.80" height="10.60" fill="#fff" />
<line x1="44.50" y1="732.80" x2="44.50" y2="743.40" stroke="#E6E6E6" stroke-width="0.6" />
<line x1="77.68" y1="732.80" x2="77.68" y2="743.40" stroke="#E6E6E6" stroke-width="0.6" />
<line x1="110.86" y1="732.80" x2="110.86" y2="743.40" stroke="#E6E6E6" stroke-width="0.6" />
<line x1="144.04" y1="732.80" x2="144.04" y2="743.40" stroke="#E6E6E6" stroke-width="0.6" />
<line x1="177.22" y1="732.80" x2="177.22" y2="743.40" stroke="#E6E6E6" stroke-width="0.6" />
<rect x="38.20" y="732.80" width="144.80" height="10.60" fill="none" stroke="#4D4D4D" stroke-width="0.6" />
<text x="35.60" y="736.60" font-size="6.0" text-anchor="end" fill="#2E3A97" stroke="#2E3A97" stroke-width="0.12" >high_risk</text>
<text x="44.50" y="736.80" font-size="4.0" text-anchor="middle" fill="#2E3A97" stroke="#2E3A97" stroke-width="0.12" >221</text>
<text x="77.68" y="736.80" font-size="4.0" text-anchor="middle" fill="#2E3A97" stroke="#2E3A97" stroke-width="0.12" >102</text>
<text x="110.86" y="736.80" font-size="4.0" text-anchor="middle" fill="#2E3A97" stroke="#2E3A97" stroke-width="0.12" >17</text>
<text x="144.04" y="736.80" font-size="4.0" text-anchor="middle" fill="#2E3A97" stroke="#2E3A97" stroke-width="0.12" >4</text>
<text x="177.22" y="736.80" font-size="4.0" text-anchor="middle" fill="#2E3A97" stroke="#2E3A97" stroke-width="0.12" >0</text>
<text x="35.60" y="741.90" font-size="6.0" text-anchor="end" fill="#E41A1C" stroke="#E41A1C" stroke-width="0.12" >low_risk</text>
<text x="44.50" y="742.10" font-size="4.0" text-anchor="middle" fill="#E41A1C" stroke="#E41A1C" stroke-width="0.12" >221</text>
<text x="77.68" y="742.10" font-size="4.0" text-anchor="middle" fill="#E41A1C" stroke="#E41A1C" stroke-width="0.12" >108</text>
<text x="110.86" y="742.10" font-size="4.0" text-anchor="middle" fill="#E41A1C" stroke="#E41A1C" stroke-width="0.12" >27</text>
<text x="144.04" y="742.10" font-size="4.0" text-anchor="middle" fill="#E41A1C" stroke="#E41A1C" stroke-width="0.12" >7</text>
<text x="177.22" y="742.10" font-size="4.0" text-anchor="middle" fill="#E41A1C" stroke="#E41A1C" stroke-width="0.12" >1</text>
<text x="44.50" y="747.60" font-size="3.6" text-anchor="middle" fill="#444" stroke="#444" stroke-width="0.12" >0</text>
<text x="77.68" y="747.60" font-size="3.6" text-anchor="middle" fill="#444" stroke="#444" stroke-width="0.12" >50</text>
<text x="110.86" y="747.60" font-size="3.6" text-anchor="middle" fill="#444" stroke="#444" stroke-width="0.12" >100</text>
<text x="144.04" y="747.60" font-size="3.6" text-anchor="middle" fill="#444" stroke="#444" stroke-width="0.12" >150</text>
<text x="177.22" y="747.60" font-size="3.6" text-anchor="middle" fill="#444" stroke="#444" stroke-width="0.12" >200</text>
<text x="219.00" y="644.20" font-size="8.35" font-weight="bold" stroke="#000" stroke-width="0.18" >GSE72094 ( n=398 , median age: 70 )</text>
<rect x="242.60" y="648.60" width="5.20" height="4.80" fill="#8E92CF" fill-opacity="0.55"/>
<line x1="242.60" y1="651.00" x2="247.80" y2="651.00" stroke="#2E3A97" stroke-width="1.0" />
<text x="245.20" y="652.60" font-size="4.2" text-anchor="middle" fill="#2E3A97">+</text>
<text x="249.20" y="652.50" font-size="5.5" font-weight="bold" stroke="#000" stroke-width="0.18" >Risk score=high</text>
<rect x="293.60" y="648.60" width="5.20" height="4.80" fill="#F4A08A" fill-opacity="0.55"/>
<line x1="294.00" y1="651.00" x2="295.60" y2="651.00" stroke="#E41A1C" stroke-width="1.0" />
<line x1="296.80" y1="651.00" x2="298.40" y2="651.00" stroke="#E41A1C" stroke-width="1.0" />
<text x="296.20" y="652.60" font-size="4.2" text-anchor="middle" fill="#E41A1C">+</text>
<text x="299.90" y="652.50" font-size="5.5" font-weight="bold" stroke="#000" stroke-width="0.18" >Risk score=low</text>
<rect x="218.60" y="656.00" width="144.20" height="59.00" fill="#FFFFFF" />
<line x1="242.25" y1="656.00" x2="242.25" y2="715.00" stroke="#F2F2F2" stroke-width="0.35" />
<line x1="275.55" y1="656.00" x2="275.55" y2="715.00" stroke="#F2F2F2" stroke-width="0.35" />
<line x1="308.85" y1="656.00" x2="308.85" y2="715.00" stroke="#F2F2F2" stroke-width="0.35" />
<line x1="342.15" y1="656.00" x2="342.15" y2="715.00" stroke="#F2F2F2" stroke-width="0.35" />
<line x1="218.60" y1="706.51" x2="362.80" y2="706.51" stroke="#F2F2F2" stroke-width="0.35" />
<line x1="218.60" y1="692.94" x2="362.80" y2="692.94" stroke="#F2F2F2" stroke-width="0.35" />
<line x1="218.60" y1="679.36" x2="362.80" y2="679.36" stroke="#F2F2F2" stroke-width="0.35" />
<line x1="218.60" y1="665.79" x2="362.80" y2="665.79" stroke="#F2F2F2" stroke-width="0.35" />
<line x1="225.60" y1="656.00" x2="225.60" y2="715.00" stroke="#E6E6E6" stroke-width="0.6" />
<line x1="258.90" y1="656.00" x2="258.90" y2="715.00" stroke="#E6E6E6" stroke-width="0.6" />
<line x1="292.20" y1="656.00" x2="292.20" y2="715.00" stroke="#E6E6E6" stroke-width="0.6" />
<line x1="325.50" y1="656.00" x2="325.50" y2="715.00" stroke="#E6E6E6" stroke-width="0.6" />
<line x1="358.80" y1="656.00" x2="358.80" y2="715.00" stroke="#E6E6E6" stroke-width="0.6" />
<line x1="218.60" y1="713.30" x2="362.80" y2="713.30" stroke="#E6E6E6" stroke-width="0.6" />
<line x1="218.60" y1="699.72" x2="362.80" y2="699.72" stroke="#E6E6E6" stroke-width="0.6" />
<line x1="218.60" y1="686.15" x2="362.80" y2="686.15" stroke="#E6E6E6" stroke-width="0.6" />
<line x1="218.60" y1="672.57" x2="362.80" y2="672.57" stroke="#E6E6E6" stroke-width="0.6" />
<line x1="218.60" y1="659.00" x2="362.80" y2="659.00" stroke="#E6E6E6" stroke-width="0.6" />
<polygon points="225.30,658.50 261.60,662.80 290.00,670.20 300.00,673.80 330.00,675.30 362.50,675.30 362.50,690.50 330.00,690.50 300.00,685.50 290.00,674.50 261.60,667.40 225.30,658.50" fill="#EE7F5E" fill-opacity="0.5"/>
<polygon points="225.30,658.50 261.60,667.70 290.70,673.50 296.00,678.50 305.00,681.80 332.40,681.80 332.50,675.30 346.70,675.30 346.70,698.30 332.50,698.30 332.40,687.60 305.00,687.60 296.00,685.00 290.70,680.00 261.60,672.70 225.30,658.50" fill="#7C82C6" fill-opacity="0.48"/>
<polyline points="225.30,658.50 225.90,658.50 225.90,658.66 226.97,658.66 226.97,658.94 227.99,658.94 227.99,659.21 228.87,659.21 228.87,659.44 229.52,659.44 229.52,659.61 230.68,659.61 230.68,659.92 231.86,659.92 231.86,660.23 232.50,660.23 232.50,660.40 233.67,660.40 233.67,660.58 234.34,660.58 234.34,660.68 234.79,660.68 234.79,660.74 235.57,660.74 235.57,660.86 236.55,660.86 236.55,661.01 237.06,661.01 237.06,661.09 238.23,661.09 238.23,661.26 238.88,661.26 238.88,661.36 239.54,661.36 239.54,661.46 240.03,661.46 240.03,661.53 241.38,661.53 241.38,661.72 242.49,661.72 242.49,661.87 243.73,661.87 243.73,662.04 244.74,662.04 244.74,662.18 245.22,662.18 245.22,662.24 245.96,662.24 245.96,662.34 246.86,662.34 246.86,662.47 247.42,662.47 247.42,662.55 248.72,662.55 248.72,662.74 249.50,662.74 249.50,662.86 250.09,662.86 250.09,662.95 251.28,662.95 251.28,663.13 251.84,663.13 251.84,663.21 253.13,663.21 253.13,663.41 253.98,663.41 253.98,663.54 254.40,663.54 254.40,663.60 254.93,663.60 254.93,663.71 255.69,663.71 255.69,663.87 256.58,663.87 256.58,664.05 257.19,664.05 257.19,664.18 257.68,664.18 257.68,664.28 258.91,664.28 258.91,664.54 259.57,664.54 259.57,664.68 260.72,664.68 260.72,664.92 261.36,664.92 261.36,665.05 261.60,665.05 261.60,665.10 262.68,665.10 262.68,665.31 263.93,665.31 263.93,665.55 265.06,665.55 265.06,665.76 266.20,665.76 266.20,665.98 267.17,665.98 267.17,666.17 268.28,666.17 268.28,666.38 268.84,666.38 268.84,666.49 269.72,666.49 269.72,666.59 270.91,666.59 270.91,666.72 271.54,666.72 271.54,666.79 272.82,666.79 272.82,666.93 274.07,666.93 274.07,667.07 274.89,667.07 274.89,667.16 275.67,667.16 275.67,667.24 276.20,667.24 276.20,667.30 276.53,667.30 276.53,667.40 277.32,667.40 277.32,667.64 278.67,667.64 278.67,668.04 279.47,668.04 279.47,668.28 279.94,668.28 279.94,668.43 280.48,668.43 280.48,668.59 281.57,668.59 281.57,668.92 282.92,668.92 282.92,669.32 283.50,669.32 283.50,669.50 283.81,669.50 283.81,669.63 284.70,669.63 284.70,669.99 285.65,669.99 285.65,670.37 286.77,670.37 286.77,670.82 287.42,670.82 287.42,671.08 288.42,671.08 288.42,671.48 289.37,671.48 289.37,671.86 290.38,671.86 290.38,672.27 290.70,672.27 290.70,672.40 290.99,672.40 290.99,672.51 291.60,672.51 291.60,672.74 292.36,672.74 292.36,673.03 293.65,673.03 293.65,673.51 294.40,673.51 294.40,673.80 295.39,673.80 295.39,674.31 296.12,674.31 296.12,674.68 296.66,674.68 296.66,674.96 297.17,674.96 297.17,675.22 298.36,675.22 298.36,675.82 298.70,675.82 298.70,676.00 299.50,676.00 299.50,676.21 300.29,676.21 300.29,676.41 301.36,676.41 301.36,676.69 302.42,676.69 302.42,676.96 303.67,676.96 303.67,677.29 304.50,677.29 304.50,677.50 304.99,677.50 304.99,677.59 305.80,677.59 305.80,677.75 307.14,677.75 307.14,678.01 308.46,678.01 308.46,678.26 309.44,678.26 309.44,678.45 310.68,678.45 310.68,678.69 311.58,678.69 311.58,678.86 312.36,678.86 312.36,679.02 313.04,679.02 313.04,679.15 314.28,679.15 314.28,679.41 314.87,679.41 314.87,679.53 315.38,679.53 315.38,679.64 316.56,679.64 316.56,679.88 317.71,679.88 317.71,680.11 318.59,680.11 318.59,680.30 319.10,680.30 319.10,680.40 319.79,680.40 319.79,680.57 320.29,680.57 320.29,680.69 320.97,680.69 320.97,680.85 321.68,680.85 321.68,681.02 322.51,681.02 322.51,681.22 323.11,681.22 323.11,681.37 323.63,681.37 323.63,681.49 324.38,681.49 324.38,681.67 325.64,681.67 325.64,681.98 326.98,681.98 326.98,682.30 327.80,682.30 327.80,682.50 328.98,682.50 328.98,682.60 329.66,682.60 329.66,682.66 330.97,682.66 330.97,682.77 331.89,682.77 331.89,682.85 333.00,682.85 333.00,682.95 333.60,682.95 333.60,683.00 362.50,683.00" fill="none" stroke="#E41A1C" stroke-width="1.25" stroke-dasharray="4,2.6" />
<path d="M249.44,662.95h2.00M250.44,661.95v2.00M319.87,680.69h2.00M320.87,679.69v2.00M312.52,679.15h2.00M313.52,678.15v2.00M291.60,673.03h2.00M292.60,672.03v2.00M256.29,664.18h2.00M257.29,663.18v2.00M333.67,683.00h2.00M334.67,682.00v2.00M335.71,683.00h2.00M336.71,682.00v2.00M296.07,674.96h2.00M297.07,673.96v2.00M295.08,674.31h2.00M296.08,673.31v2.00M258.98,664.68h2.00M259.98,663.68v2.00M227.73,659.21h2.00M228.73,658.21v2.00M277.09,667.64h2.00M278.09,666.64v2.00M305.86,677.75h2.00M306.86,676.75v2.00M236.60,661.09h2.00M237.60,660.09v2.00M333.82,683.00h2.00M334.82,682.00v2.00M258.47,664.54h2.00M259.47,663.54v2.00M258.53,664.54h2.00M259.53,663.54v2.00M232.98,660.58h2.00M233.98,659.58v2.00M361.17,683.00h2.00M362.17,682.00v2.00M326.43,682.30h2.00M327.43,681.30v2.00M344.73,683.00h2.00M345.73,682.00v2.00M309.95,678.69h2.00M310.95,677.69v2.00M231.87,660.40h2.00M232.87,659.40v2.00M271.44,666.79h2.00M272.44,665.79v2.00M294.07,673.80h2.00M295.07,672.80v2.00M242.84,662.04h2.00M243.84,661.04v2.00M355.05,683.00h2.00M356.05,682.00v2.00M276.75,667.64h2.00M277.75,666.64v2.00M248.08,662.74h2.00M249.08,661.74v2.00M337.01,683.00h2.00M338.01,682.00v2.00M244.06,662.18h2.00M245.06,661.18v2.00M351.83,683.00h2.00M352.83,682.00v2.00M288.11,671.48h2.00M289.11,670.48v2.00M301.38,676.69h2.00M302.38,675.69v2.00M273.32,667.07h2.00M274.32,666.07v2.00M292.35,673.03h2.00M293.35,672.03v2.00M252.38,663.41h2.00M253.38,662.41v2.00M232.28,660.40h2.00M233.28,659.40v2.00M343.50,683.00h2.00M344.50,682.00v2.00" stroke="#E41A1C" stroke-width="0.5" fill="none"/>
<polyline points="225.30,658.50 226.61,658.50 226.61,658.96 227.19,658.96 227.19,659.16 227.66,659.16 227.66,659.32 229.01,659.32 229.01,659.79 229.62,659.79 229.62,660.00 230.18,660.00 230.18,660.20 231.22,660.20 231.22,660.56 231.98,660.56 231.98,660.82 232.50,660.82 232.50,661.00 233.23,661.00 233.23,661.19 233.89,661.19 233.89,661.36 235.20,661.36 235.20,661.70 235.94,661.70 235.94,661.90 236.93,661.90 236.93,662.15 238.22,662.15 238.22,662.49 239.29,662.49 239.29,662.77 239.80,662.77 239.80,662.90 240.57,662.90 240.57,663.21 241.66,663.21 241.66,663.64 242.15,663.64 242.15,663.83 243.39,663.83 243.39,664.33 244.37,664.33 244.37,664.72 245.10,664.72 245.10,665.01 245.72,665.01 245.72,665.25 246.94,665.25 246.94,665.74 247.10,665.74 247.10,665.80 247.91,665.80 247.91,666.05 249.21,666.05 249.21,666.44 250.35,666.44 250.35,666.78 251.67,666.78 251.67,667.18 252.63,667.18 252.63,667.47 253.71,667.47 253.71,667.79 254.40,667.79 254.40,668.00 254.71,668.00 254.71,668.09 255.39,668.09 255.39,668.30 256.70,668.30 256.70,668.70 257.43,668.70 257.43,668.93 258.59,668.93 258.59,669.28 259.90,669.28 259.90,669.68 260.93,669.68 260.93,670.00 261.51,670.00 261.51,670.17 262.70,670.17 262.70,670.41 263.75,670.41 263.75,670.61 264.37,670.61 264.37,670.73 264.86,670.73 264.86,670.83 265.79,670.83 265.79,671.00 266.27,671.00 266.27,671.10 267.55,671.10 267.55,671.34 268.46,671.34 268.46,671.52 268.90,671.52 268.90,671.60 269.38,671.60 269.38,671.70 270.19,671.70 270.19,671.87 271.24,671.87 271.24,672.08 272.51,672.08 272.51,672.34 273.24,672.34 273.24,672.49 274.03,672.49 274.03,672.65 275.00,672.65 275.00,672.85 275.72,672.85 275.72,673.00 276.20,673.00 276.20,673.10 276.70,673.10 276.70,673.20 277.64,673.20 277.64,673.38 278.48,673.38 278.48,673.54 279.54,673.54 279.54,673.74 280.46,673.74 280.46,673.92 280.99,673.92 280.99,674.02 282.34,674.02 282.34,674.28 283.11,674.28 283.11,674.43 283.50,674.43 283.50,674.50 283.95,674.50 283.95,674.64 284.76,674.64 284.76,674.89 286.05,674.89 286.05,675.28 287.36,675.28 287.36,675.68 288.27,675.68 288.27,675.96 289.08,675.96 289.08,676.20 289.61,676.20 289.61,676.37 290.70,676.37 290.70,676.70 290.87,676.70 290.87,676.92 291.47,676.92 291.47,677.72 292.42,677.72 292.42,678.96 292.90,678.96 292.90,679.60 293.18,679.60 293.18,679.81 293.93,679.81 293.93,680.38 294.70,680.38 294.70,680.96 295.32,680.96 295.32,681.44 295.80,681.44 295.80,681.80 299.56,681.80 299.56,681.90 300.64,681.90 300.64,682.03 301.14,682.03 301.14,682.09 301.96,682.09 301.96,682.19 303.15,682.19 303.15,682.34 304.43,682.34 304.43,682.49 305.29,682.49 305.29,682.71 306.51,682.71 306.51,683.03 307.40,683.03 307.40,683.27 332.50,683.27 332.50,689.10 346.70,689.10" fill="none" stroke="#2E3A97" stroke-width="1.25" />
<path d="M340.75,689.10h2.00M341.75,688.10v2.00M243.92,664.72h2.00M244.92,663.72v2.00M230.10,660.20h2.00M231.10,659.20v2.00M345.54,689.10h2.00M346.54,688.10v2.00M249.12,666.44h2.00M250.12,665.44v2.00M241.58,663.83h2.00M242.58,662.83v2.00M304.43,682.71h2.00M305.43,681.71v2.00M268.22,671.60h2.00M269.22,670.60v2.00M332.62,689.10h2.00M333.62,688.10v2.00M254.74,668.30h2.00M255.74,667.30v2.00M340.90,689.10h2.00M341.90,688.10v2.00M265.12,671.00h2.00M266.12,670.00v2.00M298.48,681.80h2.00M299.48,680.80v2.00M337.66,689.10h2.00M338.66,688.10v2.00M308.43,683.27h2.00M309.43,682.27v2.00M336.68,689.10h2.00M337.68,688.10v2.00M311.14,683.27h2.00M312.14,682.27v2.00M233.04,661.36h2.00M234.04,660.36v2.00M331.65,689.10h2.00M332.65,688.10v2.00M297.10,681.80h2.00M298.10,680.80v2.00M264.08,670.83h2.00M265.08,669.83v2.00M249.81,666.78h2.00M250.81,665.78v2.00M327.92,683.27h2.00M328.92,682.27v2.00M296.31,681.80h2.00M297.31,680.80v2.00M338.36,689.10h2.00M339.36,688.10v2.00M318.94,683.27h2.00M319.94,682.27v2.00M341.11,689.10h2.00M342.11,688.10v2.00M294.35,681.44h2.00M295.35,680.44v2.00M309.99,683.27h2.00M310.99,682.27v2.00M299.80,682.03h2.00M300.80,681.03v2.00M257.90,669.28h2.00M258.90,668.28v2.00M340.58,689.10h2.00M341.58,688.10v2.00M264.30,670.83h2.00M265.30,669.83v2.00M319.78,683.27h2.00M320.78,682.27v2.00" stroke="#2E3A97" stroke-width="0.5" fill="none"/>
<line x1="225.30" y1="685.70" x2="362.50" y2="685.70" stroke="#999999" stroke-width="0.85" stroke-dasharray="3.6,2.6" />
<line x1="332.50" y1="689.10" x2="332.50" y2="712.60" stroke="#333" stroke-width="0.85" stroke-dasharray="3.6,2.6" />
<rect x="218.60" y="656.00" width="144.20" height="59.00" fill="none" stroke="#4D4D4D" stroke-width="0.6" />
<line x1="217.30" y1="659.00" x2="218.60" y2="659.00" stroke="#333" stroke-width="0.5" />
<text x="216.20" y="660.30" font-size="3.9" text-anchor="end" fill="#444" stroke="#444" stroke-width="0.12" >1.00</text>
<line x1="217.30" y1="672.57" x2="218.60" y2="672.57" stroke="#333" stroke-width="0.5" />
<text x="216.20" y="673.87" font-size="3.9" text-anchor="end" fill="#444" stroke="#444" stroke-width="0.12" >0.75</text>
<line x1="217.30" y1="686.15" x2="218.60" y2="686.15" stroke="#333" stroke-width="0.5" />
<text x="216.20" y="687.45" font-size="3.9" text-anchor="end" fill="#444" stroke="#444" stroke-width="0.12" >0.50</text>
<line x1="217.30" y1="699.72" x2="218.60" y2="699.72" stroke="#333" stroke-width="0.5" />
<text x="216.20" y="701.02" font-size="3.9" text-anchor="end" fill="#444" stroke="#444" stroke-width="0.12" >0.25</text>
<line x1="217.30" y1="713.30" x2="218.60" y2="713.30" stroke="#333" stroke-width="0.5" />
<text x="216.20" y="714.60" font-size="3.9" text-anchor="end" fill="#444" stroke="#444" stroke-width="0.12" >0.00</text>
<line x1="225.60" y1="715.00" x2="225.60" y2="716.30" stroke="#333" stroke-width="0.5" />
<text x="225.60" y="719.80" font-size="3.9" text-anchor="middle" fill="#444" stroke="#444" stroke-width="0.12" >0</text>
<line x1="258.90" y1="715.00" x2="258.90" y2="716.30" stroke="#333" stroke-width="0.5" />
<text x="258.90" y="719.80" font-size="3.9" text-anchor="middle" fill="#444" stroke="#444" stroke-width="0.12" >500</text>
<line x1="292.20" y1="715.00" x2="292.20" y2="716.30" stroke="#333" stroke-width="0.5" />
<text x="292.20" y="719.80" font-size="3.9" text-anchor="middle" fill="#444" stroke="#444" stroke-width="0.12" >1000</text>
<line x1="325.50" y1="715.00" x2="325.50" y2="716.30" stroke="#333" stroke-width="0.5" />
<text x="325.50" y="719.80" font-size="3.9" text-anchor="middle" fill="#444" stroke="#444" stroke-width="0.12" >1500</text>
<line x1="358.80" y1="715.00" x2="358.80" y2="716.30" stroke="#333" stroke-width="0.5" />
<text x="358.80" y="719.80" font-size="3.9" text-anchor="middle" fill="#444" stroke="#444" stroke-width="0.12" >2000</text>
<text x="227.90" y="703.60" font-size="5.9" font-weight="bold" stroke="#000" stroke-width="0.18" >p = 0.04</text>
<text x="202.20" y="686.50" font-size="5.0" font-weight="bold" text-anchor="middle" stroke="#000" stroke-width="0.18" transform="rotate(-90 202.20 686.50)" >Survival probability</text>
<text x="291.00" y="725.00" font-size="5.04" font-weight="bold" text-anchor="middle" stroke="#000" stroke-width="0.18" >Time (days)</text>
<text x="218.40" y="731.40" font-size="4.52" stroke="#000" stroke-width="0.12" >Number at risk</text>
<rect x="218.40" y="734.80" width="144.80" height="9.80" fill="#fff" />
<line x1="225.60" y1="734.80" x2="225.60" y2="744.60" stroke="#E6E6E6" stroke-width="0.6" />
<line x1="258.90" y1="734.80" x2="258.90" y2="744.60" stroke="#E6E6E6" stroke-width="0.6" />
<line x1="292.20" y1="734.80" x2="292.20" y2="744.60" stroke="#E6E6E6" stroke-width="0.6" />
<line x1="325.50" y1="734.80" x2="325.50" y2="744.60" stroke="#E6E6E6" stroke-width="0.6" />
<line x1="358.80" y1="734.80" x2="358.80" y2="744.60" stroke="#E6E6E6" stroke-width="0.6" />
<rect x="218.40" y="734.80" width="144.80" height="9.80" fill="none" stroke="#4D4D4D" stroke-width="0.6" />
<text x="216.20" y="738.00" font-size="6.0" text-anchor="end" fill="#2E3A97" stroke="#2E3A97" stroke-width="0.12" >high_risk</text>
<text x="225.60" y="738.20" font-size="4.0" text-anchor="middle" fill="#2E3A97" stroke="#2E3A97" stroke-width="0.12" >199</text>
<text x="258.90" y="738.20" font-size="4.0" text-anchor="middle" fill="#2E3A97" stroke="#2E3A97" stroke-width="0.12" >145</text>
<text x="292.20" y="738.20" font-size="4.0" text-anchor="middle" fill="#2E3A97" stroke="#2E3A97" stroke-width="0.12" >47</text>
<text x="325.50" y="738.20" font-size="4.0" text-anchor="middle" fill="#2E3A97" stroke="#2E3A97" stroke-width="0.12" >11</text>
<text x="358.80" y="738.20" font-size="4.0" text-anchor="middle" fill="#2E3A97" stroke="#2E3A97" stroke-width="0.12" >0</text>
<text x="216.20" y="743.20" font-size="6.0" text-anchor="end" fill="#E41A1C" stroke="#E41A1C" stroke-width="0.12" >low_risk</text>
<text x="225.60" y="743.40" font-size="4.0" text-anchor="middle" fill="#E41A1C" stroke="#E41A1C" stroke-width="0.12" >199</text>
<text x="258.90" y="743.40" font-size="4.0" text-anchor="middle" fill="#E41A1C" stroke="#E41A1C" stroke-width="0.12" >165</text>
<text x="292.20" y="743.40" font-size="4.0" text-anchor="middle" fill="#E41A1C" stroke="#E41A1C" stroke-width="0.12" >56</text>
<text x="325.50" y="743.40" font-size="4.0" text-anchor="middle" fill="#E41A1C" stroke="#E41A1C" stroke-width="0.12" >13</text>
<text x="358.80" y="743.40" font-size="4.0" text-anchor="middle" fill="#E41A1C" stroke="#E41A1C" stroke-width="0.12" >1</text>
<text x="225.60" y="748.80" font-size="3.6" text-anchor="middle" fill="#444" stroke="#444" stroke-width="0.12" >0</text>
<text x="258.90" y="748.80" font-size="3.6" text-anchor="middle" fill="#444" stroke="#444" stroke-width="0.12" >500</text>
<text x="292.20" y="748.80" font-size="3.6" text-anchor="middle" fill="#444" stroke="#444" stroke-width="0.12" >1000</text>
<text x="325.50" y="748.80" font-size="3.6" text-anchor="middle" fill="#444" stroke="#444" stroke-width="0.12" >1500</text>
<text x="358.80" y="748.80" font-size="3.6" text-anchor="middle" fill="#444" stroke="#444" stroke-width="0.12" >2000</text>
<text x="386.40" y="639.50" font-size="9.4" font-weight="bold" stroke="#000" stroke-width="0.18" >L</text>
<text x="410.50" y="647.90" font-size="7.85" font-weight="bold" stroke="#000" stroke-width="0.18" >Time dependent ROC (one year)</text>
<line x1="398.80" y1="720.60" x2="540.30" y2="658.40" stroke="#CCCCCC" stroke-width="1.3" stroke-dasharray="3.2,3.2" />
<polyline points="398.80,720.60 398.80,719.42 398.78,717.74 398.87,715.83 399.20,714.00 399.74,712.23 400.43,710.40 401.39,708.62 402.70,707.00 404.59,705.62 406.94,704.39 409.35,703.22 411.40,702.00 412.86,700.86 413.99,699.80 415.13,698.52 416.60,696.70 418.51,694.10 420.68,690.93 423.00,687.59 425.40,684.50 427.89,681.75 430.49,679.14 433.16,676.58 435.80,674.00 438.46,671.26 441.16,668.45 443.80,665.81 446.30,663.60 448.64,661.89 450.87,660.54 452.99,659.50 455.00,658.70 456.73,658.21 458.23,658.04 459.87,658.03 462.00,658.00 463.60,657.95 464.86,657.96 467.93,657.98 475.00,658.00 489.18,658.00 508.46,658.00 527.34,658.00 540.30,658.00" fill="none" stroke="#D0533C" stroke-width="1.0" stroke-linejoin="round"/>
<polyline points="398.80,720.60 398.79,720.60 398.74,720.61 398.90,720.54 399.50,720.30 400.66,719.95 402.23,719.52 404.06,718.83 406.00,717.70 408.08,715.96 410.37,713.75 412.72,711.34 415.00,709.00 417.18,706.80 419.32,704.59 421.45,702.34 423.60,700.00 425.77,697.62 427.94,695.21 430.12,692.65 432.30,689.80 434.47,686.50 436.64,682.87 438.82,679.20 441.00,675.80 443.20,672.65 445.40,669.62 447.60,666.85 449.80,664.50 451.96,662.61 454.11,661.09 456.27,659.91 458.50,659.00 459.35,658.45 459.27,658.26 461.19,658.23 468.00,658.20 483.35,658.14 504.74,658.15 525.84,658.18 540.30,658.20" fill="none" stroke="#45C1CF" stroke-width="1.0" stroke-linejoin="round"/>
<polyline points="398.80,720.60 398.79,720.63 398.74,720.68 398.90,720.64 399.50,720.40 400.66,719.96 402.23,719.36 404.06,718.56 406.00,717.50 408.04,716.12 410.26,714.46 412.59,712.63 415.00,710.70 417.58,708.62 420.33,706.36 423.01,704.10 425.40,702.00 427.37,700.25 429.06,698.72 430.65,697.08 432.30,695.00 434.04,692.36 435.79,689.34 437.55,686.10 439.30,682.80 441.05,679.26 442.80,675.47 444.55,671.84 446.30,668.80 447.97,666.48 449.59,664.66 451.31,663.18 453.30,661.90 455.76,660.84 458.54,660.06 461.31,659.48 463.70,659.00 464.06,658.65 463.11,658.47 464.02,658.37 470.00,658.30 484.72,658.25 505.54,658.26 526.17,658.28 540.30,658.30" fill="none" stroke="#2BA58A" stroke-width="1.0" stroke-linejoin="round"/>
<polyline points="398.80,720.60 398.65,719.93 398.39,718.98 398.37,717.88 398.90,716.80 400.19,715.72 402.01,714.57 404.11,713.44 406.20,712.40 408.23,711.69 410.35,711.19 412.57,710.45 414.90,709.00 417.40,706.59 420.04,703.51 422.74,700.10 425.40,696.70 428.00,693.26 430.60,689.64 433.20,686.07 435.80,682.80 438.42,679.89 441.05,677.22 443.68,674.72 446.30,672.30 448.90,669.90 451.50,667.57 454.10,665.43 456.70,663.60 459.38,662.11 462.11,660.91 464.76,659.95 467.20,659.20 467.99,658.73 467.68,658.53 469.07,658.46 475.00,658.40 488.81,658.34 508.14,658.35 527.22,658.38 540.30,658.40" fill="none" stroke="#3F57A5" stroke-width="1.0" stroke-linejoin="round"/>
<rect x="393.60" y="656.10" width="152.20" height="67.20" fill="none" stroke="#444" stroke-width="1.0" />
<line x1="391.60" y1="720.60" x2="393.60" y2="720.60" stroke="#444" stroke-width="0.6" />
<text x="388.40" y="720.60" font-size="4.3" text-anchor="middle" fill="#444" stroke="#444" stroke-width="0.12" transform="rotate(-90 388.40 720.60)" >0.0</text>
<line x1="391.60" y1="708.16" x2="393.60" y2="708.16" stroke="#444" stroke-width="0.6" />
<text x="388.40" y="708.16" font-size="4.3" text-anchor="middle" fill="#444" stroke="#444" stroke-width="0.12" transform="rotate(-90 388.40 708.16)" >0.2</text>
<line x1="391.60" y1="695.72" x2="393.60" y2="695.72" stroke="#444" stroke-width="0.6" />
<text x="388.40" y="695.72" font-size="4.3" text-anchor="middle" fill="#444" stroke="#444" stroke-width="0.12" transform="rotate(-90 388.40 695.72)" >0.4</text>
<line x1="391.60" y1="683.28" x2="393.60" y2="683.28" stroke="#444" stroke-width="0.6" />
<text x="388.40" y="683.28" font-size="4.3" text-anchor="middle" fill="#444" stroke="#444" stroke-width="0.12" transform="rotate(-90 388.40 683.28)" >0.6</text>
<line x1="391.60" y1="670.84" x2="393.60" y2="670.84" stroke="#444" stroke-width="0.6" />
<text x="388.40" y="670.84" font-size="4.3" text-anchor="middle" fill="#444" stroke="#444" stroke-width="0.12" transform="rotate(-90 388.40 670.84)" >0.8</text>
<line x1="391.60" y1="658.40" x2="393.60" y2="658.40" stroke="#444" stroke-width="0.6" />
<text x="388.40" y="658.40" font-size="4.3" text-anchor="middle" fill="#444" stroke="#444" stroke-width="0.12" transform="rotate(-90 388.40 658.40)" >1.0</text>
<line x1="398.80" y1="723.30" x2="398.80" y2="725.30" stroke="#444" stroke-width="0.6" />
<text x="398.80" y="732.60" font-size="4.3" text-anchor="middle" fill="#444" stroke="#444" stroke-width="0.12" >0.0</text>
<line x1="427.10" y1="723.30" x2="427.10" y2="725.30" stroke="#444" stroke-width="0.6" />
<text x="427.10" y="732.60" font-size="4.3" text-anchor="middle" fill="#444" stroke="#444" stroke-width="0.12" >0.2</text>
<line x1="455.40" y1="723.30" x2="455.40" y2="725.30" stroke="#444" stroke-width="0.6" />
<text x="455.40" y="732.60" font-size="4.3" text-anchor="middle" fill="#444" stroke="#444" stroke-width="0.12" >0.4</text>
<line x1="483.70" y1="723.30" x2="483.70" y2="725.30" stroke="#444" stroke-width="0.6" />
<text x="483.70" y="732.60" font-size="4.3" text-anchor="middle" fill="#444" stroke="#444" stroke-width="0.12" >0.6</text>
<line x1="512.00" y1="723.30" x2="512.00" y2="725.30" stroke="#444" stroke-width="0.6" />
<text x="512.00" y="732.60" font-size="4.3" text-anchor="middle" fill="#444" stroke="#444" stroke-width="0.12" >0.8</text>
<line x1="540.30" y1="723.30" x2="540.30" y2="725.30" stroke="#444" stroke-width="0.6" />
<text x="540.30" y="732.60" font-size="4.3" text-anchor="middle" fill="#444" stroke="#444" stroke-width="0.12" >1.0</text>
<text x="378.50" y="690.20" font-size="7.1" font-weight="bold" text-anchor="middle" stroke="#000" stroke-width="0.18" transform="rotate(-90 378.50 690.20)" >True positive rate</text>
<text x="468.70" y="741.60" font-size="7.0" font-weight="bold" text-anchor="middle" stroke="#000" stroke-width="0.18" >False positive rate</text>
<line x1="469.60" y1="692.90" x2="473.20" y2="692.90" stroke="#D0533C" stroke-width="1.1" />
<text x="478.00" y="694.80" font-size="5.43" fill="#D0533C" stroke="#D0533C" stroke-width="0.12" >AUC of GSE26939 = 0.831</text>
<line x1="469.60" y1="701.10" x2="473.20" y2="701.10" stroke="#45C1CF" stroke-width="1.1" />
<text x="478.00" y="703.00" font-size="5.43" fill="#45C1CF" stroke="#45C1CF" stroke-width="0.12" >AUC of GSE72094 = 0.763</text>
<line x1="469.60" y1="710.70" x2="473.20" y2="710.70" stroke="#2BA58A" stroke-width="1.1" />
<text x="478.00" y="712.60" font-size="5.43" fill="#2BA58A" stroke="#2BA58A" stroke-width="0.12" >AUC of GSE68571 = 0.756</text>
<line x1="469.60" y1="719.10" x2="473.20" y2="719.10" stroke="#3F57A5" stroke-width="1.1" />
<text x="478.00" y="721.00" font-size="5.43" fill="#3F57A5" stroke="#3F57A5" stroke-width="0.12" >AUC of GSE68465 = 0.775</text>
</svg>
</body></html>
